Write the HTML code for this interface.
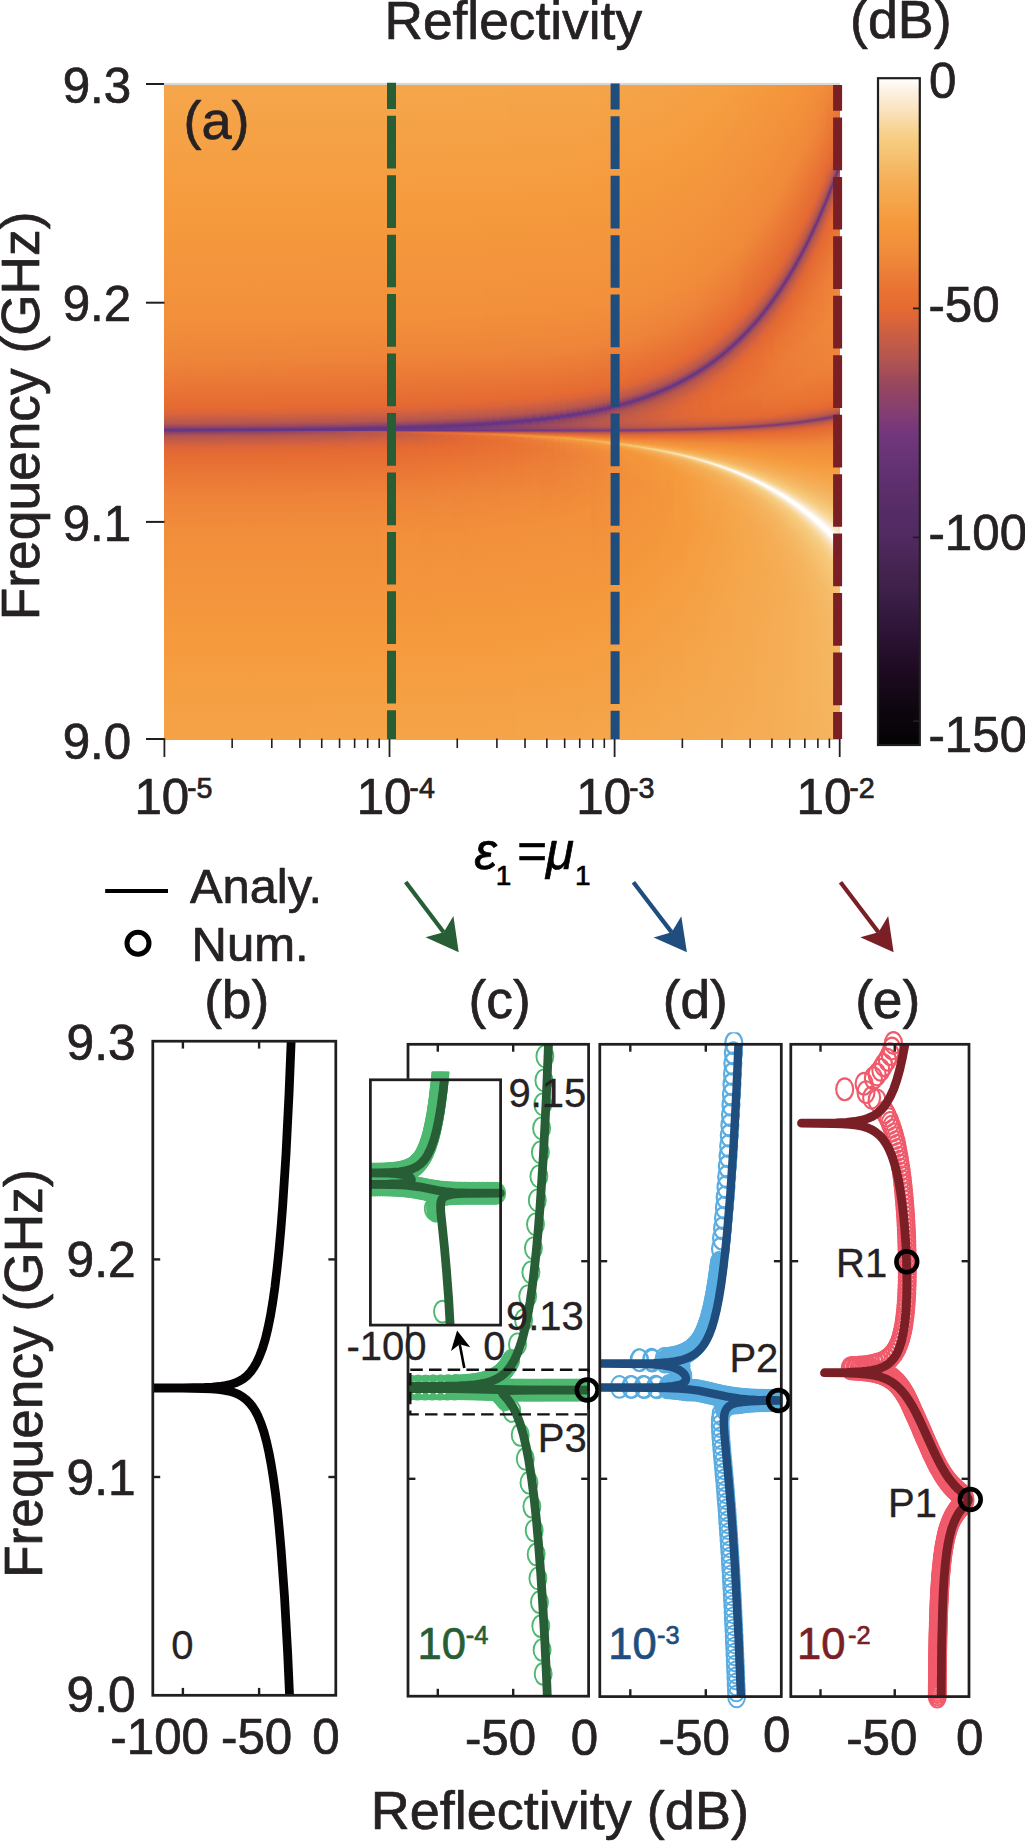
<!DOCTYPE html>
<html><head><meta charset="utf-8"><title>Reflectivity</title>
<style>
html,body{margin:0;padding:0;background:#fff}
#fig{position:relative;width:1025px;height:1841px;overflow:hidden;background:#fff;font-family:"Liberation Sans",sans-serif}
#hm{position:absolute;left:164px;top:84.9px;width:676px;height:654.8px;overflow:hidden}
#hm i{position:absolute;top:0;height:100%;display:block}
svg{position:absolute;left:0;top:0;font-family:"Liberation Sans",sans-serif}
text{stroke-width:.7px;stroke-linejoin:round}
</style></head><body>
<div id="fig">
<div id="hm">
<i style="left:0px;width:8px;background:linear-gradient(#f5a64b 0px,#f59a3d 135px,#f2903b 233.2px,#ee8539 274.8px,#e56a32 322.5px,#da643b 328.8px,#b45650 338.8px,#954561 342.2px,#683786 344.5px,#643683 345.2px,#6c3883 346px,#954561 348px,#b5564f 351.8px,#db643b 361.8px,#e56a32 367.8px,#ee8339 412px,#f18e3b 449.5px,#f59a3d 555.2px,#f5a348 654.8px)"></i>
<i style="left:8px;width:8px;background:linear-gradient(#f5a64b 0px,#f59a3d 135px,#f2903b 233.2px,#ee8539 274.8px,#e56a32 322.5px,#db643b 328.5px,#b5564f 338.5px,#944561 342.2px,#6c3883 344.2px,#643683 345.2px,#6d3883 346px,#954661 348px,#b45650 351.5px,#da643b 361.5px,#e56a32 367.8px,#ee8339 412px,#f18e3b 449.5px,#f59a3d 555.2px,#f5a348 654.8px)"></i>
<i style="left:16px;width:8px;background:linear-gradient(#f5a64b 0px,#f59a3d 135px,#f2903b 233.2px,#ee8439 274.8px,#e56a32 322.5px,#db643b 328.5px,#b5564f 338.5px,#944561 342.2px,#6c3883 344.2px,#643683 345.2px,#673786 345.8px,#924463 347.8px,#b45650 351.5px,#da643b 361.5px,#e56a32 367.8px,#ee8339 412px,#f18e3b 449.5px,#f59a3d 555.2px,#f5a348 654.8px)"></i>
<i style="left:24px;width:8px;background:linear-gradient(#f5a64b 0px,#f59a3d 135px,#f2903b 233.2px,#ee8439 274.8px,#e56a32 322.5px,#da643b 328.5px,#b5564f 338.5px,#944562 342.2px,#6b3784 344.2px,#643683 345.2px,#683786 345.8px,#813f76 346.8px,#934562 347.8px,#b55650 351.5px,#da643b 361.5px,#e56a32 367.8px,#ee8339 412px,#f18e3b 449.5px,#f59a3d 555.2px,#f5a348 654.8px)"></i>
<i style="left:32px;width:8px;background:linear-gradient(#f5a64b 0px,#f59a3d 134.8px,#f2903b 233px,#ee8539 274.5px,#e56a32 322.2px,#da643b 328.5px,#b55650 338.5px,#934562 342.2px,#6a3785 344.2px,#643683 345.2px,#683786 345.8px,#823f75 346.8px,#944562 347.8px,#b5564f 351.5px,#da643b 361.5px,#e56a32 367.5px,#ee8339 411.8px,#f18e3b 449.2px,#f59a3d 555px,#f5a348 654.8px)"></i>
<i style="left:40px;width:8px;background:linear-gradient(#f5a64b 0px,#f59a3d 134.8px,#f2903b 233px,#ee8539 274.5px,#e56a32 322.2px,#da643b 328.5px,#b45650 338.5px,#924463 342.2px,#693785 344.2px,#633682 345px,#683786 345.8px,#7d3d78 346.5px,#944561 347.8px,#b5564f 351.5px,#db643b 361.5px,#e56a32 367.5px,#ee8339 411.8px,#f18e3b 449.2px,#f59a3d 555px,#f5a348 654.8px)"></i>
<i style="left:48px;width:8px;background:linear-gradient(#f5a64b 0px,#f59a3d 134.8px,#f2903b 233px,#ee8539 274.5px,#e56a32 322.2px,#da643b 328.5px,#b45650 338.5px,#954661 342px,#683786 344.2px,#633682 345px,#693785 345.8px,#7f3e77 346.5px,#954561 347.8px,#b45650 351.2px,#da643b 361.2px,#e56a32 367.5px,#ee8339 411.8px,#f18e3b 449.2px,#f59a3d 555px,#f5a348 654.8px)"></i>
<i style="left:56px;width:8px;background:linear-gradient(#f5a64b 0px,#f59a3d 134.8px,#f2903b 233px,#ee8539 274.5px,#e56a32 322.2px,#db643b 328.2px,#b5564f 338.2px,#954561 342px,#683786 344.2px,#633682 345px,#6a3785 345.8px,#803e76 346.5px,#934462 347.5px,#b45650 351.2px,#da643b 361.2px,#e56a32 367.5px,#ee8339 411.8px,#f18e3b 449.2px,#f59a3d 555px,#f5a348 654.8px)"></i>
<i style="left:64px;width:8px;background:linear-gradient(#f5a64b 0px,#f59a3d 134.8px,#f2903b 233px,#ee8439 274.5px,#e56a32 322.2px,#da643b 328.2px,#b5564f 338.2px,#944561 342px,#6c3883 344px,#633582 345px,#6b3784 345.8px,#823f74 346.5px,#944562 347.5px,#b55650 351.2px,#db653a 361.5px,#e56a32 367.5px,#ee8339 411.8px,#f18e3b 449.2px,#f59a3d 555px,#f5a348 654.8px)"></i>
<i style="left:72px;width:8px;background:linear-gradient(#f5a64b 0px,#f59a3d 134.5px,#f2903b 232.8px,#ee8539 274.2px,#e56a32 322px,#da643b 328.2px,#b55650 338.2px,#934562 342px,#6b3784 344px,#633582 345px,#6b3884 345.8px,#7e3d78 346.2px,#954561 347.5px,#b5564f 351.2px,#da643b 361.2px,#e56a32 367.2px,#ee8339 411.5px,#f18e3b 449px,#f59a3d 554.8px,#f5a348 654.8px)"></i>
<i style="left:80px;width:8px;background:linear-gradient(#f5a64b 0px,#f59a3d 134.5px,#f2903b 232.8px,#ee8539 274.2px,#e56a32 322px,#da643b 328.2px,#b45650 338.2px,#954660 341.8px,#693785 344px,#633582 345px,#663785 345.5px,#6c3883 345.8px,#803e76 346.2px,#934562 347.2px,#b45650 351px,#da643b 361px,#e56a32 367.2px,#ee8339 411.8px,#f18e3b 449.2px,#f59a3d 554.8px,#f5a348 654.8px)"></i>
<i style="left:88px;width:8px;background:linear-gradient(#f5a64b 0px,#f59a3d 134.5px,#f2903b 232.8px,#ee8539 274.2px,#e56a32 322px,#db643b 328px,#b5564f 338px,#954561 341.8px,#683786 344px,#623581 345px,#663785 345.5px,#6d3882 345.8px,#823f74 346.2px,#944561 347.2px,#b55650 351px,#da643b 361px,#e56a32 367.2px,#ee8339 411.8px,#f18e3b 449.2px,#f59a3d 554.8px,#f5a348 654.8px)"></i>
<i style="left:96px;width:8px;background:linear-gradient(#f5a64b 0px,#f59a3d 134.5px,#f2903b 232.8px,#ee8439 274.2px,#e56a32 322px,#da643b 328px,#b5564f 338px,#944561 341.8px,#683786 344px,#623581 345px,#663785 345.5px,#6e3882 345.8px,#843f71 346.2px,#934462 347px,#b5564f 351px,#da643b 361px,#e56a32 367px,#ee8339 411.5px,#f18e3b 449px,#f59a3d 554.5px,#f5a348 654.8px)"></i>
<i style="left:104px;width:8px;background:linear-gradient(#f5a64b 0px,#f59a3d 134.2px,#f2903b 232.5px,#ee8539 274px,#e56a32 321.8px,#da643b 328px,#b45650 338px,#934562 341.8px,#6b3784 343.8px,#623581 344.8px,#673785 345.5px,#6f3881 345.8px,#86406f 346.2px,#944561 347px,#b45650 350.8px,#da643b 360.8px,#e56a32 367px,#ee8339 411.5px,#f18e3b 449px,#f59a3d 554.5px,#f5a348 654.8px)"></i>
<i style="left:112px;width:8px;background:linear-gradient(#f5a64b 0px,#f59a3d 134.2px,#f2903b 232.5px,#ee8539 274px,#e56a32 321.8px,#db643b 327.8px,#b5564f 337.8px,#954661 341.5px,#693785 343.8px,#623581 344.8px,#673785 345.5px,#703980 345.8px,#89416b 346.2px,#944562 346.8px,#b5564f 350.8px,#db653a 361px,#e56a32 367px,#ee8339 411.5px,#f18e3b 449px,#f59a3d 554.5px,#f5a348 654.8px)"></i>
<i style="left:120px;width:8px;background:linear-gradient(#f5a64b 0px,#f59a3d 134px,#f2903b 232.2px,#ee8539 273.8px,#e56a32 321.5px,#db653a 327.5px,#b5564f 337.8px,#944561 341.5px,#683786 343.8px,#623581 344.8px,#673786 345.5px,#813f75 346px,#8c4268 346.2px,#934463 346.5px,#b45650 350.5px,#da643b 360.5px,#e56a32 366.8px,#ee8339 411.2px,#f18e3b 448.8px,#f59a3d 554.2px,#f5a348 654.8px)"></i>
<i style="left:128px;width:8px;background:linear-gradient(#f5a64b 0px,#f59a3d 134px,#f2903b 232.5px,#ee8439 274px,#e56a32 321.5px,#da643b 327.8px,#b45650 337.8px,#934562 341.5px,#813f76 342.5px,#673786 343.8px,#623581 344.8px,#673786 345.5px,#72397f 345.8px,#8f4366 346.2px,#954661 346.5px,#b5564f 350.5px,#db653a 360.8px,#e56a32 366.8px,#ee8339 411.2px,#f18e3b 448.8px,#f59a3d 554.2px,#f5a348 654.8px)"></i>
<i style="left:136px;width:8px;background:linear-gradient(#f5a64b 0px,#f59a3d 134px,#f2903b 232.5px,#ee8439 274px,#e56a32 321.5px,#da643b 327.5px,#b5564f 337.5px,#954561 341.2px,#693785 343.5px,#623581 344.5px,#673786 345.5px,#73397f 345.8px,#924463 346.2px,#97475f 346.5px,#b45650 350.2px,#db643b 360.5px,#e56a32 366.5px,#ee8339 411px,#f18e3b 448.5px,#f59a3d 554px,#f5a348 654.8px)"></i>
<i style="left:144px;width:8px;background:linear-gradient(#f5a64b 0px,#f59a3d 133.8px,#f2903b 232.2px,#ee8439 273.8px,#e56a32 321.2px,#da643b 327.5px,#b45650 337.5px,#944562 341.2px,#683786 343.5px,#623581 344.5px,#683786 345.5px,#743a7e 345.8px,#954561 346.2px,#9a485d 346.5px,#b45650 350px,#da643b 360.2px,#e56a32 366.5px,#ee8339 411px,#f18e3b 448.5px,#f59a3d 554px,#f5a448 654.8px)"></i>
<i style="left:152px;width:8px;background:linear-gradient(#f5a64b 0px,#f59a3d 133.8px,#f2903b 232.2px,#ee8439 273.8px,#e56a32 321.2px,#da643b 327.2px,#b5564f 337.2px,#954661 341px,#6a3784 343.2px,#623581 344.5px,#683786 345.5px,#743a7e 345.8px,#97465f 346.2px,#9d495b 346.5px,#b45650 349.8px,#da643b 360px,#e56a32 366.2px,#ee8339 410.8px,#f18e3b 448.5px,#f59a3d 553.8px,#f5a448 654.8px)"></i>
<i style="left:160px;width:8px;background:linear-gradient(#f5a64b 0px,#f59a3d 133.5px,#f2903b 232px,#ee8439 273.5px,#e56a32 321px,#db653a 327px,#b45650 337.2px,#944562 341px,#683786 343.2px,#623581 344.2px,#683786 345.5px,#753a7d 345.8px,#99475e 346.2px,#a04b59 346.5px,#b45650 349.5px,#da643b 360px,#e56a32 366px,#ee8339 410.5px,#f18e3b 448.2px,#f59a3d 553.8px,#f5a448 654.8px)"></i>
<i style="left:168px;width:8px;background:linear-gradient(#f5a64b 0px,#f59a3d 133.5px,#f2903b 232px,#ee8439 273.5px,#e56a32 321px,#da643b 327px,#b5564f 337px,#954661 340.8px,#6b3784 343px,#613581 344.2px,#693786 345.5px,#753a7d 345.8px,#9b485d 346.2px,#a74f57 346.8px,#bf5949 351.8px,#d6623d 358.2px,#e56a32 366px,#ee8339 410.8px,#f18e3b 448.2px,#f59a3d 553.5px,#f5a448 654.8px)"></i>
<i style="left:176px;width:8px;background:linear-gradient(#f5a64b 0px,#f59a3d 133.2px,#f2903b 232px,#ee8439 273.2px,#e56a32 320.8px,#da643b 327px,#b45650 337px,#944562 340.8px,#683786 343px,#613581 344px,#693785 345.5px,#763a7d 345.8px,#9c495c 346.2px,#ab5155 346.8px,#d9643b 359px,#e56a32 365.8px,#ee8339 410.5px,#f18e3b 448px,#f59a3d 553.2px,#f5a448 654.8px)"></i>
<i style="left:184px;width:8px;background:linear-gradient(#f5a64b 0px,#f59a3d 133px,#f2903b 231.8px,#ee8439 273px,#e56a32 320.5px,#db653a 326.5px,#b55650 336.8px,#954561 340.5px,#6a3784 342.8px,#613581 344px,#693785 345.5px,#763a7d 345.8px,#9d4a5b 346.2px,#aa5155 346.5px,#af5452 346.8px,#dc653a 359.8px,#e56a32 365.5px,#ee8339 410.2px,#f18e3b 447.8px,#f59a3d 553px,#f5a448 654.8px)"></i>
<i style="left:192px;width:8px;background:linear-gradient(#f5a64b 0px,#f59a3d 133px,#f2903b 231.8px,#ee8439 273.2px,#e56a32 320.5px,#da643b 326.5px,#b5564f 336.5px,#954660 340.2px,#683786 342.8px,#613581 343.8px,#6a3785 345.5px,#763b7d 345.8px,#9e4a5a 346.2px,#ad5254 346.5px,#b45650 346.8px,#dc653a 359.5px,#e56a32 365.2px,#ee8339 410px,#f18e3b 447.8px,#f59a3d 553px,#f5a448 654.8px)"></i>
<i style="left:200px;width:8px;background:linear-gradient(#f5a64b 0px,#f59a3d 132.8px,#f2903b 231.5px,#ee8439 273px,#e56a32 320.2px,#da643b 326.5px,#b45650 336.5px,#944562 340.2px,#693785 342.5px,#613581 343.8px,#6a3784 345.5px,#763b7d 345.8px,#9e4a5a 346.2px,#af5452 346.5px,#b8574e 346.8px,#ba574c 347px,#bb574c 349px,#dc653a 359.2px,#e56a32 365px,#ee8339 409.8px,#f18e3b 447.5px,#f59a3d 552.8px,#f5a448 654.8px)"></i>
<i style="left:208px;width:8px;background:linear-gradient(#f5a64b 0px,#f59a3d 132.5px,#f2903b 231.5px,#ee8439 272.8px,#e56a32 320px,#db643b 326px,#b45650 336.2px,#944561 340px,#6b3784 342.2px,#613581 343.5px,#6b3784 345.5px,#763b7d 345.8px,#9e4a5a 346.2px,#b15452 346.5px,#bb584b 346.8px,#be5949 347px,#bd584a 349px,#dc653a 359px,#e56a32 364.8px,#ee8339 409.5px,#f18e3b 447.2px,#f59a3d 552.5px,#f5a448 654.8px)"></i>
<i style="left:216px;width:8px;background:linear-gradient(#f5a64b 0px,#f59a3d 132.2px,#f2903b 231.2px,#ee8439 272.5px,#e56a32 319.8px,#db653a 325.8px,#b55650 336px,#954561 339.8px,#683786 342.2px,#613581 343.2px,#6b3784 345.5px,#763b7d 345.8px,#9d4a5b 346.2px,#b15452 346.5px,#be584a 346.8px,#c25b47 347px,#c05a48 349.2px,#dc653a 358.8px,#e56a32 364.5px,#ee8339 409.5px,#f28f3b 447.2px,#f59a3d 552.2px,#f5a448 654.8px)"></i>
<i style="left:224px;width:8px;background:linear-gradient(#f5a64b 0px,#f59a3d 132.2px,#f2903b 231px,#ee8439 272.2px,#e56a32 319.5px,#db653a 325.5px,#b55650 335.8px,#954661 339.5px,#683786 342px,#613581 343px,#6b3784 345.5px,#763a7d 345.8px,#9c495b 346.2px,#b05452 346.5px,#bf5949 346.8px,#c65d45 347px,#c35c46 349.8px,#dc653a 358.2px,#e56a32 364px,#ee8339 409px,#f28f3b 446.8px,#f59a3d 551.8px,#f5a448 654.8px)"></i>
<i style="left:232px;width:8px;background:linear-gradient(#f5a64b 0px,#f59a3d 132px,#f2903b 231px,#ee8439 272.2px,#e56a32 319.2px,#db653a 325.2px,#b5564f 335.5px,#954660 339.2px,#693786 341.8px,#613581 343px,#673785 344.2px,#6c3883 345.5px,#763a7d 345.8px,#9b495c 346.2px,#c05949 346.8px,#ca5e43 347px,#cd5f41 347.2px,#c65d45 348.5px,#c65d45 350px,#dc653a 358px,#e56a32 363.8px,#ee8339 409px,#f28f3b 446.8px,#f59a3d 551.5px,#f5a448 654.8px)"></i>
<i style="left:240px;width:8px;background:linear-gradient(#f5a64b 0px,#f59a3d 131.8px,#f2903b 230.8px,#ee8439 272px,#e56a32 319px,#db653a 325px,#b55650 335.2px,#934463 339.2px,#693785 341.5px,#613581 342.8px,#683786 344.2px,#6c3883 345.5px,#753a7d 345.8px,#9a485d 346.2px,#bf5949 346.8px,#cc5f42 347px,#d2613e 347.2px,#ca5e43 348.8px,#ca5e43 350.2px,#dc653a 357.5px,#e56a32 363.2px,#ee8339 408.5px,#f28f3b 446.2px,#f59a3d 551.2px,#f5a448 654.8px)"></i>
<i style="left:248px;width:8px;background:linear-gradient(#f5a64b 0px,#f59a3d 131.5px,#f2903b 230.8px,#ee8439 272px,#e56a32 318.8px,#db653a 324.8px,#b55650 335px,#954661 338.8px,#693785 341.2px,#613581 342.5px,#683786 344px,#6c3883 345.5px,#753a7d 345.8px,#99475e 346.2px,#cc5f41 347px,#d7633c 347.2px,#da643b 347.5px,#ce6040 348.8px,#cc5f41 350.2px,#e56a32 362.8px,#ee8339 408.2px,#f28f3b 446px,#f59a3d 550.8px,#f5a448 654.8px)"></i>
<i style="left:256px;width:8px;background:linear-gradient(#f5a64b 0px,#f59a3d 131.2px,#f2903b 230.8px,#ee8439 271.8px,#e56a32 318.5px,#db643b 324.5px,#b45650 334.8px,#954561 338.5px,#683786 341px,#613581 342.2px,#673786 343.5px,#6d3883 345.5px,#753a7d 345.8px,#98475f 346.2px,#d9643b 347.2px,#df6737 347.5px,#d3613e 349px,#d0603f 350.5px,#e06736 358.8px,#e66c32 365px,#ee8439 409.2px,#f18e3b 444.8px,#f59a3d 550.2px,#f5a448 654.8px)"></i>
<i style="left:264px;width:8px;background:linear-gradient(#f5a64b 0px,#f59a3d 131px,#f2903b 230.5px,#ee8439 271.8px,#e56a32 318.2px,#db643b 324.2px,#b45650 334.5px,#944561 338.2px,#683786 340.8px,#613581 341.8px,#683786 343.2px,#6d3882 344.2px,#6d3883 345.5px,#753a7d 345.8px,#843f72 346px,#964660 346.2px,#d8633c 347.2px,#e26835 347.5px,#e46a33 347.8px,#d7633c 349.2px,#d4623d 350.8px,#e56a32 361.5px,#e86f32 369.2px,#ef8639 413.8px,#f28f3b 449.5px,#f59a3d 550px,#f5a448 654.8px)"></i>
<i style="left:272px;width:8px;background:linear-gradient(#f5a64b 0px,#f59a3d 130.8px,#f2903b 230.5px,#ee8439 271.5px,#e56a32 318px,#db653a 323.8px,#b5564f 334px,#944562 338px,#7f3e77 339.2px,#673786 340.5px,#613581 341.5px,#673786 342.8px,#6f3881 344px,#6d3882 345.5px,#753a7d 345.8px,#833f73 346px,#954661 346.2px,#e26934 347.5px,#e66c32 348px,#db643b 349.8px,#d8633c 351.2px,#e56a32 360.8px,#e97232 373.2px,#ef883a 417px,#f2903b 452px,#f59a3d 549.5px,#f5a448 654.8px)"></i>
<i style="left:280px;width:8px;background:linear-gradient(#f5a64b 0px,#f59a3d 130.5px,#f2903b 230.5px,#ee8439 271.5px,#e56a32 317.8px,#da643b 323.8px,#b45650 333.8px,#954661 337.5px,#693785 340px,#613581 341.2px,#683786 342.5px,#713980 343.8px,#6d3882 345.5px,#753a7d 345.8px,#833f73 346px,#944561 346.2px,#e06736 347.5px,#e86f32 348px,#df6737 349.8px,#dc653a 352px,#e56a32 360px,#e97232 372.8px,#ef883a 416.5px,#f2903b 451.5px,#f59a3d 548.8px,#f5a448 654.8px)"></i>
<i style="left:288px;width:8px;background:linear-gradient(#f5a64b 0px,#f59a3d 130px,#f2903b 230.2px,#ee8439 271.2px,#e56a32 317.2px,#db653a 323px,#b5564f 333.2px,#944562 337.2px,#683786 339.8px,#613581 340.8px,#673786 342px,#733a7e 343.5px,#6e3882 345.5px,#753a7d 345.8px,#823f74 346px,#934562 346.2px,#dd6639 347.5px,#e66c32 347.8px,#e97232 348.2px,#e26835 350.2px,#df6737 353.2px,#e56a32 359px,#e97232 371.8px,#ee8439 407.8px,#f2903b 451px,#f59a3d 548.2px,#f5a449 654.8px)"></i>
<i style="left:296px;width:8px;background:linear-gradient(#f5a64b 0px,#f59a3d 129.8px,#f2903b 230.2px,#ee8439 271.2px,#e56a32 317px,#da643b 323px,#b45650 333px,#954561 336.8px,#693785 339.2px,#623581 340.5px,#693786 341.8px,#763b7c 343.5px,#6e3882 345.5px,#743a7e 345.8px,#813f75 346px,#924463 346.2px,#e56a32 347.8px,#ea7634 348.5px,#e56b32 350.2px,#e26835 353.5px,#e97232 371px,#ee8439 405.5px,#f18e3b 442px,#f59a3d 547.8px,#f5a449 654.8px)"></i>
<i style="left:304px;width:8px;background:linear-gradient(#f5a64a 0px,#f59a3d 129.5px,#f2903b 230px,#ee8439 270.8px,#e56a32 316.5px,#db653a 322.2px,#b45650 332.5px,#934463 336.5px,#6a3784 338.8px,#623581 340px,#683786 341.2px,#793c7a 343.2px,#793c7b 344px,#6e3882 345.5px,#743a7e 345.8px,#813f75 346px,#904365 346.2px,#9d495b 346.5px,#e06736 347.8px,#e76e32 348px,#eb7936 348.5px,#eb7a36 348.8px,#e66c32 350.8px,#e46a33 354.2px,#ee8539 407.2px,#f28f3b 443.5px,#f59a3d 547px,#f5a449 654.8px)"></i>
<i style="left:312px;width:8px;background:linear-gradient(#f5a64a 0px,#f59a3d 129px,#f2903b 229.8px,#ee8439 270.5px,#e56a32 316px,#db653a 321.8px,#b45650 332px,#934562 336px,#6b3784 338.2px,#623581 339.5px,#683786 340.8px,#773b7c 342px,#7d3d78 343px,#7b3c79 344px,#6e3882 345.5px,#743a7e 345.8px,#813e76 346px,#8f4365 346.2px,#9c495c 346.5px,#e56b32 348px,#ec7d38 348.8px,#ec7d38 349px,#e76e32 351px,#e66b32 355px,#ef8639 409.2px,#f28f3b 445.2px,#f59a3d 546.2px,#f5a449 654.8px)"></i>
<i style="left:320px;width:8px;background:linear-gradient(#f5a64a 0px,#f59a3d 128.8px,#f28f3b 229.5px,#ee8439 270.2px,#e56a32 315.5px,#db653a 321.2px,#b45650 331.5px,#934562 335.5px,#6b3784 337.8px,#623581 339px,#693785 340.2px,#783b7b 341.5px,#803e76 342.8px,#7f3e77 343.8px,#6f3881 345.5px,#803e76 346px,#8e4366 346.2px,#9b485d 346.5px,#b45650 347px,#e26835 348px,#e76e32 348.2px,#ed8139 349px,#ee8239 349.2px,#e87132 351.2px,#e66d32 355.8px,#ef873a 411.2px,#f2903b 447px,#f59a3d 545.2px,#f5a449 654.8px)"></i>
<i style="left:328px;width:8px;background:linear-gradient(#f5a64a 0px,#f59a3d 128.2px,#f28f3b 229.8px,#ee8439 270.5px,#e56a32 315.2px,#da643b 321px,#b45650 331px,#954661 334.8px,#6a3785 337.2px,#623581 338.5px,#683786 339.5px,#7d3d78 341.2px,#843f72 342.5px,#823f74 343.8px,#6f3881 345.5px,#803e76 346px,#9a485d 346.5px,#e56b32 348.2px,#ef8539 349.2px,#ef873a 349.5px,#eb7a37 350.5px,#e97232 351.8px,#e76e32 356.8px,#ef883a 412.5px,#f2903b 447px,#f59a3d 544.5px,#f5a449 654.8px)"></i>
<i style="left:336px;width:8px;background:linear-gradient(#f5a64a 0px,#f59a3d 127.8px,#f28f3b 229.2px,#ee8439 269.8px,#e56a32 314.5px,#dc653a 320px,#b5564f 330.2px,#944561 334.2px,#683786 336.8px,#623581 337.8px,#693785 339px,#7f3e77 340.8px,#87406d 342.2px,#844071 343.8px,#6f3881 345.5px,#803e76 346px,#99475e 346.5px,#e26835 348.2px,#e97232 348.8px,#f0893a 349.5px,#f18c3a 349.8px,#ec7c38 351px,#ea7533 352.2px,#e87032 357.5px,#f0893a 413.5px,#f2903b 446px,#f59a3d 543.5px,#f5a449 654.8px)"></i>
<i style="left:344px;width:8px;background:linear-gradient(#f5a54a 0px,#f59a3d 127.2px,#f28f3b 229.2px,#ee8439 269.8px,#e56a32 314px,#db653a 319.5px,#b45650 329.8px,#954661 333.5px,#6a3785 336px,#623581 337.2px,#683786 338.2px,#823f74 340.2px,#8b4268 342px,#87406e 343.8px,#703881 345.5px,#803e76 346px,#98475e 346.5px,#e56a32 348.5px,#f28f3b 350px,#ec7c38 351.8px,#ea7634 353px,#e97132 358.8px,#f0893a 413.8px,#f2903b 444.8px,#f59a3d 542.5px,#f5a449 654.8px)"></i>
<i style="left:352px;width:8px;background:linear-gradient(#f5a54a 0px,#f59a3d 126.8px,#f28f3b 228.8px,#ee8439 269.2px,#e56a32 313.2px,#dc653a 318.8px,#b5564f 329px,#934562 333px,#6b3784 335.2px,#623581 336.5px,#683786 337.5px,#833f73 339.5px,#8b4169 340.5px,#904464 341.8px,#8b4268 343.5px,#833f73 344.2px,#753a7d 345px,#703980 345.5px,#803e76 346px,#98475f 346.5px,#b6564f 347.2px,#e16835 348.5px,#e87032 349px,#f18c3a 350px,#f3923b 350.5px,#ed7f38 352.2px,#eb7936 353.5px,#e97333 359.5px,#f08a3a 415px,#f2903b 443.5px,#f59a3d 541.2px,#f5a549 654.8px)"></i>
<i style="left:360px;width:8px;background:linear-gradient(#f5a54a 0px,#f59a3d 126px,#f28f3b 228.5px,#ee8439 268.8px,#e56a32 312.5px,#dc653a 318px,#b5564f 328.2px,#934562 332.2px,#6a3784 334.5px,#623581 335.8px,#693785 336.8px,#854071 338.8px,#8d4267 339.8px,#944561 341.2px,#914464 343.2px,#713980 345.5px,#803e76 346px,#97475f 346.5px,#b55650 347.2px,#e46a33 348.8px,#ea7735 349.5px,#f2913b 350.5px,#f4943b 351px,#ee8239 352.8px,#ec7b37 354px,#ea7534 360.8px,#f08a3a 413.5px,#f2903b 442.2px,#f59a3d 540px,#f5a549 654.8px)"></i>
<i style="left:368px;width:8px;background:linear-gradient(#f5a54a 0px,#f59a3d 125.2px,#f28f3b 228.2px,#ee8439 268.2px,#e56a32 311.8px,#dc653a 317.2px,#b55650 327.5px,#924463 331.5px,#693785 333.8px,#623581 334.8px,#683786 335.8px,#823f75 337.5px,#8e4366 338.8px,#98475f 341px,#944562 343.2px,#8a4169 344px,#773b7c 345px,#713980 345.5px,#803e76 346px,#8b4268 346.2px,#a04b59 346.8px,#b35650 347.2px,#e16836 348.8px,#e97232 349.5px,#f2903b 350.8px,#f4973c 351.2px,#ec7d38 355px,#ea7735 362px,#f08a3a 412px,#f2903b 440.8px,#f59a3d 538.8px,#f5a549 654.8px)"></i>
<i style="left:376px;width:7px;background:linear-gradient(#f5a54a 0px,#f59a3d 124.8px,#f28f3b 227.5px,#ee8439 267.5px,#e56b32 310.8px,#dc653a 316.5px,#b45650 326.8px,#954561 330.5px,#683786 333px,#633582 334px,#693785 335px,#813f76 336.5px,#934562 338.2px,#9b485d 340.5px,#9a485d 342.2px,#944562 343.5px,#783b7c 345px,#72397f 345.5px,#803e76 346px,#8b4268 346.2px,#9f4b5a 346.8px,#ba574c 347.5px,#e36933 349px,#e97333 349.8px,#f28f3b 351px,#f59a3d 351.8px,#ef8639 354.2px,#ec7e38 356px,#eb7936 363.2px,#f2903b 439.2px,#f59a3d 537.2px,#f5a54a 654.8px)"></i>
<i style="left:383px;width:7px;background:linear-gradient(#f5a54a 0px,#f59a3d 124px,#f28f3b 227.2px,#ee8439 267px,#e56b32 310px,#dc653a 315.8px,#b45650 326px,#944562 329.8px,#6a3784 332px,#633582 333px,#683786 334px,#803e76 335.5px,#944562 337.2px,#9d4a5b 340px,#9d495b 342px,#954661 343.5px,#8e4366 344px,#783b7b 345px,#72397f 345.5px,#813e76 346px,#8c4268 346.2px,#9f4a5a 346.8px,#b9574d 347.5px,#e16836 349px,#e87132 349.8px,#f59b3e 352px,#f59d41 352.2px,#f4963b 353px,#f18c3a 354.2px,#ed8038 357px,#eb7a37 364.8px,#f2903b 437.8px,#f59a3d 535.8px,#f5a54a 654.8px)"></i>
<i style="left:390px;width:6px;background:linear-gradient(#f5a54a 0px,#f59a3d 123.2px,#f28f3b 226.8px,#ee8439 266.5px,#e56b32 309.2px,#dc653a 315px,#b5564f 325px,#934462 329px,#693786 331.2px,#633582 332.2px,#693785 333.2px,#823f74 334.8px,#944562 336.2px,#a14c59 340px,#a04b59 341.8px,#974660 343.5px,#8b4169 344.2px,#793c7a 345px,#73397f 345.5px,#813f76 346px,#8c4268 346.2px,#9f4a5a 346.8px,#b8574d 347.5px,#e46933 349.2px,#eb7936 350.5px,#f59a3d 352.2px,#f5a145 352.8px,#f4953b 353.8px,#ed8139 358px,#ec7c37 366px,#f2903b 436.2px,#f59a3d 534.5px,#f5a54a 654.8px)"></i>
<i style="left:396px;width:6px;background:linear-gradient(#f5a54a 0px,#f59a3d 122.2px,#f28f3b 226.2px,#ee8439 266px,#e56b32 308.5px,#dc653a 314.2px,#b5564f 324.2px,#954561 328px,#683786 330.5px,#633682 331.2px,#683786 332.2px,#813f76 333.8px,#934562 335.2px,#a44e58 339.5px,#a34d58 341.5px,#9a485d 343.2px,#924463 344px,#813f75 344.8px,#753a7d 345.2px,#733a7e 345.5px,#813f75 346px,#8c4268 346.2px,#9e4a5a 346.8px,#b8574e 347.5px,#e26835 349.2px,#e97332 350.2px,#f5993d 352.5px,#f59e42 352.8px,#f5a448 353.2px,#f4963c 354.2px,#ee8439 358.5px,#ec7e38 367px,#f2903b 434.8px,#f59a3d 533px,#f5a54a 654.8px)"></i>
<i style="left:402px;width:6px;background:linear-gradient(#f5a54a 0px,#f59a3d 121.5px,#f28f3b 226px,#ee8439 265.5px,#e56b32 307.8px,#dc653a 313.5px,#b45650 323.5px,#944562 327.2px,#693785 329.5px,#633682 330.5px,#6a3785 331.5px,#803e76 332.8px,#944562 334.2px,#9e4a5a 336.2px,#a74f56 339px,#a64f57 341.2px,#9b495c 343.2px,#944562 344px,#7b3c79 345px,#743a7e 345.5px,#823f75 346px,#8c4268 346.2px,#9e4a5a 346.8px,#b7574e 347.5px,#e06736 349.2px,#e97132 350.2px,#f59c3f 353px,#f5a64b 353.5px,#f5a74c 353.8px,#f59b3f 354.5px,#f4963b 355px,#ef873a 358.8px,#ed7f38 368.5px,#f2903b 433px,#f59a3d 531.5px,#f5a54a 654.8px)"></i>
<i style="left:408px;width:5px;background:linear-gradient(#f5a54a 0px,#f59a3d 120.8px,#f28f3b 225.2px,#ee8439 264.8px,#e56b32 306.8px,#dc653a 312.8px,#b5564f 322.5px,#924463 326.5px,#813f75 327.5px,#683786 328.8px,#633682 329.5px,#683786 330.5px,#833f74 332px,#954661 333.5px,#a44d58 336.2px,#aa5155 338.8px,#a95155 340.8px,#a14c59 342.8px,#954561 344px,#7c3d79 345px,#743a7e 345.5px,#823f74 346px,#8d4267 346.2px,#9e4a5a 346.8px,#b7574e 347.5px,#df6638 349.2px,#e66b32 349.8px,#e97232 350.5px,#f59a3d 353.2px,#f5a94f 354px,#f5a94f 354.2px,#f59a3d 355.2px,#f0893a 359.5px,#ed8139 369.8px,#f2903b 431.2px,#f59a3d 530px,#f5a54a 654.8px)"></i>
<i style="left:413px;width:5px;background:linear-gradient(#f5a54a 0px,#f59a3d 119.8px,#f28f3b 224.8px,#ee8439 264.2px,#e56b32 306px,#dc653a 312px,#b5564f 321.8px,#954561 325.5px,#6b3784 327.8px,#633682 328.8px,#6a3785 329.8px,#813f76 331px,#944561 332.5px,#a54e57 335.5px,#ad5353 338.5px,#ac5254 340.8px,#a24c58 342.8px,#954661 344px,#7c3d78 345px,#753a7d 345.5px,#823f74 346px,#8d4267 346.2px,#9f4a5a 346.8px,#b7574e 347.5px,#e16835 349.5px,#e87132 350.5px,#f4953b 353.2px,#f59e41 353.8px,#f5ab52 354.5px,#f59c3f 355.8px,#f4953b 356.5px,#ef8639 362.2px,#ee8239 370.8px,#f2903b 429.8px,#f59a3d 528.5px,#f5a54a 654.8px)"></i>
<i style="left:418px;width:5px;background:linear-gradient(#f5a549 0px,#f59a3d 119px,#f28f3b 224.2px,#ee8439 263.5px,#e56b32 305.2px,#db653a 311.2px,#b55650 321px,#944562 324.8px,#683786 327px,#643683 328px,#683786 328.8px,#7f3e77 330px,#944561 331.5px,#a64f57 334.5px,#b05452 338px,#af5353 340.5px,#a34d58 342.8px,#924463 344.2px,#7d3d78 345px,#753a7d 345.5px,#833f74 346px,#8d4267 346.2px,#9f4a5a 346.8px,#b6574e 347.5px,#e06736 349.5px,#e97232 350.8px,#f59c3f 354px,#f5a74c 354.5px,#f5ad55 355px,#f59b3e 356.5px,#f4953b 357.2px,#ef873a 363.5px,#ee8439 372.2px,#f2903b 427.8px,#f59a3d 527px,#f5a64a 654.8px)"></i>
<i style="left:423px;width:4px;background:linear-gradient(#f5a549 0px,#f59a3d 118px,#f28f3b 224px,#ee8439 263px,#e56b32 304.5px,#db653a 310.5px,#b45650 320.2px,#934562 324px,#683786 326.2px,#633682 327px,#6a3785 328px,#813f75 329.2px,#954661 330.8px,#aa5155 334.5px,#b35551 337.8px,#b15452 340.5px,#a74f57 342.5px,#934462 344.2px,#7e3d78 345px,#763a7d 345.5px,#7a3c7a 345.8px,#8e4267 346.2px,#9f4a5a 346.8px,#b6564f 347.5px,#df6737 349.5px,#e87132 350.8px,#f59a3d 354.2px,#f5aa50 355px,#f5af58 355.5px,#f59c3f 357px,#f4953b 358px,#f0893a 364.5px,#ef8539 372.2px,#f2903b 426px,#f59a3d 525.5px,#f5a64a 654.8px)"></i>
<i style="left:427px;width:4px;background:linear-gradient(#f5a549 0px,#f59a3d 117.2px,#f28f3b 223.2px,#ee8439 262.2px,#e56b32 303.8px,#db653a 309.8px,#b45650 319.5px,#934562 323.2px,#6c3883 325.2px,#643683 326.2px,#6a3784 327.2px,#823f74 328.5px,#964660 330px,#ac5254 333.8px,#b55650 337px,#b45650 340px,#aa5155 342.2px,#944562 344.2px,#7e3e77 345px,#763b7d 345.5px,#7a3c7a 345.8px,#8e4366 346.2px,#9f4a5a 346.8px,#b6564f 347.5px,#df6738 349.5px,#e56a32 350px,#e97232 351px,#f59a3d 354.5px,#f5b15a 355.8px,#f5b15a 356px,#f59d41 357.5px,#f4963b 358.5px,#f08b3a 363.8px,#ef8639 373.2px,#f59a3d 524.2px,#f5a64b 654.8px)"></i>
<i style="left:431px;width:4px;background:linear-gradient(#f5a549 0px,#f59a3d 116.5px,#f28f3b 222.8px,#ee8439 261.8px,#e56b32 303px,#db653a 309px,#b45650 318.8px,#954660 322.2px,#6b3784 324.5px,#643683 325.5px,#683786 326.2px,#833f73 327.8px,#924463 328.8px,#98475e 329.5px,#ae5353 333.2px,#b7574e 336.8px,#b5564f 340px,#ad5353 342px,#944561 344.2px,#7f3e77 345px,#763b7c 345.5px,#833f72 346px,#98475f 346.5px,#b6564f 347.5px,#da643b 349.2px,#e56a32 350px,#ec7d38 352.2px,#f4963b 354.5px,#f59d40 355px,#f5b35d 356.2px,#f5a145 357.8px,#f5983c 358.8px,#f18c3a 364.2px,#ef883a 374px,#f59a3d 522.8px,#f5a64b 654.8px)"></i>
<i style="left:435px;width:4px;background:linear-gradient(#f5a449 0px,#f59a3d 115.5px,#f28f3b 222.2px,#ee8339 261.2px,#e56b32 302.2px,#db653a 308.2px,#b5564f 317.8px,#954561 321.5px,#693785 323.8px,#643683 324.8px,#693785 325.5px,#813f75 326.8px,#8c4268 327.5px,#98475f 328.5px,#af5452 332.5px,#b8574d 336.2px,#b7574e 339.8px,#ae5353 342px,#99475e 344px,#8e4366 344.5px,#803e77 345px,#773b7c 345.5px,#7b3c79 345.8px,#98475f 346.5px,#b6564f 347.5px,#e46a33 350px,#e97332 351.2px,#f59c3f 355.2px,#f5b661 356.8px,#f5a247 358.2px,#f5993d 359.2px,#f18d3b 365px,#f0893a 375px,#f59a3d 521.2px,#f5a64b 654.8px)"></i>
<i style="left:439px;width:4px;background:linear-gradient(#f5a449 0px,#f59a3d 114.5px,#f28f3b 221.8px,#ee8339 260.5px,#e56b32 301.5px,#dc653a 307.2px,#b5564f 317px,#944562 320.8px,#683786 323px,#643683 323.8px,#6b3784 324.8px,#934463 327px,#9b485c 328px,#b35551 332.2px,#ba574c 336px,#ba574c 339.2px,#b15551 341.8px,#99485e 344px,#8f4366 344.5px,#803e76 345px,#773b7c 345.5px,#7b3c79 345.8px,#98475e 346.5px,#b6564f 347.5px,#e36933 350px,#e97232 351.2px,#f59a3d 355.5px,#f5b864 357.2px,#f5a448 358.8px,#f5993d 360px,#f18e3b 366px,#f08a3a 375.5px,#f59a3d 519.8px,#f5a64b 654.8px)"></i>
<i style="left:443px;width:4px;background:linear-gradient(#f5a449 0px,#f59a3d 113.5px,#f28f3b 221.2px,#ee8339 260px,#e56b32 300.8px,#dc653a 306.5px,#b45650 316.2px,#954561 319.8px,#693785 322px,#643683 322.8px,#6a3785 323.8px,#924463 326px,#a24c59 328px,#b45650 331.5px,#bc584b 335.5px,#bc584b 339px,#b35551 341.8px,#9a485d 344px,#904365 344.5px,#813f76 345px,#773b7c 345.5px,#7c3d79 345.8px,#98475e 346.5px,#b6564f 347.5px,#e36934 350px,#e97132 351.2px,#f4973c 355.5px,#f59d40 356px,#f5b965 357.5px,#f5ba67 357.8px,#f5a84e 359px,#f59a3d 360.8px,#f18e3b 367px,#f08b3a 376.2px,#f59a3d 518.2px,#f5a64b 654.8px)"></i>
<i style="left:447px;width:3px;background:linear-gradient(#f5a449 0px,#f59a3d 112.8px,#f28f3b 220.8px,#ee8339 259.2px,#e56b32 300px,#db653a 305.8px,#b5564f 315.2px,#944561 319px,#683786 321.2px,#643683 322px,#683786 322.8px,#944562 325.2px,#a34d58 327.2px,#b45650 330.5px,#be584a 335.2px,#bd584a 339px,#b45650 341.8px,#9a485d 344px,#904464 344.5px,#813f75 345px,#783b7b 345.5px,#7c3d79 345.8px,#98475e 346.5px,#b6564f 347.5px,#e26834 350px,#e97232 351.5px,#f59c3f 356.2px,#f5ac53 357.2px,#f5bc69 358px,#f5bc6a 358.2px,#f5a94f 359.5px,#f5993d 361.5px,#f28f3b 368px,#f18c3a 377.2px,#f59a3d 516.8px,#f5a64b 654.8px)"></i>
<i style="left:450px;width:3px;background:linear-gradient(#f5a449 0px,#f59a3d 111.8px,#f28f3b 220.2px,#ee8339 258.8px,#e56b32 299.2px,#dc653a 305px,#b45650 314.8px,#944561 318.2px,#683786 320.5px,#643683 321.2px,#6c3883 322.2px,#944562 324.5px,#a54e57 326.8px,#b5564f 329.8px,#bf5949 334.8px,#be5949 338.8px,#b55650 341.8px,#9b485d 344px,#914464 344.5px,#813f75 345px,#783b7b 345.5px,#7c3d79 345.8px,#99475e 346.5px,#b6564f 347.5px,#dc653a 349.5px,#e56a32 350.2px,#f59c3f 356.5px,#f5ab52 357.5px,#f5bf6d 358.5px,#f5ab52 359.8px,#f5a246 360.8px,#f59a3d 362px,#f4953b 363.8px,#f18e3b 372px,#f18c3a 384.5px,#f59a3d 515px,#f5a64b 654.8px)"></i>
<i style="left:453px;width:3px;background:linear-gradient(#f5a449 0px,#f59a3d 111px,#f28f3b 219.5px,#ee8339 258px,#e56b32 298.5px,#dc653a 304.2px,#b5564f 313.8px,#944561 317.5px,#683786 319.8px,#643683 320.5px,#683786 321.2px,#944561 323.8px,#a54e57 326px,#b6574e 329.2px,#c15a48 334.5px,#bf5949 338.8px,#b5564f 341.8px,#9b485c 344px,#914464 344.5px,#813f75 345px,#793b7b 345.5px,#7d3d78 345.8px,#99485d 346.5px,#b6574e 347.5px,#dc653a 349.5px,#e56a32 350.2px,#f59c3f 356.8px,#f5ae57 358px,#f6c06e 358.8px,#f6c170 359px,#f5ae56 360px,#f5a247 361.2px,#f59a3d 362.8px,#f4953b 364.5px,#f18e3b 373px,#f18d3b 386px,#f59a3d 512.8px,#f5a74c 654.8px)"></i>
<i style="left:456px;width:3px;background:linear-gradient(#f5a449 0px,#f59a3d 110px,#f28f3b 219px,#ee8339 257.2px,#e56b32 297.8px,#db653a 303.5px,#b5564f 313px,#944562 316.8px,#6b3784 318.8px,#643683 319.8px,#693785 320.5px,#934463 322.8px,#ab5254 326px,#b9574c 329.2px,#c25b47 334px,#c15a48 338.5px,#b6564f 341.8px,#9b485c 344px,#904464 344.5px,#813f76 345px,#793c7b 345.5px,#7e3e77 345.8px,#934462 346.2px,#9a485d 346.5px,#b7574e 347.5px,#dc653a 349.5px,#e56a32 350.2px,#f59c3f 357px,#f5ad55 358.2px,#f6c373 359.2px,#f6c171 359.5px,#f5ae56 360.5px,#f5a348 361.8px,#f59a3d 363.2px,#f4953b 365.5px,#f28f3b 374.5px,#f18e3b 387.5px,#f59a3d 510.5px,#f5a74c 654.8px)"></i>
<i style="left:459px;width:3px;background:linear-gradient(#f5a448 0px,#f59a3d 109px,#f18e3b 218.5px,#ee8339 256.8px,#e56b32 297px,#db653a 302.8px,#b5564f 312.2px,#924463 316px,#6a3785 318px,#643683 318.8px,#6b3784 319.8px,#944561 322px,#ac5254 325.2px,#ba574c 328.5px,#c35b47 333.5px,#c25b47 338.2px,#b6574e 341.8px,#ad5353 342.8px,#9b485c 344px,#904365 344.5px,#813e76 345px,#793c7a 345.5px,#7f3e77 345.8px,#944562 346.2px,#b7574e 347.5px,#dc653a 349.5px,#e66b32 350.5px,#f5993d 357px,#f5ac54 358.5px,#f6c373 359.5px,#f6c575 359.8px,#f5ae57 361px,#f5a448 362.2px,#f59a3d 364px,#f4953b 366.5px,#f28f3b 389px,#f59a3d 508.2px,#f5a74c 654.8px)"></i>
<i style="left:462px;width:3px;background:linear-gradient(#f5a448 0px,#f59a3d 108px,#f18e3b 217.8px,#ee8339 256px,#e56b32 296.2px,#dc653a 301.8px,#b45650 311.5px,#944561 315px,#683786 317.2px,#643683 318px,#693786 318.8px,#934462 321px,#ac5254 324.2px,#bb584b 327.8px,#c55c46 333px,#c45c46 338px,#b8574d 341.5px,#ae5353 342.8px,#9b485c 344px,#904365 344.5px,#803e76 345px,#7a3c7a 345.5px,#813e76 345.8px,#954561 346.2px,#b8574d 347.5px,#dc653a 349.5px,#e66b32 350.5px,#f5993d 357.2px,#f5ab52 358.8px,#f5b45e 359.2px,#f6c171 359.8px,#f6c677 360.2px,#f5af57 361.5px,#f5a549 362.8px,#f59a3d 364.8px,#f4953b 367.5px,#f28f3b 390.5px,#f59a3d 506px,#f5a74c 654.8px)"></i>
<i style="left:465px;width:3px;background:linear-gradient(#f5a448 0px,#f59a3d 106.8px,#f18e3b 217.2px,#ee8339 255.2px,#e56a32 295.5px,#db653a 301px,#b5564f 310.5px,#934463 314.2px,#693785 316.2px,#643683 317px,#6c3883 318px,#954561 320.2px,#af5353 323.8px,#bd584a 327.5px,#c65d45 332.8px,#c55c46 337.8px,#b9574d 341.5px,#b15452 342.5px,#9f4b5a 343.8px,#8f4365 344.5px,#803e76 345px,#7b3c7a 345.5px,#823f75 345.8px,#964660 346.2px,#b35650 347.2px,#bd584a 347.8px,#dc653a 349.5px,#e46a33 350.2px,#e87132 351.5px,#f5993d 357.5px,#f5ad55 359.2px,#f6c575 360.2px,#f6c87a 360.5px,#f6c778 360.8px,#f5af58 362px,#f5a448 363.5px,#f59a3e 365.5px,#f4953b 368.5px,#f2903b 396.8px,#f59a3d 503.5px,#f5a74c 654.8px)"></i>
<i style="left:468px;width:3px;background:linear-gradient(#f5a448 0px,#f59a3d 105.8px,#f18e3b 216.8px,#ee8339 254.8px,#e56a32 294.8px,#db653a 300.2px,#b45650 309.8px,#944562 313.2px,#6b3784 315.2px,#643683 316.2px,#6a3784 317px,#944561 319.2px,#af5353 322.8px,#be5949 326.8px,#c85d44 332.2px,#c75d45 337.2px,#bb584b 341.2px,#b15551 342.5px,#9f4a5a 343.8px,#8f4366 344.5px,#7f3e77 345px,#7a3c7a 345.2px,#7c3d79 345.5px,#9e4a5a 346.5px,#b45650 347.2px,#c25b47 348px,#dc653a 349.5px,#e46a33 350.2px,#e97232 351.8px,#f59b3f 358px,#f5ac54 359.5px,#f5b560 360px,#f6c879 360.8px,#f6ca7c 361px,#f5b059 362.5px,#f5a54a 364px,#f59a3d 366.5px,#f4953b 369.5px,#f2913b 399px,#f59a3d 501px,#f5a74d 654.8px)"></i>
<i style="left:471px;width:3px;background:linear-gradient(#f5a448 0px,#f59a3d 104.5px,#f18e3b 216px,#ee8339 253.8px,#e56a32 293.8px,#dc653a 299px,#b45650 308.8px,#944561 312.2px,#6c3883 314.2px,#643683 315.2px,#6a3785 316px,#944561 318.2px,#b15452 322px,#c05a48 326.2px,#c95e43 331.8px,#c85e44 337.2px,#bb584b 341.2px,#b25551 342.5px,#9f4a5a 343.8px,#8e4366 344.5px,#7f3e77 345px,#7a3c7a 345.2px,#7c3d78 345.5px,#8e4366 346px,#9f4a5a 346.5px,#b55650 347.2px,#c35b47 348px,#dc653a 349.5px,#e46a33 350.2px,#e97232 351.8px,#f59b3e 358.2px,#f5ae57 360px,#f6c576 361px,#f6cb7f 361.5px,#f5b15a 363px,#f5a64b 364.5px,#f59a3d 367.2px,#f4953b 370.8px,#f2913b 394.5px,#f59a3d 498.5px,#f5a74d 654.8px)"></i>
<i style="left:474px;width:2px;background:linear-gradient(#f5a348 0px,#f59a3d 103.5px,#f18e3b 215.2px,#ee8339 253px,#e56a32 293px,#db653a 298.5px,#b45650 308px,#944562 311.5px,#6b3784 313.5px,#643683 314.2px,#6b3784 315.2px,#954561 317.5px,#b35551 321.5px,#c25b47 326px,#ca5e42 331.5px,#c95e43 337px,#bc584b 341.2px,#b25551 342.5px,#9f4a5a 343.8px,#954660 344.2px,#7e3e77 345px,#7a3c7a 345.2px,#7d3d78 345.5px,#904365 346px,#9f4b59 346.5px,#b5564f 347.2px,#c35b47 348px,#dc653a 349.5px,#e46a33 350.2px,#e97232 351.8px,#f59b3f 358.5px,#f5ad55 360.2px,#f6cc82 361.8px,#f6cc81 362px,#f5b864 363px,#f5b15a 363.5px,#f5a54a 365.2px,#f59a3d 368.2px,#f4953b 372px,#f3913b 396.2px,#f59a3d 496.5px,#f5a84d 654.8px)"></i>
<i style="left:476px;width:2px;background:linear-gradient(#f5a348 0px,#f59a3d 102.8px,#f18e3b 215px,#ee8239 252.8px,#e56a32 292.5px,#db653a 297.8px,#b55650 307.2px,#954561 310.8px,#683786 313px,#643683 313.8px,#6a3785 314.5px,#944561 316.8px,#b35551 320.8px,#c25b47 325.2px,#cb5f42 331.2px,#ca5e43 337px,#bc584b 341.2px,#b25551 342.5px,#9e4a5a 343.8px,#954661 344.2px,#7e3d78 345px,#7b3c7a 345.2px,#7e3d78 345.5px,#99485e 346.2px,#b6564f 347.2px,#c45c46 348px,#dc653a 349.5px,#e46a33 350.2px,#e97232 351.8px,#f59a3d 358.5px,#f5ad56 360.5px,#f5b661 361px,#f6cd83 362px,#f7cd84 362.2px,#f5b35c 363.8px,#f5a84d 365.2px,#f59a3d 368.8px,#f4953b 373px,#f3923b 397.8px,#f59a3d 494.8px,#f5a84d 654.8px)"></i>
<i style="left:478px;width:2px;background:linear-gradient(#f5a348 0px,#f59a3d 102px,#f18e3b 214.2px,#ee8239 251.8px,#e56a32 291.8px,#db653a 297px,#b5564f 306.5px,#954660 310px,#693786 312.2px,#643683 313px,#693786 313.8px,#944562 316px,#b35551 320px,#c35b47 324.8px,#cc5f41 331px,#cb5e42 336.8px,#be584a 341px,#b25551 342.5px,#9e4a5a 343.8px,#954561 344.2px,#7e3d78 345px,#7b3c7a 345.2px,#7f3e77 345.5px,#9a485d 346.2px,#b6564f 347.2px,#c45c46 348px,#dd6539 349.5px,#e46a33 350.2px,#e97132 351.8px,#f59a3e 358.8px,#f5ad56 360.8px,#f5b661 361.2px,#f7cd83 362.2px,#f7cf87 362.5px,#f5b55f 364px,#f5a84d 365.8px,#f59a3d 369.5px,#f4953b 374px,#f3923b 399px,#f59a3d 493px,#f5a84d 654.8px)"></i>
<i style="left:480px;width:2px;background:linear-gradient(#f5a348 0px,#f59a3d 101px,#f18e3b 213.5px,#ee8239 251px,#e56a32 291px,#dc653a 296.2px,#b5564f 305.8px,#934562 309.5px,#6a3785 311.5px,#643683 312.2px,#683786 313px,#934562 315.2px,#b45650 319.5px,#c45c46 324.2px,#cd5f41 330.5px,#cc5f42 336.5px,#be5949 341px,#b25551 342.5px,#9e4a5a 343.8px,#944561 344.2px,#7d3d78 345px,#7b3c79 345.2px,#803e77 345.5px,#944562 346px,#9b485d 346.2px,#b15452 347px,#c05a48 347.8px,#df6737 349.8px,#e56b32 350.5px,#e97132 351.8px,#f59b3e 359px,#f5b15a 361.2px,#f7d089 362.8px,#f7cf87 363px,#f5bb68 364px,#f5b45d 364.5px,#f5a94e 366px,#f59a3d 370.2px,#f4953b 375px,#f3923b 400.5px,#f59a3d 491.2px,#f5a84d 654.8px)"></i>
<i style="left:482px;width:2px;background:linear-gradient(#f5a348 0px,#f59a3d 100px,#f18e3b 213.2px,#ee8239 250.8px,#e56a32 290.5px,#da643b 296px,#b45650 305.2px,#944562 308.8px,#6a3784 310.8px,#643683 311.5px,#683786 312.2px,#934562 314.5px,#b45650 318.8px,#c55c46 323.8px,#ce5f40 330.2px,#cd5f41 336.2px,#c05949 340.8px,#b25551 342.5px,#9e4a5a 343.8px,#944561 344.2px,#7d3d78 345px,#7b3c79 345.2px,#813e76 345.5px,#944561 346px,#9b495c 346.2px,#b15551 347px,#c05a48 347.8px,#df6737 349.8px,#e46a33 350.2px,#e97132 351.8px,#f59c3f 359.2px,#f5b15a 361.5px,#f5ba67 362px,#f7d08a 363px,#f7d08b 363.2px,#f5b661 364.8px,#f5a94e 366.5px,#f59a3d 371px,#f4953b 376.2px,#f3933b 402.2px,#f59a3d 489.5px,#f5a84d 654.8px)"></i>
<i style="left:484px;width:2px;background:linear-gradient(#f5a348 0px,#f59a3d 99.2px,#f18e3b 212.8px,#ee8239 250px,#e56a32 289.8px,#da643b 295.2px,#b45650 304.5px,#944562 308px,#6b3784 310px,#643683 310.8px,#6c3883 311.8px,#934562 313.8px,#b45650 318px,#c55c46 323px,#cf6040 329.8px,#ce5f40 336.2px,#c05a48 340.8px,#b25551 342.5px,#9e4a5a 343.8px,#944562 344.2px,#7d3d78 345px,#7c3d79 345.2px,#813f75 345.5px,#954661 346px,#9c495b 346.2px,#b8574e 347.2px,#d9643b 349.2px,#e46a33 350.2px,#e97332 352px,#f08a3a 355.8px,#f59a3d 359.2px,#f5b15a 361.8px,#f5b966 362.2px,#f8d290 363.5px,#f5b864 365px,#f5b058 365.8px,#f5aa50 366.8px,#f59a3d 371.8px,#f4963b 376.8px,#f3933b 402.8px,#f59a3d 487.5px,#f5a84e 654.8px)"></i>
<i style="left:486px;width:2px;background:linear-gradient(#f5a347 0px,#f59a3d 98.2px,#f18e3b 212px,#ee8239 249.2px,#e56a32 289px,#da643b 294.5px,#b45650 303.8px,#944561 307.2px,#6b3784 309.2px,#643683 310px,#6c3883 311px,#934562 313px,#b45650 317.2px,#c75d44 323.2px,#d0603f 330px,#ce5f40 336.2px,#c05a48 340.8px,#b25551 342.5px,#9d4a5b 343.8px,#934562 344.2px,#7c3d79 345px,#7c3d79 345.2px,#823f74 345.5px,#964660 346px,#b8574d 347.2px,#da643b 349.2px,#e46a33 350.2px,#f4953b 358.5px,#f59b3e 359.5px,#f5ad55 361.8px,#f5be6c 362.8px,#f6ca7d 363.2px,#f8d393 363.8px,#f8d391 364px,#f6ca7b 364.5px,#f5b763 365.5px,#f5ab52 367px,#f59b3f 371.8px,#f4963b 377px,#f3933b 402.8px,#f59a3d 485.8px,#f5a84e 654.8px)"></i>
<i style="left:488px;width:2px;background:linear-gradient(#f5a347 0px,#f59a3d 97.2px,#f18e3b 211.2px,#ee8239 248.5px,#e56a32 288.2px,#da643b 293.8px,#b45650 303px,#944562 306.5px,#6b3784 308.5px,#643683 309.2px,#683786 310px,#944562 312.2px,#b35650 316.2px,#c75d44 322.2px,#d2613e 329.8px,#cf6040 336.2px,#c05a48 340.8px,#b25551 342.5px,#9d495b 343.8px,#934463 344.2px,#823f75 344.8px,#7c3d79 345px,#7d3d78 345.2px,#97465f 346px,#b45650 347px,#da643b 349.2px,#e46a33 350.2px,#f4963b 358.8px,#f59d40 360px,#f5b059 362.2px,#f5bd6b 363px,#f6c97b 363.5px,#f8d393 364px,#f8d597 364.2px,#f6c879 365px,#f5ba66 365.8px,#f5ac53 367.2px,#f59d40 371.8px,#f4973c 377px,#f3943b 402.2px,#f59a3d 483.8px,#f5a84e 654.8px)"></i>
<i style="left:490px;width:2px;background:linear-gradient(#f5a347 0px,#f59a3d 96.2px,#f18e3b 210.5px,#ee8239 247.5px,#e56a32 287.2px,#db653a 292.8px,#b45650 302.2px,#944562 305.8px,#6a3785 307.8px,#643683 308.5px,#683786 309.2px,#944561 311.5px,#b45650 315.5px,#c85e44 321.8px,#d3613e 329.2px,#d1603f 335.5px,#c05a48 340.8px,#b25551 342.5px,#9d495b 343.8px,#924463 344.2px,#813f75 344.8px,#7c3d79 345px,#7d3d78 345.2px,#9e4a5a 346.2px,#b45650 347px,#c25b47 347.8px,#e06737 349.8px,#e46a32 350.2px,#e97132 351.8px,#f08a3a 356px,#f4953b 358.8px,#f59d41 360.2px,#f5b35d 362.8px,#f6c779 363.8px,#f8d69b 364.5px,#f8d597 364.8px,#f6cb7e 365.2px,#f5bd6a 366px,#f5ad55 367.5px,#f59f42 371.8px,#f5983c 377.2px,#f4943b 402.2px,#f59a3d 481.8px,#f5a84e 654.8px)"></i>
<i style="left:492px;width:2px;background:linear-gradient(#f5a347 0px,#f59a3d 95.2px,#f18e3b 209.8px,#ee8239 246.8px,#e56a32 286.5px,#dc653a 291.8px,#b5564f 301.2px,#934562 305px,#693785 307px,#643683 307.8px,#693785 308.5px,#954561 310.8px,#b45650 314.8px,#c95e43 321px,#d4623d 329px,#d2613e 335.2px,#c25b47 340.5px,#b5564f 342.2px,#9c495b 343.8px,#914464 344.2px,#803e76 344.8px,#7c3d79 345px,#7e3d78 345.2px,#904365 345.8px,#9f4b59 346.2px,#ba574c 347.2px,#da643b 349.2px,#e56a32 350.2px,#e97232 352px,#f08a3a 356px,#f5993d 359.8px,#f59f43 360.8px,#f5ad54 362.5px,#f5b661 363.2px,#f6cb7f 364.2px,#f8d69b 364.8px,#f9d89e 365px,#f6ca7b 365.8px,#f6c06f 366.2px,#f5b660 367px,#f5ad55 368px,#f5a044 372px,#f5983c 377.2px,#f4943b 401.8px,#f59a3d 479.8px,#f5a84e 654.8px)"></i>
<i style="left:494px;width:2px;background:linear-gradient(#f5a347 0px,#f59a3d 94.2px,#f18e3b 209.2px,#ee8239 246.2px,#e56a32 285.8px,#db653a 291px,#b5564f 300.5px,#954661 304px,#683786 306.2px,#653684 307px,#6b3784 307.8px,#954661 310px,#b55650 314px,#c95e43 320.2px,#d5623d 328.5px,#d3613e 335px,#c25b47 340.5px,#b5564f 342.2px,#9c495c 343.8px,#904365 344.2px,#803e76 344.8px,#7c3d79 345px,#7f3e77 345.2px,#914464 345.8px,#a04b59 346.2px,#ba574c 347.2px,#db643b 349.2px,#e56a32 350.2px,#e97232 352px,#f08a3a 356.2px,#f5993d 360px,#f59f43 361px,#f5ac54 362.8px,#f5b660 363.5px,#f6ca7c 364.5px,#f9d9a2 365.2px,#f9d89e 365.5px,#f6cd83 366px,#f6c87a 366.2px,#f6bf6e 366.8px,#f5b560 367.5px,#f5ad55 368.5px,#f5a044 372.5px,#f5993d 377.5px,#f4953b 416.5px,#f5a84e 654.8px)"></i>
<i style="left:496px;width:2px;background:linear-gradient(#f5a347 0px,#f59a3d 93.2px,#f18e3b 208.5px,#ed8239 245.5px,#e56a32 285px,#da643b 290.5px,#b55650 299.8px,#944561 303.2px,#6b3784 305.2px,#653684 306px,#683786 306.8px,#944562 309px,#b45650 313px,#ca5e43 319.5px,#d6633c 328.2px,#d4623d 335px,#c25b47 340.5px,#b5564f 342.2px,#a04b59 343.5px,#964660 344px,#7f3e77 344.8px,#7c3d79 345px,#803e76 345.2px,#934562 345.8px,#a14c59 346.2px,#bb584b 347.2px,#db643b 349.2px,#e56a32 350.2px,#e97232 352px,#f08a3a 356.2px,#f59a3d 360.2px,#f5a246 361.5px,#f5ac54 363px,#f5b964 364px,#f6c879 364.8px,#f7cd83 365px,#f9d9a2 365.5px,#f9daa6 365.8px,#f9d79c 366px,#f7d08b 366.2px,#f6c778 366.8px,#f5b863 367.8px,#f5af58 368.8px,#f5a246 372.5px,#f59a3d 377.8px,#f4953b 413.2px,#f59a3d 475.5px,#f5a94e 654.8px)"></i>
<i style="left:498px;width:2px;background:linear-gradient(#f5a347 0px,#f59a3d 92px,#f18e3b 207.5px,#ee8239 244.5px,#e56a32 284px,#db643b 289.5px,#b45650 299px,#934562 302.5px,#693785 304.5px,#653684 305.2px,#693785 306px,#954561 308.2px,#b55650 312.2px,#ca5e43 318.8px,#d8633c 327.8px,#d5623d 334.8px,#c45c46 340.2px,#b25551 342.5px,#964660 344px,#7e3e77 344.8px,#7c3d79 345px,#813f76 345.2px,#944561 345.8px,#9b495c 346px,#b7574e 347px,#c45c46 347.8px,#db653a 349.2px,#e56a32 350.2px,#e97232 352px,#f08a3a 356.2px,#f59a3d 360.5px,#f5a246 361.8px,#f5ae56 363.5px,#f5bc69 364.5px,#f6cb7f 365.2px,#f9dba9 366px,#f9daa6 366.2px,#f7cf88 366.8px,#f6c677 367.2px,#f5b863 368.2px,#f5af58 369.2px,#f5a347 373px,#f59a3d 378.5px,#f4963b 414.8px,#f5a94e 654.8px)"></i>
<i style="left:500px;width:2px;background:linear-gradient(#f5a247 0px,#f59a3d 91px,#f18d3b 207px,#ed8239 243.8px,#e56a32 283.2px,#da643b 288.8px,#b5564f 298px,#954561 301.5px,#6c3883 303.5px,#653684 304.2px,#6c3883 305.2px,#944562 307.2px,#b45650 311.2px,#cb5e42 318px,#d9643b 327.5px,#d6633c 334.5px,#c45c46 340.2px,#b25551 342.5px,#9a485d 343.8px,#7e3d78 344.8px,#7c3d78 345px,#823f75 345.2px,#954661 345.8px,#9c495b 346px,#b25551 346.8px,#c45c46 347.8px,#db653a 349.2px,#e56a32 350.2px,#e97232 352px,#f08a3a 356.5px,#f59a3d 360.8px,#f5a448 362.2px,#f5ae56 363.8px,#f5ba67 364.8px,#f6c97b 365.5px,#f7ce86 365.8px,#f9dba7 366.2px,#f9dcad 366.5px,#f9daa5 366.8px,#f7ce86 367.2px,#f6ca7c 367.5px,#f5ba67 368.5px,#f5b058 369.8px,#f5a347 373.8px,#f59a3d 379.8px,#f4963b 417px,#f5a94f 654.8px)"></i>
<i style="left:502px;width:2px;background:linear-gradient(#f5a247 0px,#f59a3d 89.8px,#f18d3b 206px,#ed8239 242.8px,#e56a32 282.2px,#db643b 287.8px,#b45650 297.2px,#934562 300.8px,#693785 302.8px,#653684 303.5px,#6a3785 304.2px,#954661 306.5px,#b5564f 310.5px,#cb5f42 317.2px,#da643b 327px,#d7633c 334.2px,#c65d45 340px,#b15551 342.5px,#9a485d 343.8px,#7d3d78 344.8px,#7d3d78 345px,#9d495b 346px,#b35551 346.8px,#c55c46 347.8px,#dc653a 349.2px,#e56a32 350.2px,#e97232 352px,#f08a3a 356.5px,#f5993d 360.8px,#f5a54a 362.8px,#f5b059 364.2px,#f5bd6b 365.2px,#f6cc81 366px,#faddae 366.8px,#faddaf 367px,#f7ce85 367.8px,#f6ca7b 368px,#f5bb67 369px,#f5b059 370.2px,#f5a347 374.5px,#f59a3d 381px,#f4963b 404.2px,#f59a3d 468.8px,#f5a94f 654.8px)"></i>
<i style="left:504px;width:2px;background:linear-gradient(#f5a247 0px,#f59a3d 88.8px,#f18d3b 205.2px,#ed8239 241.8px,#e56a32 281.2px,#db653a 286.8px,#b55650 296.2px,#944561 299.8px,#6b3784 301.8px,#653684 302.5px,#683786 303.2px,#944561 305.5px,#b55650 309.5px,#cc5f42 316.5px,#db653a 326.5px,#d8643b 334px,#c75d44 339.8px,#b55650 342.2px,#99485e 343.8px,#944562 344px,#833f74 344.5px,#7d3d78 344.8px,#7d3d78 345px,#9e4a5a 346px,#b45650 346.8px,#c55d45 347.8px,#dc653a 349.2px,#e56a32 350.2px,#e97232 352px,#f08a3a 356.5px,#f5993d 361px,#f5aa50 363.8px,#f5b55f 365px,#f6ca7c 366.2px,#f7cf87 366.5px,#f9dbaa 367px,#fadfb3 367.2px,#faddb0 367.5px,#f8d290 368px,#f6c97b 368.5px,#f5bb68 369.5px,#f5b059 370.8px,#f5a347 375.2px,#f59a3d 382.2px,#f4963c 405.5px,#f59a3d 466.2px,#f5a94f 654.8px)"></i>
<i style="left:506px;width:2px;background:linear-gradient(#f5a246 0px,#f59a3d 87.5px,#f18d3b 204.2px,#ed8239 240.8px,#e56a32 280.2px,#db653a 285.8px,#b5564f 295.2px,#954661 298.8px,#683786 301px,#653684 301.8px,#6b3884 302.5px,#944562 304.5px,#b45650 308.5px,#cc5f41 315.5px,#dc653a 325.8px,#da643b 333.5px,#c85e44 339.5px,#b45650 342.2px,#99475e 343.8px,#7d3d78 344.8px,#7e3e77 345px,#904365 345.5px,#9f4b5a 346px,#b9574d 347px,#d9643b 349px,#e56a32 350.2px,#e97232 352px,#f08a3a 356.8px,#f59a3d 361.2px,#f5ab52 364.2px,#f5b45e 365.2px,#f6c779 366.5px,#f7d28e 367px,#fadeb1 367.5px,#fae0b7 367.8px,#faddaf 368px,#f7d28e 368.5px,#f6c97b 369px,#f5bb68 370px,#f5b15a 371.2px,#f5a247 376.2px,#f59a3d 383.8px,#f4973c 406.8px,#f59a3d 463.8px,#f5a94f 654.8px)"></i>
<i style="left:508px;width:2px;background:linear-gradient(#f5a246 0px,#f59a3d 86.2px,#f18d3b 203.2px,#ed8239 239.8px,#e56a32 279.2px,#db653a 284.8px,#b5564f 294.2px,#934463 298px,#683786 300px,#653684 300.8px,#6a3784 301.5px,#934462 303.5px,#b45650 307.5px,#cb5f42 314.2px,#dc653a 324.2px,#dc653a 332.8px,#ca5e43 339.2px,#b45650 342.2px,#98475f 343.8px,#813f76 344.5px,#7c3d78 344.8px,#7f3e77 345px,#914464 345.5px,#a04b59 346px,#ba574c 347px,#d9643b 349px,#e56a32 350.2px,#e97232 352px,#f08a3a 356.8px,#f59a3d 361.5px,#f5ab52 364.5px,#f5b660 365.8px,#f6ca7c 367px,#f7ce86 367.2px,#fae0b7 368px,#fae1b9 368.2px,#faddaf 368.5px,#f7d18d 369px,#f6c97b 369.5px,#f5b965 370.8px,#f5b059 372px,#f5a246 377.2px,#f59a3d 385.2px,#f4973c 407.8px,#f59a3d 461px,#f5a94f 654.8px)"></i>
<i style="left:510px;width:2px;background:linear-gradient(#f5a246 0px,#f59a3d 85px,#f18d3b 202.5px,#ed8239 238.8px,#e56a32 278.2px,#da643b 284px,#b45650 293.5px,#934562 297px,#693785 299px,#653684 299.8px,#6a3785 300.5px,#954660 302.8px,#b6564f 306.8px,#cd5f41 313.8px,#dd6639 323.8px,#dc653a 333px,#cb5f42 339px,#b45650 342.2px,#97475f 343.8px,#803e76 344.5px,#7c3d78 344.8px,#803e76 345px,#934562 345.5px,#9a485d 345.8px,#b6564f 346.8px,#c75d45 347.8px,#e36934 350px,#e97232 352px,#f08b3a 357px,#f59a3d 361.8px,#f5ac53 365px,#f5b55f 366px,#f6c779 367.2px,#f7d18c 367.8px,#fadeb1 368.2px,#fae2bc 368.5px,#fae1bb 368.8px,#faddaf 369px,#f7d18d 369.5px,#f6c97b 370px,#f5b966 371.2px,#f5b15a 372.5px,#f5a247 378px,#f59a3d 387px,#f59a3d 458px,#f5a94f 654.8px)"></i>
<i style="left:512px;width:1px;background:linear-gradient(#f5a246 0px,#f59a3d 84px,#f18d3b 201.8px,#ed8239 238px,#e56a32 277.5px,#da643b 283.2px,#b45650 292.8px,#934562 296.2px,#693785 298.2px,#653684 299px,#6a3785 299.8px,#954661 302px,#b6564f 306px,#cd5f41 313px,#dd6639 323.2px,#dc653a 333.2px,#cb5f42 339px,#b35650 342.2px,#964660 343.8px,#7f3e77 344.5px,#7d3d78 344.8px,#813f75 345px,#944561 345.5px,#9b495c 345.8px,#b6574e 346.8px,#c75d44 347.8px,#e36933 350px,#e97232 352px,#f08a3a 357px,#f59a3d 361.8px,#f5ac54 365.2px,#f5b763 366.5px,#f6cb7f 367.8px,#f7d089 368px,#fae2bc 368.8px,#fae3bf 369px,#fadfb6 369.2px,#f7cf87 370px,#f6cb7e 370.2px,#f5bb68 371.5px,#f5b059 373px,#f5a246 379px,#f59a3d 388.5px,#f59a3d 455.8px,#f5a94f 654.8px)"></i>
<i style="left:513px;width:1px;background:linear-gradient(#f5a246 0px,#f59a3d 83.2px,#f18d3b 201.5px,#ed8239 237.5px,#e56a32 277px,#da643b 282.8px,#b45650 292.2px,#934562 295.8px,#693785 297.8px,#653684 298.5px,#6a3785 299.2px,#954661 301.5px,#b6564f 305.5px,#cd5f41 312.5px,#de6638 323px,#dc653a 333.5px,#cc5f41 338.8px,#c15a48 340.8px,#b35650 342.2px,#9b495c 343.5px,#8e4366 344px,#7f3e77 344.5px,#7d3d78 344.8px,#823f75 345px,#954561 345.5px,#9c495c 345.8px,#b7574e 346.8px,#c75d44 347.8px,#e36933 350px,#e97232 352px,#f08a3a 357px,#f59a3d 362px,#f5ad54 365.5px,#f5b560 366.5px,#f6c879 367.8px,#f7d18c 368.2px,#fadeb1 368.8px,#fae3be 369px,#fae3c0 369.2px,#fae0b7 369.5px,#f7cf87 370.2px,#f6cb7f 370.5px,#f5bb68 371.8px,#f5b15a 373.2px,#f5a950 375.5px,#f5a246 379.5px,#f59a3d 389.5px,#f59a3d 454.2px,#f5a94f 654.8px)"></i>
<i style="left:514px;width:1px;background:linear-gradient(#f5a246 0px,#f59a3d 82.8px,#f18d3b 201px,#ed8239 237px,#e56a32 276.5px,#da643b 282.2px,#b45650 291.8px,#934562 295.2px,#693785 297.2px,#653684 298px,#6a3785 298.8px,#954660 301px,#b6564f 305px,#c45c46 308.8px,#d3613e 314.5px,#de6638 322.8px,#dc653a 333.5px,#cc5f41 338.8px,#c15a48 340.8px,#b35551 342.2px,#9b495c 343.5px,#7e3e77 344.5px,#7d3d78 344.8px,#9c495b 345.8px,#b7574e 346.8px,#c85d44 347.8px,#e36933 350px,#e97232 352px,#f08a3a 357px,#f59a3d 362px,#f5ad55 365.8px,#f5b965 367px,#f6c97a 368px,#f7d28f 368.5px,#fadfb4 369px,#fae3c0 369.2px,#fae4c1 369.5px,#fae0b7 369.8px,#f7cf88 370.5px,#f6cb7f 370.8px,#f5bc69 372px,#f5b059 373.8px,#f5a246 380.2px,#f59a3d 390.5px,#f59a3d 452.5px,#f5a94f 654.8px)"></i>
<i style="left:515px;width:1px;background:linear-gradient(#f5a246 0px,#f59a3d 82px,#f18d3b 200.5px,#ed8139 236.5px,#e56a32 276px,#db653a 281.5px,#b5564f 291px,#934562 294.8px,#693785 296.8px,#653684 297.5px,#6a3785 298.2px,#954660 300.5px,#b6564f 304.5px,#c45c46 308.2px,#d4623d 314.2px,#df6638 322.5px,#dd6539 333.2px,#cd5f41 338.8px,#c15a48 340.8px,#b35551 342.2px,#9b485d 343.5px,#7e3d78 344.5px,#7d3d78 344.8px,#9d495b 345.8px,#b25551 346.5px,#c85e44 347.8px,#e46933 350px,#e97232 352px,#f08a3a 357px,#f5993d 362px,#f5ac54 365.8px,#f5b762 367px,#f6ca7b 368.2px,#f8d393 368.8px,#fae0b7 369.2px,#fbe4c3 369.5px,#fbe4c3 369.8px,#fae0b7 370px,#f7cf88 370.8px,#f6c87a 371.2px,#f5ba66 372.5px,#f5b059 374px,#f5a246 380.5px,#f59a3d 391.2px,#f59a3d 450.8px,#f5a94f 654.8px)"></i>
<i style="left:516px;width:1px;background:linear-gradient(#f5a246 0px,#f59a3d 81.2px,#f18d3b 200px,#ed8139 236px,#e56a32 275.5px,#db653a 281px,#b5564f 290.5px,#934562 294.2px,#693785 296.2px,#653684 297px,#6a3784 297.8px,#934462 299.8px,#9f4a5a 301px,#b7574e 304.2px,#d4623d 314px,#df6737 322.2px,#dd6639 333px,#ce5f40 338.5px,#b6564f 342px,#9a485d 343.5px,#7e3d78 344.5px,#7d3d78 344.8px,#9d4a5a 345.8px,#b35551 346.5px,#c85e44 347.8px,#e46933 350px,#e97232 352px,#f08a3a 357px,#f59a3d 362.2px,#f5ad55 366px,#f5b864 367.2px,#f6ca7d 368.5px,#f7ce86 368.8px,#fae1b9 369.5px,#fbe5c4 369.8px,#fbe5c4 370px,#fae0b8 370.2px,#f7cf88 371px,#f6c87a 371.5px,#f5ba67 372.8px,#f5b15a 374.2px,#f5a247 380.8px,#f59b3e 391.2px,#f59a3d 449px,#f5a950 654.8px)"></i>
<i style="left:517px;width:1px;background:linear-gradient(#f5a246 0px,#f59a3d 80.8px,#f18d3a 199.8px,#ed8139 235.8px,#e56a32 275px,#db653a 280.5px,#b5564f 290px,#964660 293.5px,#683786 295.8px,#653684 296.5px,#6b3784 297.2px,#934562 299.2px,#b7574e 303.8px,#d5623d 313.5px,#df6737 321.8px,#de6639 333px,#ce5f40 338.5px,#b6564f 342px,#9a485d 343.5px,#944561 343.8px,#833f73 344.2px,#7d3d78 344.5px,#7e3d78 344.8px,#9e4a5a 345.8px,#b35650 346.5px,#c85e44 347.8px,#e46933 350px,#e97232 352px,#f08b3a 357.2px,#f59a3d 362.2px,#f5ad55 366.2px,#f5b965 367.5px,#f6cb7f 368.8px,#f7cf88 369px,#fae2bc 369.8px,#fbe6c6 370px,#fbe5c5 370.2px,#fae0b9 370.5px,#f7d089 371.2px,#f6c97a 371.8px,#f5bb67 373px,#f5b15a 374.5px,#f5aa51 376.8px,#f5a347 381px,#f59b3e 391.5px,#f59a3d 447px,#f5a950 654.8px)"></i>
<i style="left:518px;width:1px;background:linear-gradient(#f5a146 0px,#f59a3d 80px,#f18d3a 199.2px,#ed8139 235px,#e56a32 274.5px,#db643b 280px,#b5564f 289.5px,#954661 293px,#683786 295.2px,#653684 296px,#6b3784 296.8px,#944562 298.8px,#b7574e 303.2px,#d5623d 313.2px,#e06737 321.8px,#de6638 333px,#ce5f40 338.5px,#b5564f 342px,#99485d 343.5px,#7d3d78 344.5px,#7e3e77 344.8px,#8f4365 345.2px,#9f4a5a 345.8px,#b9574d 346.8px,#db643b 349px,#e56a32 350.2px,#e97232 352px,#f08a3a 357.2px,#f59a3d 362.5px,#f5ac54 366.2px,#f5b966 367.8px,#f6cc80 369px,#f7d08a 369.2px,#fae2be 370px,#fbe6c8 370.2px,#fbe6c6 370.5px,#f7d08a 371.5px,#f6c97b 372px,#f5bb68 373.2px,#f5b35c 374.5px,#f5ab52 376.8px,#f5a348 381px,#f59b3e 391.8px,#f59a3d 445px,#f5a950 654.8px)"></i>
<i style="left:519px;width:1px;background:linear-gradient(#f5a146 0px,#f59a3d 79.2px,#f18d3a 198.5px,#ed8139 234.2px,#e56a32 273.8px,#db643b 279.5px,#b5564f 289px,#954561 292.5px,#683786 294.8px,#653684 295.5px,#6c3883 296.2px,#944562 298.2px,#b8574e 302.8px,#d6633c 313px,#e06736 321.5px,#df6737 332px,#d2613e 337.5px,#c45c46 340.2px,#b5564f 342px,#99475e 343.5px,#7d3d78 344.5px,#7f3e77 344.8px,#99475e 345.5px,#b45650 346.5px,#db653a 349px,#e56a32 350.2px,#e97232 352px,#f08a3a 357.2px,#f59a3d 362.5px,#f5ad55 366.5px,#f5b763 367.8px,#f6c87a 369px,#f7d18c 369.5px,#fae3c0 370.2px,#fbe7ca 370.5px,#fbe6c7 370.8px,#f7d08b 371.8px,#f6ca7b 372.2px,#f5bc69 373.5px,#f5b35d 374.8px,#f5ab52 377px,#f5a449 381px,#f59c3f 392px,#f59a3d 442.8px,#f5a950 654.8px)"></i>
<i style="left:520px;width:1px;background:linear-gradient(#f5a146 0px,#f59a3d 78.5px,#f18d3a 198px,#ed8139 233.8px,#e56a32 273.2px,#da643b 279px,#b55650 288.5px,#954561 292px,#6c3883 294px,#653684 294.8px,#683786 295.5px,#944561 297.8px,#b8574d 302.2px,#d6633c 312.5px,#e06736 321.2px,#e06737 331.5px,#d3613e 337.2px,#c45c46 340.2px,#b5564f 342px,#98475e 343.5px,#813f75 344.2px,#7d3d78 344.5px,#7f3e77 344.8px,#914464 345.2px,#a04b59 345.8px,#b55650 346.5px,#c95e43 347.8px,#db653a 349px,#e46933 350px,#e97232 352px,#f08a3a 357.2px,#f59a3d 362.8px,#f5ad55 366.8px,#f5b864 368px,#f6c97b 369.2px,#f7d28e 369.8px,#fbe4c2 370.5px,#fbe8cb 370.8px,#fbe6c8 371px,#f7d18c 372px,#f6ca7c 372.5px,#f5bc69 373.8px,#f5b45d 375px,#f5ab53 377.2px,#f5a549 381.2px,#f59c3f 392.2px,#f59a3d 440.5px,#f5aa50 654.8px)"></i>
<i style="left:521px;width:1px;background:linear-gradient(#f5a145 0px,#f59a3d 78px,#f18d3a 197.8px,#ed8139 233.5px,#e56a32 272.8px,#da643b 278.5px,#b45650 288px,#944561 291.5px,#6b3784 293.5px,#653684 294.2px,#683786 295px,#954561 297.2px,#b8574d 301.8px,#d7633c 312.2px,#e16836 321px,#e06737 331.5px,#d4613e 337.2px,#c45c46 340.2px,#b5564f 342px,#98475f 343.5px,#813e76 344.2px,#7d3d78 344.5px,#803e76 344.8px,#924463 345.2px,#a14c59 345.8px,#b5564f 346.5px,#c95e43 347.8px,#db653a 349px,#e46933 350px,#e97232 352px,#f08a3a 357.2px,#f59a3d 362.8px,#f5ac54 366.8px,#f5b661 368px,#f6ca7c 369.5px,#f8d290 370px,#fbe5c4 370.8px,#fbe8cd 371px,#fbe7c9 371.2px,#f7d18d 372.2px,#f6ca7d 372.8px,#f5bd6a 374px,#f5b45e 375.2px,#f5ac53 377.5px,#f5a54a 381.5px,#f59c40 392.5px,#f59a3d 437.8px,#f5aa50 654.8px)"></i>
<i style="left:522px;width:1px;background:linear-gradient(#f5a145 0px,#f59a3d 77.2px,#f18d3a 197.2px,#ed8139 233px,#e56a32 272.2px,#da643b 278px,#b45650 287.5px,#944562 291px,#6a3785 293px,#653684 293.8px,#693785 294.5px,#954660 296.8px,#b8574d 301.2px,#d7633c 311.8px,#e16835 320.8px,#e06736 331.2px,#dc653a 334.8px,#d4623d 337.2px,#c45c46 340.2px,#b55650 342px,#97475f 343.5px,#803e76 344.2px,#7d3d78 344.5px,#813e76 344.8px,#944562 345.2px,#9a485d 345.5px,#b6564f 346.5px,#ca5e43 347.8px,#db653a 349px,#e46933 350px,#e97232 352px,#f08a3a 357.2px,#f59a3d 362.8px,#f5ad55 367px,#f5b965 368.5px,#f6ca7d 369.8px,#f8d392 370.2px,#fbe5c5 371px,#fbe9ce 371.2px,#fbe8cb 371.5px,#f7d28f 372.5px,#f6cb7e 373px,#f5bb68 374.5px,#f5b35d 375.8px,#f5ab53 378px,#f5a54a 382px,#f59d40 392.8px,#f59a3d 434.8px,#f5aa50 654.8px)"></i>
<i style="left:523px;width:1px;background:linear-gradient(#f5a145 0px,#f59a3d 76.5px,#f18d3a 196.5px,#ed8139 232px,#e56a32 271.5px,#db643b 277.2px,#b5564f 286.8px,#964660 290.2px,#683786 292.5px,#653684 293.2px,#6b3784 294px,#934562 296px,#ae5353 299px,#b9574d 300.8px,#d8633c 311.5px,#e26835 320.5px,#e16836 331px,#d5623d 337px,#c45c46 340.2px,#b45650 342px,#97465f 343.5px,#7f3e77 344.2px,#7d3d78 344.5px,#813f75 344.8px,#944561 345.2px,#9b495c 345.5px,#b6564f 346.5px,#ca5e43 347.8px,#dc653a 349px,#e46a33 350px,#e97232 352px,#f08a3a 357.5px,#f59a3d 363px,#f5ad55 367.2px,#f5ba66 368.8px,#f6cb7e 370px,#f8d494 370.5px,#fbe6c7 371.2px,#fbe9cf 371.5px,#fbe8cc 371.8px,#f8d291 372.8px,#f6cb7f 373.2px,#f5bb69 374.8px,#f5b45e 376px,#f5ac53 378.2px,#f5a54a 382.2px,#f59d40 393px,#f59a3d 432.8px,#f5aa50 654.8px)"></i>
<i style="left:524px;width:1px;background:linear-gradient(#f5a145 0px,#f59a3d 75.8px,#f18d3a 196px,#ed8139 231.5px,#e56a32 271px,#da643b 276.8px,#b55650 286.2px,#954561 289.8px,#683786 292px,#653684 292.8px,#6c3883 293.5px,#944561 295.5px,#af5353 298.5px,#b9574d 300.2px,#d8643b 311px,#e26835 320.2px,#e16835 330.8px,#d5623d 337px,#c75d44 339.8px,#b7574e 341.8px,#9c495c 343.2px,#8e4366 343.8px,#7f3e77 344.2px,#7d3d78 344.5px,#823f74 344.8px,#954561 345.2px,#b6574e 346.5px,#dc653a 349px,#e46a33 350px,#f08a3a 357.5px,#f4953b 361.5px,#f59b3e 363.2px,#f5a54a 365.5px,#f5ae56 367.5px,#f5ba67 369px,#f6c879 370px,#f7cf88 370.5px,#fbe7c8 371.5px,#fbead0 371.8px,#fbe9cd 372px,#f8d392 373px,#f6cc80 373.5px,#f5bc69 375px,#f5b45e 376.2px,#f5ad54 378.2px,#f5a64b 382.5px,#f59d41 393.2px,#f59a3d 433.5px,#f5aa50 654.8px)"></i>
<i style="left:525px;width:1px;background:linear-gradient(#f5a145 0px,#f59a3d 75px,#f18d3a 195.8px,#ed8139 231.2px,#e56a32 270.5px,#da643b 276.2px,#b45650 285.8px,#944561 289.2px,#6b3784 291.2px,#653684 292px,#683786 292.8px,#954561 295px,#af5452 298px,#b9574d 299.8px,#d9643b 310.8px,#e26835 319.8px,#e26835 330.2px,#d6633c 336.8px,#c75d44 339.8px,#b7574e 341.8px,#9b495c 343.2px,#7e3e77 344.2px,#7d3d78 344.5px,#833f74 344.8px,#964660 345.2px,#b7574e 346.5px,#dc653a 349px,#e46a33 350px,#f08a3a 357.5px,#f4953b 361.5px,#f59a3d 363.2px,#f5a449 365.5px,#f5ae57 367.8px,#f5bb68 369.2px,#f6c87a 370.2px,#f7cf89 370.8px,#fbe7ca 371.8px,#fbead1 372px,#fbe9cf 372.2px,#f8d494 373.2px,#f6cc81 373.8px,#f5bf6d 375px,#f5b55f 376.5px,#f5ad55 378.5px,#f5a64b 382.8px,#f59d41 393.5px,#f59b3e 434px,#f5aa50 654.8px)"></i>
<i style="left:526px;width:1px;background:linear-gradient(#f5a145 0px,#f59a3d 74.2px,#f18d3a 195px,#ed8139 230.5px,#e56a32 269.8px,#db643b 275.5px,#b5564f 285px,#934562 288.8px,#693785 290.8px,#653684 291.5px,#6a3785 292.2px,#954660 294.5px,#b05452 297.5px,#ba574c 299.2px,#da643b 310.2px,#e36934 319.5px,#e26835 330.2px,#d6633c 336.8px,#c75d44 339.8px,#b7574e 341.8px,#9b485c 343.2px,#7e3d78 344.2px,#7d3d78 344.5px,#964660 345.2px,#b7574e 346.5px,#dc653a 349px,#e46a33 350px,#f08a3a 357.5px,#f4953b 361.8px,#f59a3d 363.2px,#f5a348 365.5px,#f5ad55 367.8px,#f5b965 369.2px,#f6c97a 370.5px,#f7d089 371px,#fbe7cb 372px,#fbebd2 372.2px,#fbead0 372.5px,#f7d089 373.8px,#f6ca7c 374.2px,#f5bb68 375.8px,#f5b45e 377px,#f5ac54 379.2px,#f5a64b 383.2px,#f59e41 394px,#f59b3e 435px,#f5aa50 654.8px)"></i>
<i style="left:527px;width:1px;background:linear-gradient(#f5a145 0px,#f59a3d 73.5px,#f18d3a 194.5px,#ed8139 230px,#e56a32 269.2px,#da643b 275px,#b5564f 284.5px,#954661 288px,#683786 290.2px,#653684 291px,#6b3784 291.8px,#944562 293.8px,#ae5353 296.8px,#ba574c 298.8px,#da643b 310px,#e36934 319.2px,#e26835 330.2px,#d6633c 336.8px,#c75d44 339.8px,#b6574e 341.8px,#9a485d 343.2px,#7e3d78 344.2px,#7e3d78 344.5px,#97465f 345.2px,#b8574e 346.5px,#dc653a 349px,#e46a32 350px,#f08a3a 357.5px,#f4953b 361.8px,#f59a3d 363.5px,#f5a347 365.5px,#f5ae56 368px,#f5b966 369.5px,#f6c97b 370.8px,#f7d08a 371.2px,#fbe8cc 372.2px,#fbebd4 372.5px,#fbead2 372.8px,#fbe6c7 373px,#f7d08b 374px,#f6ca7d 374.5px,#f5bc69 376px,#f5b45f 377.2px,#f5ad55 379.2px,#f5a84d 382.8px,#f59e42 394.2px,#f59b3e 435.5px,#f5aa50 654.8px)"></i>
<i style="left:528px;width:1px;background:linear-gradient(#f5a145 0px,#f59a3d 72.8px,#f18d3a 193.8px,#ed8139 229px,#e56a32 268.5px,#db643b 274.2px,#b45650 284px,#944561 287.5px,#6b3784 289.5px,#653684 290.2px,#683786 291px,#954561 293.2px,#af5452 296.2px,#ba574c 298.2px,#db643b 309.5px,#e36934 319px,#e36934 330px,#d6633c 336.8px,#c75d44 339.8px,#b6564f 341.8px,#9a485d 343.2px,#7d3d78 344.2px,#7e3e77 344.5px,#8f4366 345px,#9e4a5a 345.5px,#b8574d 346.5px,#d9643b 348.8px,#e56a32 350px,#f08a3a 357.5px,#f4963b 362px,#f59a3d 363.5px,#f5a94f 367px,#f5ba66 369.8px,#f6c97b 371px,#f7d08b 371.5px,#fbe8cc 372.5px,#fbebd5 372.8px,#fbebd3 373px,#fbe7c9 373.2px,#f7d18e 374.2px,#f6cb7e 374.8px,#f5bd6a 376.2px,#f5b55f 377.5px,#f5ad55 379.8px,#f5a84d 383px,#f59e42 394.5px,#f59b3e 436.2px,#f5aa50 654.8px)"></i>
<i style="left:529px;width:1px;background:linear-gradient(#f5a145 0px,#f59a3d 72px,#f18d3a 193.5px,#ed8139 228.8px,#e56a32 268px,#da643b 273.8px,#b5564f 283.2px,#934562 287px,#693785 289px,#653684 289.8px,#6a3785 290.5px,#964660 292.8px,#b05452 295.8px,#bb584b 297.8px,#dc653a 309.2px,#e46933 318.8px,#e36934 329.8px,#d7633c 336.5px,#c75d44 339.8px,#b6564f 341.8px,#99485e 343.2px,#7d3d78 344.2px,#7f3e77 344.5px,#98475e 345.2px,#b9574d 346.5px,#da643b 348.8px,#e56a32 350px,#f08a3a 357.8px,#f4953b 362px,#f59a3d 363.8px,#f5a94f 367.2px,#f5ba67 370px,#f6ca7c 371.2px,#f7d18c 371.8px,#fbe8cd 372.8px,#fbecd5 373px,#fbebd5 373.2px,#fbe8cb 373.5px,#f7d290 374.5px,#f6cc80 375px,#f5bd6b 376.5px,#f5b45e 378px,#f5a84d 383.5px,#f59f42 394.8px,#f59b3f 437px,#f5aa50 654.8px)"></i>
<i style="left:530px;width:1px;background:linear-gradient(#f5a145 0px,#f59a3d 71px,#f18d3a 192.8px,#ed8139 228px,#e56a32 267.2px,#db653a 273px,#b55650 282.8px,#954561 286.2px,#683786 288.5px,#653684 289.2px,#6c3883 290px,#944561 292px,#b15452 295.2px,#bb584b 297.2px,#dc653a 308.8px,#e46933 318.5px,#e36933 329.5px,#d7633c 336.5px,#c75d44 339.8px,#b6564f 341.8px,#99475e 343.2px,#813f75 344px,#7d3d78 344.2px,#7f3e77 344.5px,#99485e 345.2px,#b9574d 346.5px,#da643b 348.8px,#e56a32 350px,#f08a3a 357.8px,#f4953b 362px,#f59a3d 363.8px,#f5a94e 367.2px,#f5b15a 369px,#f5bb68 370.2px,#f7cd84 371.8px,#f7d18d 372px,#fbe8cd 373px,#fcecd6 373.2px,#fcecd6 373.5px,#fbe9cd 373.8px,#f8d392 374.8px,#f6cc81 375.2px,#f5be6c 376.8px,#f5b55f 378.2px,#f5ad55 380.5px,#f5a84e 383.8px,#f59f43 395px,#f59c3f 437.5px,#f5aa50 654.8px)"></i>
<i style="left:531px;width:1px;background:linear-gradient(#f5a145 0px,#f59a3d 70.2px,#f18d3a 192.2px,#ed8139 227.5px,#e56a32 266.8px,#da643b 272.5px,#b5564f 282px,#944562 285.8px,#6a3785 287.8px,#653684 288.5px,#693785 289.2px,#954661 291.5px,#b15551 294.8px,#bc584b 296.8px,#dc653a 308px,#e46a33 318.2px,#e46933 329.5px,#d8633c 336.5px,#c75d45 339.8px,#b5564f 341.8px,#98475f 343.2px,#803e76 344px,#7d3d78 344.2px,#803e76 344.5px,#9a485d 345.2px,#b9574c 346.5px,#da643b 348.8px,#e56a32 350px,#f08a3a 357.8px,#f4963b 362.2px,#f59b3e 364px,#f5aa50 367.8px,#f5bb68 370.5px,#f7cd84 372px,#f7d18e 372.2px,#fbe9cd 373.2px,#fcecd7 373.5px,#fcedd8 373.8px,#fbe9cf 374px,#f8d495 375px,#f6cd83 375.5px,#f5bf6d 377px,#f5b560 378.5px,#f5ad55 381px,#f5a94e 384px,#f59f43 395.2px,#f59c3f 438.2px,#f5aa50 654.8px)"></i>
<i style="left:532px;width:1px;background:linear-gradient(#f5a145 0px,#f59a3d 69.5px,#f18c3a 191.8px,#ed8139 226.8px,#e56a32 266px,#db653a 271.8px,#b55650 281.5px,#954661 285px,#683786 287.2px,#653684 288px,#6b3784 288.8px,#944562 290.8px,#b05452 294px,#bb584b 296px,#dc653a 307.5px,#e56a32 317.8px,#e46a33 329px,#d9643b 336.2px,#c85e44 339.5px,#b8574d 341.5px,#9d495b 343px,#904365 343.5px,#803e76 344px,#7d3d78 344.2px,#813f76 344.5px,#944562 345px,#9b485d 345.2px,#ba574c 346.5px,#da643b 348.8px,#e56a32 350px,#f08a3a 357.8px,#f4953b 362.2px,#f59a3d 364px,#f5aa51 368px,#f5bc69 370.8px,#f7ce84 372.2px,#f7d28e 372.5px,#fbe9ce 373.5px,#fcedd8 373.8px,#fcedd9 374px,#fbead2 374.2px,#f7d18c 375.5px,#f7ce84 375.8px,#f6c677 376.5px,#f5b661 378.8px,#f5ad55 381.2px,#f5a94f 384.2px,#f5a044 395.8px,#f59c3f 439px,#f5aa50 654.8px)"></i>
<i style="left:533px;width:1px;background:linear-gradient(#f5a045 0px,#f59a3d 68.8px,#f18c3a 191.2px,#ed8139 226.2px,#e56a32 265.5px,#da643b 271.5px,#b45650 281px,#944562 284.5px,#6a3784 286.5px,#653684 287.2px,#683786 288px,#954561 290.2px,#b15551 293.5px,#bc584b 295.5px,#dc653a 306.8px,#e56a32 317.2px,#e56a32 328.5px,#da643b 336px,#ca5e43 339.2px,#b8574e 341.5px,#9c495b 343px,#8f4366 343.5px,#7f3e77 344px,#7d3d78 344.2px,#823f75 344.5px,#954561 345px,#b6564f 346.2px,#da643b 348.8px,#e56a32 350px,#f08a3a 357.8px,#f4953b 362.2px,#f59b3e 364.2px,#f5aa50 368px,#f5b25b 369.8px,#f5bc69 371px,#f7ce85 372.5px,#f7d28f 372.8px,#fbe9cd 373.8px,#fcedd8 374px,#fceedb 374.2px,#fbebd4 374.5px,#f8d69b 375.5px,#f7ce86 376px,#f6c778 376.8px,#f5b762 379px,#f5ae56 381.5px,#f5a950 384.2px,#f5a044 396px,#f59c40 439.5px,#f5aa51 654.8px)"></i>
<i style="left:534px;width:1px;background:linear-gradient(#f5a044 0px,#f59a3d 68px,#f18c3a 190.5px,#ed8139 225.5px,#e56a32 264.8px,#db643b 270.5px,#b55650 280.2px,#954661 283.8px,#683786 286px,#653684 286.8px,#6b3784 287.5px,#944562 289.5px,#a44e58 291.2px,#b5564f 293.5px,#c85e44 298.2px,#db653a 305.8px,#e06736 310px,#e56a32 328.2px,#dc653a 335.2px,#c85e44 339.5px,#b45650 341.8px,#9c495c 343px,#7e3e77 344px,#7d3d78 344.2px,#823f74 344.5px,#954661 345px,#b6574e 346.2px,#db643b 348.8px,#e56a32 350px,#f08a3a 357.8px,#f59a3d 364.2px,#f5ae56 369.2px,#f5b863 370.8px,#f6c879 372.2px,#f7d28f 373px,#fbe8cd 374px,#fcedd8 374.2px,#fceedc 374.5px,#fbe7ca 375px,#f9d89e 375.8px,#f7cf88 376.2px,#f6c879 377px,#f5b763 379.2px,#f5ae57 381.8px,#f5a950 384.8px,#f5a044 396.8px,#f59d40 440.8px,#f5aa51 654.8px)"></i>
<i style="left:535px;width:1px;background:linear-gradient(#f5a044 0px,#f59a3d 67px,#f18c3a 189.8px,#ed8139 224.8px,#e56a32 264px,#db653a 269.8px,#b5564f 279.5px,#944562 283.2px,#6a3784 285.2px,#653684 286px,#693786 286.8px,#954561 289px,#ab5254 291.5px,#ba574c 293.8px,#c95e43 298px,#dc653a 305.2px,#e16835 310px,#e56a32 328.5px,#dc653a 335.2px,#c85e44 339.5px,#b45650 341.8px,#9b485c 343px,#7e3d78 344px,#7d3d78 344.2px,#964660 345px,#b7574e 346.2px,#db653a 348.8px,#e56a32 350px,#f08a3a 358px,#f59a3d 364.2px,#f5ae56 369.5px,#f5b864 371px,#f6c879 372.5px,#f7d28f 373.2px,#fbe8cd 374.2px,#fcedd8 374.5px,#fcefdd 374.8px,#fcedd8 375px,#fbe8cd 375.2px,#f8d495 376.2px,#f7cd83 376.8px,#f6c677 377.5px,#f5b762 379.8px,#f5ae56 382.2px,#f5aa50 385.2px,#f5a044 397px,#f59d40 441.2px,#f5aa51 654.8px)"></i>
<i style="left:536px;width:1px;background:linear-gradient(#f5a044 0px,#f59a3d 66.2px,#f18c3a 189.5px,#ed8139 224.2px,#e56a32 263.5px,#db643b 269.2px,#b55650 279px,#954561 282.5px,#683786 284.8px,#653684 285.5px,#6b3884 286.2px,#944562 288.2px,#ad5254 291px,#bb584b 293.5px,#ca5e42 297.8px,#dc653a 304.8px,#e26834 310.5px,#e56a32 329px,#dc653a 335.5px,#c65d45 339.8px,#b35650 341.8px,#954561 343.2px,#7d3d78 344px,#7e3d78 344.2px,#843f72 344.5px,#8e4267 344.8px,#9d4a5a 345.2px,#bc584b 346.5px,#db653a 348.8px,#e56a32 350px,#f08a3a 358px,#f59a3d 364.5px,#f5ae57 369.8px,#f5b864 371.2px,#f6c879 372.8px,#f7d28f 373.5px,#fbe8cc 374.5px,#fcedd8 374.8px,#fcefde 375px,#fceeda 375.2px,#fbead0 375.5px,#f8d598 376.5px,#f7ce85 377px,#f6c778 377.8px,#f5b763 380px,#f5af57 382.5px,#f5aa51 385.2px,#f5a145 397.2px,#f59d41 441.8px,#f5aa51 654.8px)"></i>
<i style="left:537px;width:1px;background:linear-gradient(#f5a044 0px,#f59a3d 65.2px,#f18c3a 188.8px,#ed8139 223.5px,#e56a32 262.8px,#db643b 268.5px,#b5564f 278.2px,#934562 282px,#6a3785 284px,#653684 284.8px,#693785 285.5px,#924463 287.5px,#ac5254 290.2px,#bb584b 292.8px,#cb5e42 297.2px,#dc653a 304px,#e36934 310.2px,#e56a32 329.2px,#dc653a 335.5px,#c45c46 340px,#b35551 341.8px,#9f4b5a 342.8px,#944562 343.2px,#823f74 343.8px,#7d3d78 344px,#7e3e77 344.2px,#8f4366 344.8px,#9e4a5a 345.2px,#b8574d 346.2px,#db653a 348.8px,#e56a32 350px,#f08a3a 358px,#f59a3d 364.5px,#f5af57 370px,#f5b965 371.5px,#f6c87a 373px,#f7d28f 373.8px,#fbe8cb 374.8px,#fcf0df 375.2px,#fcefdd 375.5px,#fbebd3 375.8px,#f8d69b 376.8px,#f7cf87 377.2px,#f6c879 378px,#f5b864 380.2px,#f5b059 382.5px,#f5aa51 385.5px,#f5a145 397.5px,#f59d41 442.5px,#f5aa51 654.8px)"></i>
<i style="left:538px;width:1px;background:linear-gradient(#f5a044 0px,#f59a3d 64.5px,#f18c3a 188px,#ed8139 222.8px,#e56a32 262px,#da643b 268px,#b45650 277.8px,#944561 281.2px,#6c3883 283.2px,#653684 284px,#683786 284.8px,#944561 287px,#ad5254 289.8px,#bb584b 292.2px,#cb5f42 296.8px,#dc653a 303.2px,#e36933 310.2px,#e56a32 329.2px,#dc653a 335.5px,#c65d45 339.8px,#b6564f 341.5px,#9e4a5a 342.8px,#934562 343.2px,#813f75 343.8px,#7d3d78 344px,#7f3e77 344.2px,#98475e 345px,#b8574d 346.2px,#dc653a 348.8px,#e56a32 350px,#f08a3a 358px,#f59a3d 364.8px,#f5af58 370.2px,#f5b965 371.8px,#f6c87a 373.2px,#f7d28f 374px,#fbe7ca 375px,#fcf0df 375.5px,#fcefdf 375.8px,#fbecd6 376px,#f9d89f 377px,#f7d089 377.5px,#f6c97a 378.2px,#f5b965 380.5px,#f5b059 382.8px,#f5ab52 385.8px,#f5a146 398px,#f59d41 443.2px,#f5aa51 654.8px)"></i>
<i style="left:539px;width:1px;background:linear-gradient(#f5a044 0px,#f59a3d 63.8px,#f18c3a 187.5px,#ed8139 222px,#e56a32 261.2px,#da643b 267.2px,#b55650 277px,#954661 280.5px,#683786 282.8px,#653684 283.5px,#6a3784 284.2px,#934562 286.2px,#ac5254 289px,#bb584b 291.5px,#cc5f42 296.2px,#dc653a 302.8px,#e46933 310.2px,#e56a32 329.5px,#dc653a 335.5px,#c45c46 340px,#b6564f 341.5px,#9e4a5a 342.8px,#924463 343.2px,#813f76 343.8px,#7d3d78 344px,#803e77 344.2px,#99485e 345px,#b9574d 346.2px,#dc653a 348.8px,#e46933 349.8px,#f08a3a 358px,#f59a3d 364.8px,#f5ae56 370.2px,#f5b966 372px,#f6c87a 373.5px,#f7d28e 374.2px,#fcecd7 375.5px,#fcf0e0 375.8px,#fcf0e1 376px,#fbe8cd 376.5px,#f8d596 377.5px,#f7ce85 378px,#f6c778 378.8px,#f5b966 380.8px,#f5b15a 383px,#f5ab52 386px,#f5a246 398.2px,#f59e41 443.8px,#f5aa51 654.8px)"></i>
<i style="left:540px;width:1px;background:linear-gradient(#f5a044 0px,#f59a3d 62.8px,#f18c3a 187px,#ed8039 221.5px,#e56a32 260.8px,#db643b 266.5px,#b5564f 276.2px,#944562 280px,#6a3785 282px,#653684 282.8px,#693786 283.5px,#954661 285.8px,#b35650 289.2px,#c35b47 292.8px,#d4623d 298.8px,#dc653a 302px,#e56a32 310.8px,#e56a32 329.8px,#dc653a 335.5px,#c45c46 340px,#b5564f 341.5px,#9d495b 342.8px,#904364 343.2px,#803e76 343.8px,#7d3d78 344px,#803e76 344.2px,#934562 344.8px,#9a485d 345px,#b9574c 346.2px,#dc653a 348.8px,#e46933 349.8px,#f08a3a 358px,#f59a3e 365px,#f5ae57 370.5px,#f5b966 372.2px,#f6c87a 373.8px,#f7d18e 374.5px,#fbecd6 375.8px,#fcf0e0 376px,#fcf1e3 376.2px,#fceedc 376.5px,#f8d69a 377.8px,#f7cf87 378.2px,#f6c87a 379px,#f5ba67 381px,#f5b25c 383px,#f5ab53 386.2px,#f5a246 398.5px,#f59e42 444.5px,#f5aa51 654.8px)"></i>
<i style="left:541px;width:1px;background:linear-gradient(#f5a044 0px,#f59a3d 62px,#f18c3a 186.5px,#ed8039 220.8px,#e56a32 260px,#da643b 266px,#b45650 275.8px,#944561 279.2px,#6c3883 281.2px,#653684 282px,#683786 282.8px,#944561 285px,#b35551 288.5px,#c25b47 292px,#d5623d 298.2px,#dc653a 301.5px,#e56a32 309.8px,#e56a32 329.8px,#dc653a 335.5px,#c45c46 340px,#b5564f 341.5px,#9c495b 342.8px,#8f4366 343.2px,#7f3e77 343.8px,#7d3d78 344px,#813f75 344.2px,#944561 344.8px,#b5564f 346px,#d9643b 348.5px,#e46933 349.8px,#f08a3a 358.2px,#f59a3d 365px,#f5af57 370.8px,#f5ba66 372.5px,#f6c87a 374px,#f7d18d 374.8px,#fbebd4 376px,#fdf2e4 376.5px,#fbebd3 377px,#f9dcaa 377.8px,#f7d089 378.5px,#f6c97b 379.2px,#f5bb68 381.2px,#f5b35c 383.2px,#f5ac53 386.5px,#f5a247 398.8px,#f59e42 445px,#f5aa51 654.8px)"></i>
<i style="left:542px;width:1px;background:linear-gradient(#f5a044 0px,#f59a3d 61px,#f18c3a 185.8px,#ed8039 220px,#e56a32 259.2px,#da643b 265.2px,#b45650 275px,#954661 278.5px,#683786 280.8px,#653684 281.5px,#6b3784 282.2px,#934562 284.2px,#b45650 288px,#c35b47 291.5px,#d5623d 297.8px,#e56a32 309px,#e56a32 330px,#dc653a 335.5px,#c35c46 340px,#b45650 341.5px,#9c495c 342.8px,#7e3e77 343.8px,#7d3d78 344px,#823f74 344.2px,#954661 344.8px,#b6564f 346px,#da643b 348.5px,#e46a33 349.8px,#f08a3a 358.2px,#f59b3e 365.2px,#f5af58 371px,#f5ba66 372.8px,#f6c87a 374.2px,#f7d18d 375px,#fbebd3 376.2px,#fdf3e6 376.8px,#fcecd7 377.2px,#f9d9a2 378.2px,#f7ce86 379px,#f6ca7c 379.5px,#f5ba67 381.8px,#f5b35d 383.5px,#f5ac54 386.8px,#f5a347 399px,#f59e42 445.5px,#f5aa51 654.8px)"></i>
<i style="left:543px;width:1px;background:linear-gradient(#f5a044 0px,#f59a3d 60px,#f18c3a 185px,#ed8039 219.2px,#e56a32 258.5px,#da643b 264.5px,#b55650 274.2px,#934463 278px,#693785 280px,#653684 280.8px,#693785 281.5px,#954660 283.8px,#b35650 287.2px,#c45c46 291px,#d7633c 297.5px,#e56a32 308.2px,#e56a32 330.2px,#dc653a 335.5px,#c35b47 340px,#b45650 341.5px,#a04b59 342.5px,#954661 343px,#7e3d78 343.8px,#7d3d78 344px,#964660 344.8px,#b6574e 346px,#da643b 348.5px,#e46a33 349.8px,#f08a3a 358.2px,#f59a3d 365.2px,#f5af58 371.2px,#f5ba67 373px,#f6c87a 374.5px,#f7d18c 375.2px,#fbead1 376.5px,#fdf3e6 377px,#fdf2e5 377.2px,#fceeda 377.5px,#f9daa6 378.5px,#f7cf88 379.2px,#f6c97a 380px,#f5bb68 382px,#f5b45e 383.8px,#f5ac54 387px,#f5a348 399.5px,#f59f42 446.2px,#f5aa51 654.8px)"></i>
<i style="left:544px;width:1px;background:linear-gradient(#f5a044 0px,#f59a3d 59.2px,#f18c3a 184.5px,#ed8039 218.5px,#e56a32 257.8px,#da643b 263.8px,#b5564f 273.5px,#944562 277.2px,#6a3784 279.2px,#653684 280px,#683786 280.8px,#954561 283px,#b35551 286.5px,#c35c46 290.2px,#d7633c 297px,#e56a32 307.2px,#e56a32 330.2px,#dc653a 335.5px,#c35b47 340px,#b45650 341.5px,#9f4b59 342.5px,#944561 343px,#7d3d78 343.8px,#7e3d78 344px,#9d4a5b 345px,#b7574e 346px,#da643b 348.5px,#e46a33 349.8px,#f08a3a 358.2px,#f59b3e 365.5px,#f5b058 371.5px,#f5ba67 373.2px,#f6c87a 374.8px,#f7d08b 375.5px,#fceedc 377px,#fdf3e6 377.2px,#fdf4e7 377.5px,#f7d08a 379.5px,#f6ca7c 380.2px,#f5bb67 382.5px,#f5ad54 387.5px,#f5a348 399.8px,#f59f43 446.8px,#f5aa51 654.8px)"></i>
<i style="left:545px;width:1px;background:linear-gradient(#f5a043 0px,#f59a3d 58.2px,#f18c3a 183.8px,#ed8039 217.8px,#e56a32 257px,#da643b 263px,#b5564f 272.8px,#944561 276.5px,#6b3784 278.5px,#653684 279.2px,#683786 280px,#944561 282.2px,#b45650 286px,#c45c46 289.8px,#d8633c 296.5px,#e56a32 306.5px,#e56a32 330.2px,#dc653a 335.5px,#c35b47 340px,#b35551 341.5px,#9f4a5a 342.5px,#944562 343px,#823f74 343.5px,#7d3d78 343.8px,#7e3e77 344px,#8f4365 344.5px,#9e4a5a 345px,#b7574e 346px,#da643b 348.5px,#e46a32 349.8px,#f08a3a 358.2px,#f59a3d 365.5px,#f5af57 371.5px,#f5b965 373.2px,#f6c87a 375px,#f7d08a 375.8px,#fceeda 377.2px,#fdf3e6 377.5px,#fdf5e9 377.8px,#fcecd6 378.2px,#f8d598 379.5px,#f7cf87 380px,#f6c97a 380.8px,#f5bb69 382.8px,#f5b45e 384.8px,#f5ad55 387.8px,#f5a448 400px,#f59f43 447.2px,#f5ab51 654.8px)"></i>
<i style="left:546px;width:1px;background:linear-gradient(#f59f43 0px,#f59a3d 57.2px,#f18c3a 183px,#ed8039 217px,#e56a32 256.2px,#da643b 262.2px,#b5564f 272px,#944561 275.8px,#6c3883 277.8px,#653684 278.8px,#6c3883 279.5px,#944562 281.5px,#b45650 285.2px,#c45c46 289px,#d8633c 296px,#e56a32 305.8px,#e76d32 319.2px,#e56a32 330.5px,#dc653a 335.5px,#c25b47 340px,#b25551 341.5px,#9e4a5a 342.5px,#924463 343px,#813f76 343.5px,#7c3d78 343.8px,#7f3e77 344px,#99475e 344.8px,#b8574d 346px,#db643b 348.5px,#e56a32 349.8px,#f08a3a 358.5px,#f59b3e 365.8px,#f5af57 371.8px,#f5b965 373.5px,#f6c87a 375.2px,#f7d08a 376px,#f9d9a1 376.5px,#fcedd9 377.5px,#fdf5eb 378px,#fdf3e6 378.2px,#f9dba7 379.5px,#f7d089 380.2px,#f6ca7b 381px,#f5bb68 383.2px,#f5ad55 388.2px,#f5a449 400.2px,#f59f43 448px,#f5ab51 654.8px)"></i>
<i style="left:547px;width:1px;background:linear-gradient(#f59f43 0px,#f59a3d 56.5px,#f18c3a 182.5px,#ed8039 216.2px,#e56a32 255.5px,#da643b 261.5px,#b45650 271.5px,#954561 275px,#683786 277.2px,#653684 278px,#6b3784 278.8px,#934562 280.8px,#b45650 284.5px,#c45c46 288.2px,#d9643b 295.5px,#e56a32 304.8px,#e76d32 318.8px,#e56a32 330.5px,#dc653a 335.5px,#c25b47 340px,#b6564f 341.2px,#9d4a5b 342.5px,#914464 343px,#803e76 343.5px,#7c3d79 343.8px,#803e76 344px,#99485d 344.8px,#b9574d 346px,#db653a 348.5px,#e56a32 349.8px,#f08a3a 358.5px,#f59a3d 365.8px,#f5af58 372px,#f5b965 373.8px,#f6c87a 375.5px,#f7d089 376.2px,#f8d393 376.5px,#fcecd6 377.8px,#fdf6ec 378.2px,#fdf5e9 378.5px,#f9dcac 379.8px,#f7d18c 380.5px,#f6c97a 381.5px,#f5bc69 383.5px,#f5b45e 385.5px,#f5ad55 388.8px,#f5a449 400.8px,#f59f43 448.8px,#f5ab51 654.8px)"></i>
<i style="left:548px;width:1px;background:linear-gradient(#f59f43 0px,#f59a3d 55.5px,#f18c3a 181.8px,#ed8038 215.5px,#e56a32 254.8px,#da643b 260.8px,#b45650 270.8px,#954561 274.2px,#683786 276.5px,#653684 277.2px,#6a3784 278px,#934562 280px,#b45650 283.8px,#c55c46 287.8px,#da643b 295.2px,#e56a32 304px,#e76e32 318.5px,#e56a32 330.5px,#dc653a 335.5px,#c45c46 339.8px,#b5564f 341.2px,#9c495b 342.5px,#8f4365 343px,#7f3e77 343.5px,#7c3d79 343.8px,#813f76 344px,#944562 344.5px,#9a485d 344.8px,#b9574d 346px,#db653a 348.5px,#e56a32 349.8px,#f08a3a 358.5px,#f59b3e 366px,#f5af58 372.2px,#f5b965 374px,#f6c879 375.8px,#f7cf88 376.5px,#f8d392 376.8px,#fcf0e0 378.2px,#fdf6ec 378.5px,#fef6ec 378.8px,#f9daa5 380.2px,#f7cf89 381px,#f6ca7c 381.8px,#f5bd6a 383.8px,#f5b45e 386px,#f5ad55 389.2px,#f5a54a 401px,#f5a044 419.2px,#f5a043 449.2px,#f5ab51 654.8px)"></i>
<i style="left:549px;width:1px;background:linear-gradient(#f59f43 0px,#f59a3d 54.5px,#f18c3a 181.2px,#ed8038 215px,#e56a32 254px,#da643b 260px,#b45650 270px,#954661 273.5px,#683786 275.8px,#643683 276.5px,#6a3785 277.2px,#934463 279.2px,#b35650 283px,#c55c46 287px,#da643b 294.5px,#e56a32 303.2px,#e76e32 318px,#e56a32 330.2px,#dc653a 335.5px,#c45c46 339.8px,#b55650 341.2px,#9c495c 342.5px,#7e3e77 343.5px,#7d3d78 343.8px,#823f75 344px,#954561 344.5px,#9b495c 344.8px,#ba574c 346px,#dc653a 348.5px,#e56a32 349.8px,#f08a3a 358.5px,#f59a3d 366px,#f5b15a 372.8px,#f5bb68 374.5px,#f6ca7d 376.2px,#f8d291 377px,#fdf5ea 378.8px,#fef7ef 379px,#fdf4e8 379.2px,#f9dba9 380.5px,#f7d18c 381.2px,#f6c97a 382.2px,#f5be6c 384px,#f5b45e 386.5px,#f5ad55 389.8px,#f5a54a 401.2px,#f5a145 419.5px,#f5a044 449.8px,#f5ab52 654.8px)"></i>
<i style="left:550px;width:1px;background:linear-gradient(#f59f43 0px,#f59a3d 53.5px,#f18c3a 180.5px,#ed8038 214.2px,#e56a32 253.2px,#da643b 259.2px,#b45650 269.2px,#954661 272.8px,#683786 275px,#643683 275.8px,#6a3785 276.5px,#924463 278.5px,#b35650 282.2px,#c55c46 286.2px,#db643b 294px,#e56a32 302.2px,#e76e32 317.5px,#e56a32 330.2px,#dc653a 335.5px,#c35c46 339.8px,#b45650 341.2px,#a04b59 342.2px,#954661 342.8px,#7d3d78 343.5px,#7d3d78 343.8px,#833f73 344px,#964660 344.5px,#b6564f 345.8px,#dc653a 348.5px,#e56a32 349.8px,#f08a3a 358.5px,#f59b3e 366.2px,#f5b15a 373px,#f5bb68 374.8px,#f6ca7c 376.5px,#f7d28f 377.2px,#fdf4e9 379px,#fef8f0 379.2px,#fdf6ec 379.5px,#faddae 380.8px,#f7cf88 381.8px,#f6ca7c 382.5px,#f5bf6d 384.2px,#f5b45e 387px,#f5ad55 390.2px,#f5a64a 401.5px,#f5a145 419.8px,#f5a044 450.2px,#f5ab52 654.8px)"></i>
<i style="left:551px;width:1px;background:linear-gradient(#f59f43 0px,#f59a3d 52.5px,#f18c3a 180px,#ed8038 213.5px,#e56a32 252.5px,#d9643b 258.8px,#b45650 268.5px,#954661 272px,#683786 274.2px,#643683 275px,#6a3785 275.8px,#954660 278px,#b35650 281.5px,#c55c46 285.5px,#db653a 293.5px,#e56a32 301.5px,#e76e32 317px,#e56b32 330px,#dc653a 335.5px,#c35b47 339.8px,#b45650 341.2px,#9f4b59 342.2px,#944561 342.8px,#7d3d78 343.5px,#7d3d78 343.8px,#9d4a5b 344.8px,#bb574c 346px,#dc653a 348.5px,#e56a32 349.8px,#f08a3a 358.5px,#f59a3d 366.2px,#f5b059 373px,#f5bb68 375px,#f6ca7c 376.8px,#f7d18e 377.5px,#fef8f0 379.5px,#fef8ef 379.8px,#f9dba8 381.2px,#f7d18c 382px,#f6c97b 383px,#f5be6d 384.8px,#f5b45e 387.5px,#f5ad55 391px,#f5a64b 402px,#f5a145 420.2px,#f5a044 450.5px,#f5ab52 654.8px)"></i>
<i style="left:552px;width:1px;background:linear-gradient(#f59f43 0px,#f59a3d 51.5px,#f18c3a 179px,#ed8038 212.5px,#e56a32 251.5px,#db653a 257.5px,#b5564f 267.5px,#954561 271.2px,#683786 273.5px,#643683 274.2px,#6a3785 275px,#924463 277px,#b35650 280.8px,#c75d44 285.5px,#dc653a 293px,#e56a32 301px,#e76e32 316.8px,#e56b32 330px,#dc653a 335.5px,#c55c46 339.5px,#b35551 341.2px,#9e4a5a 342.2px,#934562 342.8px,#813f75 343.2px,#7c3d78 343.5px,#7e3e77 343.8px,#8f4366 344.2px,#9e4a5a 344.8px,#b7574e 345.8px,#dc653a 348.5px,#e56a32 349.8px,#f08a3a 358.8px,#f59b3e 366.5px,#f5b059 373.2px,#f5bb68 375.2px,#f6ca7b 377px,#f7d18c 377.8px,#faddae 378.5px,#fef7ef 379.8px,#fef9f2 380px,#fdf5ea 380.2px,#faddad 381.5px,#f7cf89 382.5px,#f6ca7c 383.2px,#f6bf6e 385px,#f5b45e 388px,#f5ae56 391.2px,#f5a64b 402.2px,#f5a146 420.8px,#f5a044 451px,#f5ab52 654.8px)"></i>
<i style="left:553px;width:1px;background:linear-gradient(#f59f43 0px,#f59a3d 50.5px,#f18c3a 178.5px,#eb7a37 223.5px,#e56a32 250.8px,#db643b 256.8px,#b5564f 266.8px,#954561 270.5px,#683786 272.8px,#643683 273.5px,#6a3784 274.2px,#964660 276.5px,#b7574e 280.8px,#db653a 291.8px,#e56a32 299.8px,#e76e32 320px,#e56a32 331px,#df6638 334.5px,#cd5f41 338.2px,#b9574d 340.8px,#9d4a5a 342.2px,#914464 342.8px,#803e76 343.2px,#7c3d79 343.5px,#7f3e77 343.8px,#914464 344.2px,#9f4b5a 344.8px,#b35551 345.5px,#ca5e43 347px,#dc653a 348.5px,#e46933 349.5px,#e97232 352px,#f08a3a 358.8px,#f59a3d 366.5px,#f5b45e 374.2px,#f6c97b 377.2px,#f7d08b 378px,#f9dcab 378.8px,#fef6ed 380px,#fefaf4 380.2px,#fef8ef 380.5px,#fadeb2 381.8px,#f7d18c 382.8px,#f6c97b 383.8px,#f6c06f 385.2px,#f5b55f 388.2px,#f5ae56 391.5px,#f5a74c 402.5px,#f5a246 421px,#f5a145 451.5px,#f5ab52 654.8px)"></i>
<i style="left:554px;width:1px;background:linear-gradient(#f59f43 0px,#f59a3d 49.5px,#f08b3a 177.8px,#eb7a37 222.8px,#e56a32 250px,#db643b 256px,#b5564f 266px,#944561 269.8px,#683786 272px,#643683 272.8px,#6b3784 273.5px,#934562 275.5px,#b8574e 280px,#db653a 291px,#e56a32 299px,#e76f32 319.5px,#e56a32 331px,#df6737 334.2px,#d4623d 337px,#bb584b 340.5px,#b15551 341.2px,#9d495b 342.2px,#904365 342.8px,#7f3e77 343.2px,#7c3d79 343.5px,#803e76 343.8px,#924463 344.2px,#a04b59 344.8px,#b45650 345.5px,#ca5e43 347px,#dd6539 348.5px,#e46933 349.5px,#e97232 352px,#f08a3a 358.8px,#f59a3d 366.5px,#f5b45e 374.5px,#f6c97b 377.5px,#f7d089 378.2px,#f9dba9 379px,#fefaf4 380.5px,#fefaf3 380.8px,#f9dcad 382.2px,#f8d290 383px,#f6cc81 383.8px,#f6c778 384.5px,#f5ba67 387px,#f5b15b 390.2px,#f5a74d 401.8px,#f5a246 420.2px,#f5a145 451px,#f5ab52 654.8px)"></i>
<i style="left:555px;width:1px;background:linear-gradient(#f59f42 0px,#f59a3d 48.5px,#f18c3a 176.8px,#eb7a37 221.8px,#e56a32 249px,#db653a 255px,#b5564f 265.2px,#944561 269px,#6c3883 271px,#653684 272px,#6b3784 272.8px,#934562 274.8px,#b8574e 279.2px,#db653a 290.2px,#e56a32 298.2px,#e76f32 319px,#e56a32 331px,#e06737 334px,#d6623d 336.8px,#bb574c 340.5px,#b15452 341.2px,#9c495c 342.2px,#8e4366 342.8px,#7e3e77 343.2px,#7c3d79 343.5px,#813f76 343.8px,#944562 344.2px,#9b485d 344.5px,#b55650 345.5px,#cb5e42 347px,#da643b 348.2px,#e46933 349.5px,#e97232 352px,#f08a3a 358.8px,#f59a3d 366.8px,#f5b45e 374.8px,#f6c97a 377.8px,#f7cf88 378.5px,#f9daa6 379.2px,#fef9f2 380.8px,#fefbf6 381px,#fef7ef 381.2px,#fadeb2 382.5px,#f8d495 383.2px,#f7cf87 383.8px,#f6c87a 384.8px,#f5bb68 387.2px,#f5b25b 390.5px,#f5a84d 402px,#f5a247 420.8px,#f5a145 451.5px,#f5ab52 654.8px)"></i>
<i style="left:556px;width:1px;background:linear-gradient(#f59f42 0px,#f59a3d 47.5px,#f08b3a 176.2px,#eb7a37 221px,#e56a32 248.2px,#da643b 254.5px,#b55650 264.5px,#944562 268.2px,#6b3784 270.2px,#653684 271px,#6c3883 272px,#944562 274px,#b8574d 278.5px,#db653a 289.5px,#e56a32 297.2px,#e86f32 318.2px,#e56a32 331px,#e06736 333.8px,#d7633c 336.5px,#bd584a 340.2px,#b45650 341px,#9b485c 342.2px,#7d3d78 343.2px,#7c3d78 343.5px,#9b495c 344.5px,#b5564f 345.5px,#c85e44 346.8px,#db643b 348.2px,#e46a33 349.5px,#e97232 352px,#f08a3a 358.8px,#f59a3d 366.8px,#f5b45e 375px,#f6c97a 378px,#f7cf87 378.8px,#f9daa4 379.5px,#fef8f0 381px,#fffcf8 381.2px,#fefaf4 381.5px,#fae0b8 382.8px,#f8d391 383.8px,#f7ce85 384.2px,#f6c879 385.2px,#f5bb68 387.8px,#f5b25b 391px,#f5a84d 402.2px,#f5a347 421px,#f5a145 452px,#f5ab52 654.8px)"></i>
<i style="left:557px;width:1px;background:linear-gradient(#f59f42 0px,#f59a3d 46.5px,#f08b3a 175.8px,#eb7a36 220.5px,#e56a32 247.5px,#da643b 253.8px,#b45650 263.8px,#934463 267.5px,#6a3785 269.5px,#643683 270.2px,#683786 271px,#944561 273.2px,#b8574d 277.8px,#db653a 288.8px,#e56a32 296.5px,#e86f32 318px,#e56a32 331px,#e06736 333.8px,#d7633c 336.5px,#bc584a 340.2px,#b45650 341px,#9f4b59 342px,#944561 342.5px,#7d3d78 343.2px,#7d3d78 343.5px,#9c495b 344.5px,#b6564f 345.5px,#c85e44 346.8px,#db653a 348.2px,#e46a33 349.5px,#e97232 352px,#f08a3a 359px,#f59a3d 367px,#f5b45e 375.2px,#f6c87a 378.2px,#f7cf87 379px,#f9dcac 380px,#fefbf7 381.5px,#fffcf8 381.8px,#fadeb2 383.2px,#f8d596 384px,#f7cf88 384.5px,#f6c97a 385.5px,#f5bb68 388.2px,#f5b35c 391.2px,#f5a84e 402.8px,#f5a347 421.8px,#f5a246 453px,#f5ab52 654.8px)"></i>
<i style="left:558px;width:1px;background:linear-gradient(#f59e42 0px,#f59a3d 45.5px,#f08b3a 174.8px,#eb7a36 219.5px,#e56a32 246.5px,#db653a 252.5px,#b5564f 262.8px,#954661 266.5px,#693786 268.8px,#643683 269.5px,#693785 270.2px,#954561 272.5px,#b7574e 276.8px,#db653a 287.8px,#e56a32 295.5px,#e86f32 317.5px,#e56a32 330.8px,#e16836 333.5px,#d6633c 336.5px,#bc584b 340.2px,#b35551 341px,#9e4a5a 342px,#934562 342.5px,#813f75 343px,#7c3d79 343.2px,#7e3d78 343.5px,#9d4a5a 344.5px,#b6574e 345.5px,#d8633c 348px,#e46a32 349.5px,#e97232 352px,#f08a3a 359px,#f59a3d 367px,#f5b45e 375.5px,#f6ca7c 378.8px,#f7d08b 379.5px,#fadfb5 380.5px,#fefaf5 381.8px,#fffdfa 382px,#fefaf4 382.2px,#fae0b8 383.5px,#f8d69b 384.2px,#f7d08b 384.8px,#f6ca7c 385.8px,#f5bc69 388.5px,#f5b35d 391.5px,#f5a84e 403px,#f5a348 422.2px,#f5a246 453.5px,#f5ab52 654.8px)"></i>
<i style="left:559px;width:1px;background:linear-gradient(#f59e42 0px,#f59a3d 44.5px,#f08b3a 174.2px,#eb7a36 218.8px,#e56a32 245.8px,#da643b 252px,#b5564f 262px,#944561 265.8px,#683786 268px,#643683 268.8px,#6a3784 269.5px,#954660 271.8px,#b7574e 276px,#db653a 287px,#e56a32 294.8px,#e87032 317px,#e16835 333.2px,#d8633c 336.2px,#bc584b 340.2px,#b25551 341px,#9d4a5a 342px,#914464 342.5px,#803e76 343px,#7c3d79 343.2px,#7e3e77 343.5px,#904365 344px,#9e4a5a 344.5px,#b7574e 345.5px,#c95e43 346.8px,#dc653a 348.2px,#e56a32 349.5px,#e97232 352px,#f08a3a 359px,#f59a3d 367.2px,#f5b45e 375.8px,#f6ca7c 379px,#f7d08a 379.8px,#fadeb1 380.8px,#fffdfb 382.2px,#fffcf9 382.5px,#fae2be 383.8px,#f8d598 384.8px,#f7d089 385.2px,#f6c97b 386.2px,#f5bc69 389px,#f5b35d 392px,#f5a94e 403.5px,#f5a348 423px,#f5a246 454.2px,#f5ab52 654.8px)"></i>
<i style="left:560px;width:1px;background:linear-gradient(#f59e42 0px,#f08b3a 173.2px,#eb7a36 217.8px,#e56a32 244.8px,#da643b 251px,#b45650 261.2px,#934562 265px,#6b3784 267px,#643683 267.8px,#6c3883 268.8px,#944562 270.8px,#b8574e 275.2px,#db653a 286.2px,#e56a32 293.8px,#e87032 316.2px,#e26835 333px,#d9643b 336px,#be584a 340px,#b15551 341px,#9c495b 342px,#8f4365 342.5px,#7f3e77 343px,#7c3d79 343.2px,#803e77 343.5px,#924463 344px,#a04b59 344.5px,#b35650 345.2px,#c95e43 346.8px,#dc653a 348.2px,#e56a32 349.5px,#e97232 352px,#f08a3a 359px,#f59a3d 367.2px,#f5b45e 376px,#f6c97b 379.2px,#f7cf88 380px,#faddae 381px,#fffcf9 382.5px,#fffefc 382.8px,#fefaf5 383px,#fae0b9 384.2px,#f9d79d 385px,#f7cf88 385.8px,#f6c97b 386.8px,#f5bc69 389.5px,#f5b35d 392.5px,#f5a94f 403.8px,#f5a448 423.2px,#f5a247 454.8px,#f5ab52 654.8px)"></i>
<i style="left:561px;width:1px;background:linear-gradient(#f59e42 0px,#f08b3a 172.8px,#eb7a36 217px,#e56a32 244px,#da643b 250.2px,#b5564f 260.2px,#954661 264px,#693785 266.2px,#643683 267px,#683786 267.8px,#944561 270px,#b7574e 274.2px,#db653a 285.2px,#e56a32 293px,#e87032 316px,#e26835 333px,#d9643b 336px,#bd584a 340px,#b15452 341px,#9c495c 342px,#8e4267 342.5px,#7e3d78 343px,#7c3d79 343.2px,#813f76 343.5px,#944562 344px,#a14c59 344.5px,#b45650 345.2px,#ca5e43 346.8px,#dc653a 348.2px,#e56a32 349.5px,#e97232 352px,#f08a3a 359px,#f59a3d 367.5px,#f5b45e 376.2px,#f6c97b 379.5px,#f7cf87 380.2px,#f9dcab 381.2px,#fefbf5 382.8px,#fffefe 383px,#fffdfb 383.2px,#fae3bf 384.5px,#f8d69a 385.5px,#f7d08b 386px,#f6ca7c 387px,#f5bc69 390px,#f5b45e 392.8px,#f5a94f 404px,#f5a448 423.8px,#f5a247 455.2px,#f5ab52 654.8px)"></i>
<i style="left:562px;width:1px;background:linear-gradient(#f59e42 0px,#f08b3a 171.8px,#eb7a36 216px,#e56a32 243px,#da643b 249.2px,#b55650 259.5px,#944561 263.2px,#683786 265.5px,#643683 266.2px,#6a3784 267px,#954661 269.2px,#b7574e 273.5px,#db653a 284.5px,#e56a32 292px,#e87032 315.2px,#e26934 332.8px,#d8633c 336px,#bd584a 340px,#b45650 340.8px,#9b485d 342px,#7d3d78 343px,#7c3d79 343.2px,#9b495c 344.2px,#b5564f 345.2px,#ca5e42 346.8px,#dc653a 348.2px,#e56a32 349.5px,#e97232 352px,#f08a3a 359px,#f59a3d 367.5px,#f5b45e 376.5px,#f6c97a 379.8px,#f7d18c 380.8px,#fadeb2 381.8px,#fffefc 383.2px,#fffffe 383.5px,#fae1bb 385px,#f9d89f 385.8px,#f7d089 386.5px,#f6ca7c 387.5px,#f5bc69 390.5px,#f5b45e 393.5px,#f5a950 404.5px,#f5a449 424.5px,#f5a347 456.2px,#f5ab52 654.8px)"></i>
<i style="left:563px;width:1px;background:linear-gradient(#f59e42 0px,#f08b3a 171.2px,#eb7a36 215.5px,#e56a32 242.2px,#da643b 248.5px,#b5564f 258.5px,#934463 262.5px,#6a3784 264.5px,#643683 265.2px,#683786 266px,#944562 268.2px,#b8574e 272.8px,#db653a 283.8px,#e56a32 291.2px,#e87032 314.8px,#e36934 332.5px,#db643b 335.5px,#bf5949 339.8px,#b35650 340.8px,#9f4b5a 341.8px,#944562 342.2px,#823f74 342.8px,#7c3d79 343px,#7d3d78 343.2px,#9c495b 344.2px,#b6564f 345.2px,#da643b 348px,#e56a32 349.5px,#e97232 352px,#f08a3a 359.2px,#f59a3d 367.8px,#f5b45e 376.8px,#f6c87a 380px,#f7d08a 381px,#faddaf 382px,#fcefdd 383px,#fffcf9 383.5px,#ffffff 383.8px,#fffefc 384px,#fae4c1 385.2px,#f9d79c 386.2px,#f7cf88 387px,#f6c97b 388px,#f5bc69 391px,#f5b45e 394px,#f5aa50 404.8px,#f5a449 424.8px,#f5a347 456.8px,#f5ab52 654.8px)"></i>
<i style="left:564px;width:1px;background:linear-gradient(#f59e41 0px,#f08b3a 170.2px,#eb7a36 214.5px,#e56a32 241.2px,#da643b 247.5px,#b55650 257.8px,#944561 261.5px,#683786 263.8px,#643683 264.5px,#693785 265.2px,#954561 267.5px,#b7574e 271.8px,#db653a 282.8px,#e56a32 290.2px,#e87132 314.2px,#e36934 332.2px,#db643b 335.5px,#be5949 339.8px,#b25551 340.8px,#9e4a5a 341.8px,#924463 342.2px,#813e76 342.8px,#7c3d79 343px,#7e3d78 343.2px,#97475f 344px,#b6564f 345.2px,#d7633c 347.8px,#e56a32 349.5px,#e97232 352px,#f08a3a 359.2px,#f59a3d 367.8px,#f5b45e 377px,#f6ca7c 380.5px,#f7cf89 381.2px,#fadfb6 382.5px,#ffffff 384px,#ffffff 384.2px,#fffcf8 384.5px,#fcefdd 385px,#fae2bd 385.8px,#f8d69a 386.8px,#f7cf87 387.5px,#f6c97b 388.5px,#f5bc69 391.5px,#f5b45e 394.5px,#f5aa50 405.2px,#f5a549 425.5px,#f5a348 457.5px,#f5ab52 654.8px)"></i>
<i style="left:565px;width:1px;background:linear-gradient(#f59e41 0px,#f08b3a 169.5px,#eb7a36 213.5px,#e56a32 240.2px,#db643b 246.5px,#b5564f 256.8px,#934462 260.8px,#6a3784 262.8px,#643683 263.5px,#6c3883 264.5px,#934562 266.5px,#b7574e 271px,#dc653a 282.2px,#e56a32 290px,#e87132 314.2px,#e36934 332.2px,#da643b 335.5px,#be584a 339.8px,#b25551 340.8px,#9d495b 341.8px,#904365 342.2px,#7f3e77 342.8px,#7b3d79 343px,#7f3e77 343.2px,#98475e 344px,#b25551 345px,#d8633c 347.8px,#e56a32 349.5px,#e97232 352px,#f08a3a 359.2px,#f59a3d 368px,#f5b45e 377.2px,#f6c97b 380.8px,#f7cf87 381.5px,#f9dba8 382.5px,#fcf0df 383.8px,#fffdfb 384.2px,#ffffff 384.5px,#fffffe 384.8px,#fbe5c3 386px,#f8d597 387.2px,#f7d08a 387.8px,#f6c97b 389px,#f5bb68 392.2px,#f5b45e 395.2px,#f5aa51 405.8px,#f5a54a 426.2px,#f5a348 458.2px,#f5ab52 654.8px)"></i>
<i style="left:566px;width:1px;background:linear-gradient(#f59e41 0px,#f08b3a 168.5px,#eb7a36 212.5px,#e56a32 239.2px,#db653a 245.5px,#b55650 256px,#944561 259.8px,#683786 262px,#643683 262.8px,#693785 263.5px,#954561 265.8px,#b8574d 270.2px,#dc653a 281.2px,#e56b32 289.5px,#e87132 313.8px,#e46933 332px,#db653a 335.2px,#c05a48 339.5px,#b5564f 340.5px,#9c495c 341.8px,#8e4366 342.2px,#7e3d78 342.8px,#7b3d79 343px,#803e76 343.2px,#924463 343.8px,#a04b59 344.2px,#b35650 345px,#c95e43 346.5px,#db653a 348px,#e46933 349.2px,#e97132 351.8px,#f08a3a 359.2px,#f59a3d 368px,#f5b45e 377.5px,#f6c97b 381px,#f7d08b 382px,#faddae 383px,#ffffff 384.8px,#fffdfa 385.2px,#fcefdf 385.8px,#fae3c0 386.5px,#f8d495 387.8px,#f7d089 388.2px,#f6ca7c 389.2px,#f5bc69 392.5px,#f5b45e 395.8px,#f5aa51 406.2px,#f5a54a 426.8px,#f5a448 459px,#f5ab53 654.8px)"></i>
<i style="left:567px;width:1px;background:linear-gradient(#f59e41 0px,#f08b3a 168px,#eb7a36 211.8px,#e56a32 238.5px,#da643b 244.8px,#b5564f 255px,#954660 258.8px,#6a3785 261px,#643683 261.8px,#6c3883 262.8px,#944562 264.8px,#b9574d 269.5px,#dc653a 280.5px,#e56b32 288.8px,#e97132 313.5px,#e46933 332px,#db653a 335.2px,#bf5949 339.5px,#b45650 340.5px,#9b485c 341.8px,#7d3d78 342.8px,#7c3d79 343px,#813f75 343.2px,#944561 343.8px,#9b485d 344px,#b45650 345px,#ca5e43 346.5px,#dc653a 348px,#e46a33 349.2px,#e97232 351.8px,#f08a3a 359.2px,#f59a3d 368.2px,#f5b45e 377.8px,#f6c97a 381.2px,#f7d089 382.2px,#fadfb5 383.5px,#fcf0e1 384.5px,#fffefd 385px,#ffffff 385.2px,#ffffff 385.5px,#fceedb 386.2px,#fae2bc 387px,#f8d69b 388px,#f7cf88 388.8px,#f6ca7c 389.8px,#f5bb68 393.2px,#f5b45e 396.2px,#f5ab51 406.5px,#f5a54a 427.2px,#f5a448 459.5px,#f5ab53 654.8px)"></i>
<i style="left:568px;width:1px;background:linear-gradient(#f59d41 0px,#f08b3a 167.2px,#eb7a36 211px,#e56a32 237.5px,#da643b 244px,#b45650 254.2px,#944562 258px,#6c3883 260px,#643683 261px,#6a3785 261.8px,#954561 264px,#b8574d 268.5px,#dc653a 279.5px,#e56b32 287.5px,#e97132 312.5px,#e56a32 331.5px,#db653a 335.2px,#c15a48 339.2px,#b35650 340.5px,#9f4b5a 341.5px,#944562 342px,#823f74 342.5px,#7c3d79 342.8px,#7c3d79 343px,#9c495c 344px,#b5564f 345px,#c75d44 346.2px,#dc653a 348px,#e46a33 349.2px,#e97232 351.8px,#f08a3a 359.2px,#f59a3d 368.2px,#f5b45e 378px,#f6ca7c 381.8px,#f7cf88 382.5px,#fadeb1 383.8px,#fceedc 384.8px,#fffcf8 385.2px,#ffffff 385.5px,#fffefd 386px,#fcecd7 386.8px,#fadeb0 387.8px,#f8d699 388.5px,#f7cf88 389.2px,#f6ca7c 390.2px,#f5bb68 393.8px,#f5b45e 397px,#f5ab52 407px,#f5a64b 428px,#f5a449 460.2px,#f5ab53 654.8px)"></i>
<i style="left:569px;width:1px;background:linear-gradient(#f59d41 0px,#f08b3a 166.2px,#eb7a36 210px,#e56a32 236.5px,#da643b 243px,#b55650 253.2px,#954561 257px,#693785 259.2px,#643683 260px,#683786 260.8px,#944562 263px,#b9574d 267.8px,#dc653a 278.8px,#e66b32 287.5px,#e97232 312.5px,#e56a32 331.5px,#db653a 335.2px,#be5949 339.5px,#b25551 340.5px,#9e4a5a 341.5px,#924463 342px,#803e76 342.5px,#7b3d79 342.8px,#7d3d78 343px,#9d495b 344px,#b6564f 345px,#ca5e42 346.5px,#dc653a 348px,#e56a32 349.2px,#e97232 351.8px,#f08a3a 359.5px,#f59a3d 368.5px,#f5b45e 378.2px,#f6c97b 382px,#f7d08b 383px,#fae4c1 384.5px,#fcf1e2 385.2px,#ffffff 385.8px,#ffffff 386px,#ffffff 386.2px,#fffcf9 386.5px,#fcefde 387px,#fae3c0 387.8px,#f8d597 389px,#f7d08b 389.5px,#f6ca7c 390.8px,#f5bb69 394.2px,#f5b45e 397.5px,#f5ab52 407.5px,#f5a64b 428.5px,#f5a449 461px,#f5ab53 654.8px)"></i>
<i style="left:570px;width:1px;background:linear-gradient(#f59d41 0px,#f08b3a 165.5px,#eb7a36 209px,#e56a32 235.5px,#db643b 241.8px,#b5564f 252.2px,#924463 256.2px,#6a3784 258.2px,#643683 259px,#6b3784 260px,#964660 262.2px,#af5452 265.2px,#b9574c 267px,#dc653a 277.8px,#e66b32 287.2px,#e97232 312.5px,#e56a32 331.5px,#dc653a 335px,#c05a48 339.2px,#b15551 340.5px,#9d495b 341.5px,#904365 342px,#7f3e77 342.5px,#7b3c79 342.8px,#7e3d77 343px,#904365 343.5px,#9e4a5a 344px,#b6574e 345px,#c85e44 346.2px,#dc653a 348px,#e56a32 349.2px,#e97232 351.8px,#f08a3a 359.5px,#f59a3d 368.5px,#f5b45e 378.5px,#f6c97b 382.2px,#f7d089 383.2px,#fadeb3 384.5px,#fcefdc 385.5px,#fffcf8 386px,#ffffff 386.2px,#ffffff 386.8px,#fceeda 387.5px,#fae2bd 388.2px,#f8d596 389.5px,#f7d08a 390px,#f6ca7b 391.2px,#f5bc69 394.8px,#f5b45e 398.2px,#f5ab52 408px,#f5a64b 429.2px,#f5a449 462px,#f5ac53 654.8px)"></i>
<i style="left:571px;width:1px;background:linear-gradient(#f59d41 0px,#f08b3a 164.8px,#eb7a36 208px,#e56a32 234.5px,#db653a 240.8px,#b5564f 251.2px,#944562 255.2px,#6c3883 257.2px,#643683 258.2px,#6a3785 259px,#954561 261.2px,#b15452 264.5px,#ba574c 266.2px,#dc653a 277px,#e66c32 286.8px,#e97232 312.5px,#e56a32 331.5px,#dc653a 335px,#c05949 339.2px,#b55650 340.2px,#9c495c 341.5px,#8e4267 342px,#7e3d78 342.5px,#7b3c79 342.8px,#7f3e77 343px,#924463 343.5px,#9f4b59 344px,#b7574e 345px,#c85e44 346.2px,#dd6539 348px,#e56a32 349.2px,#e97232 351.8px,#f08a3a 359.5px,#f59a3d 368.8px,#f5b45e 378.8px,#f6c97a 382.5px,#f7cf88 383.5px,#fae0b8 385px,#fcf1e2 386px,#ffffff 386.5px,#ffffff 386.8px,#fffefd 387.2px,#fcf1e1 387.8px,#fbe5c4 388.5px,#f8d495 390px,#f7d08a 390.5px,#f6ca7b 391.8px,#f5bb68 395.5px,#f5b45e 398.8px,#f5ab53 408.5px,#f5a64b 430px,#f5a549 462.8px,#f5ac53 654.8px)"></i>
<i style="left:572px;width:1px;background:linear-gradient(#f59d40 0px,#f08a3a 163.8px,#eb7a36 207px,#e56a32 233.5px,#da643b 240px,#b45650 250.5px,#944561 254.2px,#683786 256.5px,#643683 257.2px,#683786 258px,#944561 260.2px,#b05452 263.5px,#ba574c 265.2px,#dc653a 276px,#e66c32 285.8px,#e97232 311.5px,#e56a32 331.2px,#db653a 335px,#bf5949 339.2px,#b45650 340.2px,#9a485d 341.5px,#954561 341.8px,#833f73 342.2px,#7b3c79 342.8px,#813f76 343px,#944562 343.5px,#9a485d 343.8px,#b45650 344.8px,#c95e43 346.2px,#db643b 347.8px,#e56a32 349.2px,#e97232 351.8px,#f08a3a 359.5px,#f59a3d 368.8px,#f5b45e 379px,#f6ca7c 383px,#f7d08b 384px,#fadfb4 385.2px,#fcefdc 386.2px,#fffcf8 386.8px,#ffffff 387px,#ffffff 387.5px,#fffcf9 387.8px,#fcefde 388.2px,#fae4c2 389px,#f8d494 390.5px,#f7d089 391px,#f6ca7b 392.2px,#f5bb68 396px,#f5b55f 399.2px,#f5ac53 409px,#f5a74c 430.8px,#f5a54a 463.5px,#f5ac53 654.8px)"></i>
<i style="left:573px;width:1px;background:linear-gradient(#f59d40 0px,#f08a3a 163px,#eb7936 206.2px,#e56a32 232.5px,#da643b 239px,#b45650 249.5px,#954561 253.2px,#693785 255.5px,#643683 256.2px,#683786 257px,#944562 259.2px,#b05452 262.5px,#ba574c 264.2px,#dc653a 275px,#e66c32 284.8px,#e97232 311px,#e56a32 331.2px,#db653a 335px,#c15a48 339px,#b35551 340.2px,#9e4a5a 341.2px,#934562 341.8px,#813f75 342.2px,#7c3d79 342.5px,#7c3d79 342.8px,#9b495c 343.8px,#b45650 344.8px,#c95e43 346.2px,#db653a 347.8px,#e46933 349px,#e97232 351.8px,#f08a3a 359.5px,#f59a3d 369px,#f5b45e 379.2px,#f6c97b 383.2px,#f7d089 384.2px,#fae0b9 385.8px,#fcf1e2 386.8px,#fffffe 387.2px,#ffffff 387.5px,#ffffff 388px,#fbead2 389px,#f8d699 390.8px,#f7cf89 391.5px,#f6ca7b 392.8px,#f5bc69 396.5px,#f5b55f 399.8px,#f5ac53 409.5px,#f5a74c 429.5px,#f5a54a 464.2px,#f5ac53 654.8px)"></i>
<i style="left:574px;width:1px;background:linear-gradient(#f59d40 0px,#f08a3a 162.2px,#eb7936 205.2px,#e56a32 231.5px,#da643b 238px,#b55650 248.5px,#954561 252.2px,#6a3785 254.5px,#643683 255.2px,#6b3784 256.2px,#964660 258.5px,#b15551 261.8px,#ba574c 263.5px,#dc653a 274.2px,#e66c32 284.8px,#e97332 311px,#e56a32 331.2px,#db653a 335px,#be5949 339.2px,#b25551 340.2px,#9d4a5b 341.2px,#914464 341.8px,#803e76 342.2px,#7b3c79 342.5px,#7d3d78 342.8px,#9d495b 343.8px,#b5564f 344.8px,#ca5e43 346.2px,#db653a 347.8px,#e46933 349px,#e97232 351.8px,#f08a3a 359.5px,#f59a3d 369px,#f5b560 379.8px,#f6c97a 383.5px,#f7cf88 384.5px,#fadfb5 386px,#fceedc 387px,#fefbf7 387.5px,#ffffff 387.8px,#fffffe 388.5px,#fcf1e3 389px,#fae2bd 390px,#f8d393 391.5px,#f7cf89 392px,#f6ca7b 393.2px,#f5bc69 397px,#f5b560 400.2px,#f5ac53 410px,#f5a74c 430.2px,#f5a54a 465px,#f5ac53 654.8px)"></i>
<i style="left:575px;width:1px;background:linear-gradient(#f59d40 0px,#f08a3a 161.2px,#eb7936 204.2px,#e56a32 230.5px,#da643b 237px,#b55650 247.5px,#954661 251.2px,#6b3784 253.5px,#643683 254.2px,#6b3784 255.2px,#954661 257.5px,#b15452 260.8px,#bb584b 262.8px,#dc653a 273.2px,#e56a32 279.8px,#e66d32 284.5px,#e97332 311px,#e56a32 331.2px,#dc653a 334.8px,#c05a48 339px,#b5564f 340px,#9c495b 341.2px,#8f4366 341.8px,#7e3e77 342.2px,#7b3c7a 342.5px,#7e3d78 342.8px,#904365 343.2px,#9e4a5a 343.8px,#b6564f 344.8px,#c75d44 346px,#dc653a 347.8px,#e46a33 349px,#e97232 351.8px,#f08a3a 359.8px,#f59a3d 369.2px,#f5b55f 380px,#f6ca7c 384px,#f7d08a 385px,#fbe4c3 386.8px,#fcf0e1 387.5px,#fffefd 388px,#ffffff 388.2px,#fffdfb 389px,#fcecd6 389.8px,#fadfb4 390.8px,#f8d598 391.8px,#f7cf88 392.5px,#f6ca7b 393.8px,#f5bd6a 397.2px,#f5b661 400.5px,#f5ac54 410.2px,#f5a84d 430.5px,#f5a64a 465.5px,#f5ac53 654.8px)"></i>
<i style="left:576px;width:1px;background:linear-gradient(#f59c40 0px,#f08a3a 160.5px,#eb7936 203.2px,#e56a32 229.5px,#da643b 236px,#b55650 246.5px,#954660 250.2px,#6b3784 252.5px,#643683 253.5px,#6a3784 254.2px,#954561 256.5px,#b25551 260px,#bc584a 262px,#dc653a 272.2px,#e56a32 279px,#e66d32 283.8px,#e97333 310.8px,#e56a32 331.2px,#dc653a 334.8px,#bf5949 339px,#b45650 340px,#9b485c 341.2px,#7d3d78 342.2px,#7b3c7a 342.5px,#7f3e77 342.8px,#924463 343.2px,#9f4b59 343.8px,#b7574e 344.8px,#c85e44 346px,#dc653a 347.8px,#e46a33 349px,#e97232 351.8px,#f08a3a 359.8px,#f59a3d 369.2px,#f5b55f 380.2px,#f6c97b 384.2px,#f7cf88 385.2px,#fadfb5 386.8px,#fceedb 387.8px,#ffffff 388.5px,#ffffff 389.2px,#fefbf7 389.5px,#fcefdd 390px,#fbe4c3 390.8px,#f8d392 392.5px,#f7cf88 393px,#f6ca7c 394.2px,#f5b661 401px,#f5ad54 410.8px,#f5a84d 431.2px,#f5a64b 466.2px,#f5ac53 654.8px)"></i>
<i style="left:577px;width:1px;background:linear-gradient(#f59c40 0px,#f08a3a 159.8px,#e56a32 228.5px,#da643b 235px,#b55650 245.5px,#954660 249.2px,#6b3784 251.5px,#643683 252.5px,#6a3785 253.2px,#954561 255.5px,#b25551 259px,#bc584b 261px,#dc653a 271.2px,#e56a32 278px,#e66d32 282.8px,#e97333 310.2px,#e56a32 331.2px,#db653a 334.8px,#bf5949 339px,#b35650 340px,#9f4b5a 341px,#944562 341.5px,#823f74 342px,#7b3c79 342.5px,#813f75 342.8px,#944561 343.2px,#9a485d 343.5px,#b35650 344.5px,#c95e43 346px,#dc653a 347.8px,#e56a32 349px,#e97232 351.8px,#f08a3a 359.8px,#f59a3d 369.5px,#f5b55f 380.5px,#f6c97a 384.5px,#f7d08b 385.8px,#fae0b9 387.2px,#fcf0df 388.2px,#fffdfa 388.8px,#ffffff 389px,#ffffff 389.8px,#fbebd3 390.8px,#fadeb1 391.8px,#f8d597 392.8px,#f7cf88 393.5px,#f6ca7c 394.8px,#f5b661 401.5px,#f5ad55 411.2px,#f5a84d 432px,#f5a64b 467px,#f5ac53 654.8px)"></i>
<i style="left:578px;width:1px;background:linear-gradient(#f59c40 0px,#f08a3a 158.8px,#e56a32 227.2px,#db643b 233.8px,#b55650 244.5px,#954660 248.2px,#6b3784 250.5px,#643683 251.5px,#6a3785 252.2px,#954561 254.5px,#b25551 258px,#bc584b 260px,#dc653a 270.2px,#e56a32 277px,#e76d32 282.2px,#e97333 310px,#e56a32 331.2px,#db653a 334.8px,#be5949 339px,#b25551 340px,#9e4a5a 341px,#924463 341.5px,#803e76 342px,#7b3c79 342.2px,#833f73 342.8px,#8c4268 343px,#9c495c 343.5px,#b45650 344.5px,#c95e43 346px,#dd6539 347.8px,#e56a32 349px,#e97232 351.8px,#f08a3a 359.8px,#f59a3d 369.8px,#f5ad55 378.2px,#f5b660 381px,#f6ca7c 385px,#f7d089 386px,#fae2bd 387.8px,#fcf2e4 388.8px,#ffffff 389.2px,#fffffe 390.2px,#fcedda 391px,#f9dba9 392.5px,#f7d18c 393.8px,#f6ca7c 395.2px,#f5b762 402px,#f5ad55 411.8px,#f5a84e 432.5px,#f5a64b 467.8px,#f5ac53 654.8px)"></i>
<i style="left:579px;width:1px;background:linear-gradient(#f59c3f 0px,#f08a3a 157.8px,#e56a32 226.2px,#da643b 232.8px,#b45650 243.5px,#954661 247.2px,#6b3784 249.5px,#643683 250.5px,#6a3785 251.2px,#954561 253.5px,#b25551 257px,#bd584a 259.2px,#dc653a 269.2px,#e56a32 276px,#e76d32 282px,#e97433 310px,#e56a32 331.2px,#db653a 334.8px,#be584a 339px,#b15551 340px,#9c495b 341px,#904365 341.5px,#7f3e77 342px,#7a3c7a 342.2px,#7d3d78 342.5px,#8e4366 343px,#9d495b 343.5px,#b5564f 344.5px,#ca5e43 346px,#db643b 347.5px,#e56a32 349px,#e97232 351.8px,#f08a3a 359.8px,#f59a3d 369.8px,#f5ad55 378.5px,#f5b660 381.2px,#f6c97b 385.2px,#f7d18c 386.5px,#fae4c1 388.2px,#fcefdd 389px,#fefbf7 389.5px,#ffffff 389.8px,#fffdfb 390.8px,#fcedd8 391.5px,#f9dba9 393px,#f7d18c 394.2px,#f6ca7c 395.8px,#f5b762 402.8px,#f5ad55 412.8px,#f5a84e 433.8px,#f5a64b 469px,#f5ac53 654.8px)"></i>
<i style="left:580px;width:1px;background:linear-gradient(#f59c3f 0px,#f08a3a 156.5px,#e56a32 225.2px,#da643b 232px,#b45650 242.5px,#954561 246.2px,#6a3784 248.5px,#643683 249.5px,#6a3784 250.2px,#954561 252.5px,#b25551 256px,#bd584a 258.2px,#dc653a 268.5px,#e56a32 275px,#e76e32 281.5px,#e97433 309.8px,#e56a32 331px,#dc653a 334.5px,#bf5949 338.8px,#b45650 339.8px,#9b495c 341px,#8d4267 341.5px,#7d3d78 342px,#7a3c7a 342.2px,#7e3e77 342.5px,#914464 343px,#9e4a5a 343.5px,#b6564f 344.5px,#ca5e43 346px,#db653a 347.5px,#e56a32 349px,#e97232 351.8px,#f08a3a 359.8px,#f59a3d 370px,#f5b560 381.5px,#f6c97a 385.5px,#f7d08a 386.8px,#fadfb4 388.2px,#fcf0e1 389.5px,#fffefc 390px,#ffffff 390.2px,#ffffff 391px,#fffcf9 391.2px,#fcf0df 391.8px,#fbe6c6 392.5px,#f8d597 394.2px,#f7cf89 395px,#f6ca7c 396.2px,#f5b762 403.5px,#f5ad55 413.8px,#f5a84e 435px,#f5a74c 470.2px,#f5ac53 654.8px)"></i>
<i style="left:581px;width:1px;background:linear-gradient(#f59c3f 0px,#f08a3a 155.2px,#e56a32 224px,#db643b 230.5px,#b5564f 241.2px,#954561 245.2px,#6a3785 247.5px,#643683 248.2px,#6b3784 249.2px,#954561 251.5px,#b25551 255px,#bd584a 257.2px,#dc653a 267.2px,#e56a32 274px,#e76e32 280.5px,#ea7433 309.2px,#e56a32 331px,#dc653a 334.5px,#bf5949 338.8px,#b35650 339.8px,#9f4b5a 340.8px,#944561 341.2px,#7c3d79 342px,#7b3c7a 342.2px,#803e76 342.5px,#934562 343px,#a04b59 343.5px,#b7574e 344.5px,#c85e44 345.8px,#dc653a 347.5px,#e46933 348.8px,#e97232 351.8px,#f08a3a 360px,#f59a3d 370px,#f5ad55 379px,#f5b661 382px,#f6ca7b 386px,#f7d18c 387.2px,#fae3c0 389px,#fceedb 389.8px,#ffffff 390.5px,#ffffff 391.5px,#fcefde 392.2px,#f9dba8 394px,#f7d18d 395.2px,#f6ca7d 396.8px,#f5b762 404px,#f5ad55 414.8px,#f5a84e 436.2px,#f5a74c 471.5px,#f5ac53 654.8px)"></i>
<i style="left:582px;width:1px;background:linear-gradient(#f59c3f 0px,#f08a3a 154px,#e56a32 223px,#da643b 229.5px,#b5564f 240.2px,#944561 244.2px,#693785 246.5px,#643683 247.2px,#6c3883 248.2px,#954661 250.5px,#b25551 254px,#bd584a 256.2px,#dc653a 266.2px,#e56a32 272.8px,#e76e32 279.5px,#ea7433 308.8px,#e56a32 331px,#db653a 334.5px,#be5949 338.8px,#b25551 339.8px,#9e4a5a 340.8px,#924463 341.2px,#803e76 341.8px,#7b3c7a 342px,#7b3c79 342.2px,#823f74 342.5px,#954561 343px,#9b495c 343.2px,#b45650 344.2px,#d7633c 347px,#e56a32 349px,#e97232 351.8px,#f08a3a 360px,#f59a3d 370.2px,#f5ad55 379.2px,#f5b661 382.2px,#f6c97b 386.2px,#f7d08a 387.5px,#fae1bb 389.2px,#fcefde 390.2px,#fefbf7 390.8px,#ffffff 391px,#ffffff 392px,#fcefdd 392.8px,#f9d9a2 394.8px,#f7d089 396px,#f6ca7b 397.5px,#f5b662 405px,#f5ad55 415.8px,#f5a84e 437.2px,#f5a74c 472.5px,#f5ac54 654.8px)"></i>
<i style="left:583px;width:1px;background:linear-gradient(#f59c3f 0px,#f08a3a 152.8px,#e56a32 221.8px,#da643b 228.5px,#b55650 239.2px,#934562 243.2px,#683786 245.5px,#643683 246.2px,#683786 247px,#823f74 248.2px,#964660 249.5px,#b35551 253px,#be5949 255.5px,#dc653a 265.2px,#e56a32 271.8px,#e76e32 279.2px,#ea7433 308.8px,#e56a32 331px,#db653a 334.5px,#be584a 338.8px,#b15551 339.8px,#9c495b 340.8px,#904365 341.2px,#7e3e77 341.8px,#7a3c7a 342px,#7c3d79 342.2px,#9c495b 343.2px,#b55650 344.2px,#c95e43 345.8px,#dc653a 347.5px,#e46a33 348.8px,#e97232 351.5px,#f08a3a 360px,#f59a3d 370.2px,#f5ad55 379.5px,#f5b661 382.5px,#f6ca7c 386.8px,#f7cf88 387.8px,#fadfb6 389.5px,#fcf0e1 390.8px,#fffdfb 391.2px,#ffffff 391.5px,#ffffff 392.5px,#fceedc 393.2px,#f9dba8 395px,#f7d089 396.5px,#f6ca7c 398px,#f5b661 405.8px,#f5ad55 416.8px,#f5a94e 438.5px,#f5a74c 473.8px,#f5ac54 654.8px)"></i>
<i style="left:584px;width:1px;background:linear-gradient(#f59b3f 0px,#f08a3a 151.5px,#e56a32 220.8px,#da643b 227.5px,#b45650 238.2px,#954661 242px,#6b3784 244.2px,#643683 245.2px,#693785 246px,#944562 248.2px,#b35551 252px,#bf5949 254.5px,#dc653a 264.2px,#e56a32 270.8px,#e76e32 278.8px,#ea7533 308.5px,#e56a32 331px,#dc653a 334.2px,#bf5949 338.5px,#b45650 339.5px,#9b495c 340.8px,#8d4267 341.2px,#7d3d78 341.8px,#7a3c7a 342px,#7e3d78 342.2px,#904365 342.8px,#9e4a5a 343.2px,#b6564f 344.2px,#ca5e43 345.8px,#dd6539 347.5px,#e46a32 348.8px,#e97232 351.5px,#f08a3a 360px,#f59a3d 370.5px,#f5ad55 379.8px,#f5b762 383px,#f6c97b 387px,#f7d08a 388.2px,#fae4c1 390.2px,#fdf2e5 391.2px,#ffffff 391.8px,#fffffe 393px,#fceedb 393.8px,#f9dba9 395.5px,#f7d08a 397px,#f6ca7c 398.5px,#f5b762 406.2px,#f5ad55 417.8px,#f5a94f 439.5px,#f5a74c 475px,#f5ac54 654.8px)"></i>
<i style="left:585px;width:1px;background:linear-gradient(#f59b3f 0px,#f08a3a 150.2px,#e56a32 219.5px,#da643b 226.2px,#b5564f 237px,#944561 241px,#6a3785 243.2px,#643683 244px,#6a3784 245px,#954561 247.2px,#b35650 251px,#bf5949 253.5px,#dc653a 263.2px,#e56a32 269.8px,#e76f32 278px,#ea7534 308px,#e56a32 330.8px,#dc653a 334.2px,#bf5949 338.5px,#b35650 339.5px,#9f4b5a 340.5px,#944561 341px,#823f74 341.5px,#7a3c7a 342px,#803e77 342.2px,#924463 342.8px,#9f4b5a 343.2px,#b6574e 344.2px,#c75d44 345.5px,#db653a 347.2px,#e56a32 348.8px,#e97232 351.5px,#f08a3a 360px,#f59a3d 370.5px,#f5ad55 380px,#f5b762 383.2px,#f6ca7c 387.5px,#f7d18c 388.8px,#fae2bc 390.5px,#fcefdd 391.5px,#ffffff 392.2px,#fffefd 393.5px,#fceedb 394.2px,#f9dba9 396px,#f7d08a 397.5px,#f6ca7d 399px,#f5b762 406.8px,#f5ad55 418.5px,#f5a94f 440.2px,#f5a74d 476px,#f5ac54 654.8px)"></i>
<i style="left:586px;width:1px;background:linear-gradient(#f59b3e 0px,#f08a3a 149px,#e56a32 218.5px,#da643b 225.2px,#b45650 236px,#934562 240px,#683786 242.2px,#643683 243px,#6c3883 244px,#954661 246.2px,#b45650 250px,#bf5949 252.5px,#dc653a 262.2px,#e56a32 268.8px,#e76f32 277px,#ea7534 307.8px,#e56a32 330.8px,#db653a 334.2px,#be5949 338.5px,#b25551 339.5px,#9d4a5a 340.5px,#924463 341px,#803e76 341.5px,#7a3c7a 341.8px,#7b3c79 342px,#813f75 342.2px,#944561 342.8px,#a14c59 343.2px,#b7574e 344.2px,#cb5e42 345.8px,#db653a 347.2px,#e56a32 348.8px,#e97232 351.5px,#f08a3a 360px,#f59a3d 370.8px,#f5ad55 380.2px,#f5b662 383.5px,#f6c97b 387.8px,#f7d08a 389px,#fae3bf 391px,#fcf0e0 392px,#fffcf9 392.5px,#ffffff 392.8px,#fffdfb 394px,#fceeda 394.8px,#f9daa4 396.8px,#f7d08b 398px,#f6ca7c 399.8px,#f5b762 407.8px,#f5ad56 419.2px,#f5a94f 441px,#f5a84d 476.8px,#f5ac54 654.8px)"></i>
<i style="left:587px;width:1px;background:linear-gradient(#f59b3e 0px,#f08a3a 147.8px,#e56a32 217.2px,#da643b 224px,#b5564f 234.8px,#954561 238.8px,#6b3784 241px,#643683 242px,#693785 242.8px,#833f73 244px,#964660 245.2px,#b35551 248.8px,#c05a48 251.8px,#dd6639 261.8px,#e56a32 267.5px,#e86f32 277px,#ea7534 307.8px,#e56a32 330.8px,#db653a 334.2px,#bd584a 338.5px,#b15452 339.5px,#9c495b 340.5px,#8f4366 341px,#7e3d77 341.5px,#7a3c7a 341.8px,#7c3d79 342px,#9c495b 343px,#b45650 344px,#c85e44 345.5px,#dc653a 347.2px,#e46933 348.5px,#e97232 351.5px,#f08a3a 360.2px,#f59a3d 371px,#f5ad55 380.5px,#f5b661 383.8px,#f6ca7c 388.2px,#f7d18c 389.5px,#fae1b9 391.2px,#fcf1e3 392.5px,#fffdfc 393px,#ffffff 393.2px,#ffffff 394.2px,#fffdfa 394.5px,#fceeda 395.2px,#f9daa4 397.2px,#f7d18c 398.5px,#f6ca7c 400.2px,#f5b763 408.2px,#f5ae56 419.8px,#f5a94f 441.2px,#f5a84d 477.2px,#f5ac54 654.8px)"></i>
<i style="left:588px;width:1px;background:linear-gradient(#f59b3e 0px,#f08a3a 146.2px,#e56a32 216px,#da643b 222.8px,#b45650 233.8px,#944562 237.8px,#693786 240px,#643683 240.8px,#6b3784 241.8px,#854071 243px,#97475f 244.2px,#b35650 247.8px,#c15a48 250.8px,#de6639 261px,#e56a32 266.5px,#e86f32 276.2px,#ea7534 307.5px,#e56a32 330.8px,#dc653a 334px,#bf5949 338.2px,#b45650 339.2px,#9b485c 340.5px,#7c3d79 341.5px,#7a3c7a 341.8px,#7e3d78 342px,#904365 342.5px,#9d4a5a 343px,#b5564f 344px,#c95e43 345.5px,#dc653a 347.2px,#e46933 348.5px,#e97232 351.5px,#f08a3a 360.2px,#f59a3d 371px,#f5ad55 380.8px,#f5b762 384.2px,#f6ca7b 388.5px,#f7d089 389.8px,#fadfb4 391.5px,#fceedb 392.8px,#fffffe 393.5px,#ffffff 393.8px,#ffffff 394.8px,#fffdfa 395px,#fceeda 395.8px,#f9daa5 397.8px,#f7d089 399.2px,#f6ca7d 400.8px,#f5b864 408.5px,#f5ae56 420.2px,#f5a950 441.8px,#f5a84d 477.8px,#f5ac54 654.8px)"></i>
<i style="left:589px;width:1px;background:linear-gradient(#f59b3e 0px,#f08a3a 145px,#e56a32 215px,#da643b 221.8px,#b5564f 232.5px,#954561 236.5px,#6b3784 238.8px,#643683 239.8px,#683786 240.5px,#823f74 241.8px,#964660 243px,#b45650 246.8px,#c05a48 249.5px,#dd6639 259.8px,#e56a32 265.5px,#e86f32 275.2px,#ea7634 306.8px,#e56a32 330.5px,#dc653a 334px,#be5949 338.2px,#b35551 339.2px,#9e4a5a 340.2px,#934562 340.8px,#813f75 341.2px,#7a3c7a 341.8px,#7f3e77 342px,#924463 342.5px,#9f4b5a 343px,#b6564f 344px,#ca5e43 345.5px,#dc653a 347.2px,#e46a33 348.5px,#e97232 351.5px,#f08a3a 360.2px,#f59a3d 371.2px,#f5ad55 381px,#f5b762 384.5px,#f6c97b 388.8px,#f7d18b 390.2px,#fae2be 392.2px,#fcefdd 393.2px,#ffffff 394px,#ffffff 395.2px,#fffcf9 395.5px,#fceeda 396.2px,#f9daa6 398.2px,#f7d08a 399.8px,#f6ca7c 401.5px,#f5b864 409.2px,#f5ae57 420.8px,#f5aa50 442px,#f5a84e 478px,#f5ac54 654.8px)"></i>
<i style="left:590px;width:1px;background:linear-gradient(#f59b3e 0px,#f08a3a 143.8px,#e56a32 213.8px,#da643b 220.5px,#b45650 231.5px,#934562 235.5px,#683786 237.8px,#643683 238.5px,#6b3784 239.5px,#854071 240.8px,#97475f 242px,#b35650 245.5px,#c15a48 248.5px,#de6638 259px,#e56a32 264.2px,#e86f32 274.5px,#ea7634 306.5px,#e56a32 330.5px,#db653a 334px,#be584a 338.2px,#b15551 339.2px,#9d495b 340.2px,#914464 340.8px,#7f3e77 341.2px,#7a3c7a 341.5px,#823f75 342px,#944561 342.5px,#a14c59 343px,#b7574e 344px,#ca5e42 345.5px,#db643b 347px,#e46a33 348.5px,#e97232 351.5px,#f08a3a 360.2px,#f59a3d 371.2px,#f5ad55 381.2px,#f5b763 385px,#f6ca7b 389.2px,#f7d089 390.5px,#f9d89e 391.5px,#fae3c0 392.8px,#fcf0df 393.8px,#ffffff 394.5px,#ffffff 395.8px,#fffcf9 396px,#fceeda 396.8px,#f9daa7 398.8px,#f7d08b 400.2px,#f6ca7c 402px,#f5b864 409.8px,#f5af57 421.2px,#f5aa50 442.2px,#f5a84e 478.5px,#f5ac54 654.8px)"></i>
<i style="left:591px;width:1px;background:linear-gradient(#f59a3e 0px,#f08a3a 142.2px,#e56a32 212.5px,#da643b 219.2px,#b55650 230.2px,#944561 234.2px,#6a3784 236.5px,#643683 237.5px,#693785 238.2px,#833f73 239.5px,#964660 240.8px,#b45650 244.5px,#c15a48 247.5px,#df6737 258.8px,#e56a32 263.2px,#e87032 274.2px,#ea7634 306.5px,#e56a32 330.5px,#db643b 334px,#bd584a 338.2px,#b45650 339px,#9b495c 340.2px,#8e4367 340.8px,#7d3d78 341.2px,#793c7a 341.5px,#7c3d79 341.8px,#9c495b 342.8px,#b45650 343.8px,#c85e44 345.2px,#db653a 347px,#e56a32 348.5px,#e97232 351.5px,#f08a3a 360.2px,#f59a3d 371.5px,#f5ad55 381.5px,#f5b763 385.2px,#f6c97b 389.5px,#f7d08b 391px,#fae1bb 393px,#fcf1e1 394.2px,#fffcf8 394.8px,#ffffff 395px,#ffffff 396.2px,#fffcf9 396.5px,#fceeda 397.2px,#f9dba8 399.2px,#f7d18c 400.8px,#f6ca7d 402.5px,#f5b965 410.2px,#f5af58 422px,#f5aa51 443px,#f5a84e 479.2px,#f5ac54 654.8px)"></i>
<i style="left:592px;width:1px;background:linear-gradient(#f59a3d 0px,#f08a3a 141px,#e56a32 211.2px,#da643b 218px,#b5564f 229px,#954661 233px,#683786 235.5px,#643683 236.2px,#683786 237px,#813f76 238.2px,#8e4267 239px,#97475f 239.8px,#b35650 243.2px,#c15a48 246.5px,#e06737 258px,#e56a32 262.2px,#e87032 273.5px,#ea7634 306.2px,#e56a32 330.5px,#dc653a 333.8px,#bf5949 338px,#b35650 339px,#9a485d 340.2px,#944561 340.5px,#823f74 341px,#793c7a 341.5px,#7e3d78 341.8px,#904365 342.2px,#9e4a5a 342.8px,#b5564f 343.8px,#c95e43 345.2px,#dc653a 347px,#e56a32 348.5px,#e97232 351.5px,#f08a3a 360.2px,#f59a3d 371.5px,#f5ad55 381.8px,#f5b864 385.8px,#f6ca7b 390px,#f7d18d 391.5px,#fae2bd 393.5px,#fcf1e3 394.8px,#fffdfa 395.2px,#ffffff 395.5px,#ffffff 396.8px,#fffcf9 397px,#fceedb 397.8px,#f9daa4 400px,#f7d08a 401.5px,#f6ca7c 403.2px,#f5b965 411px,#f5af58 422.5px,#f5aa51 443.2px,#f5a84e 479.8px,#f5ac54 654.8px)"></i>
<i style="left:593px;width:1px;background:linear-gradient(#f59a3d 0px,#f08a3a 139.8px,#e56a32 210px,#da643b 216.8px,#b5564f 227.8px,#934562 232px,#693786 234.2px,#643683 235px,#6a3784 236px,#914464 238px,#99475e 238.8px,#b45650 242.2px,#c25b47 245.5px,#e06737 256.8px,#e56a32 261px,#e87032 272.2px,#ea7634 305.5px,#e56a32 330.2px,#db653a 333.8px,#be584a 338px,#b25551 339px,#9d4a5a 340px,#924463 340.5px,#803e76 341px,#7a3c7a 341.2px,#7a3c7a 341.5px,#803e76 341.8px,#934462 342.2px,#9f4b59 342.8px,#b6564f 343.8px,#c95e43 345.2px,#dc653a 347px,#e56a32 348.5px,#e97232 351.5px,#f08a3a 360.2px,#f59a3d 371.8px,#f5ad55 382px,#f5b863 386px,#f6ca7c 390.5px,#f7d08a 391.8px,#fae3be 394px,#fceedc 395px,#fffefc 395.8px,#ffffff 396px,#ffffff 397.2px,#fffdfa 397.5px,#fceedc 398.2px,#f9daa5 400.5px,#f7d08b 402px,#f6ca7d 403.8px,#f5b965 411.5px,#f5b058 423px,#f5aa51 443.8px,#f5a94e 480.2px,#f5ad54 654.8px)"></i>
<i style="left:594px;width:1px;background:linear-gradient(#f59a3d 0px,#f08a3a 138.2px,#e56a32 208.8px,#da643b 215.8px,#b45650 226.8px,#944562 230.8px,#6a3785 233px,#643683 234px,#693785 234.8px,#833f73 236px,#8f4365 236.8px,#98475e 237.5px,#b45650 241px,#c35b47 244.5px,#db643b 252.8px,#e16836 256.5px,#e87032 272.2px,#ea7735 305.5px,#e56a32 330.2px,#db653a 333.8px,#bd584a 338px,#b55650 338.8px,#9c495b 340px,#8f4366 340.5px,#7e3d78 341px,#793c7b 341.2px,#823f74 341.8px,#8b4169 342px,#9b485c 342.5px,#b35551 343.5px,#c75d44 345px,#dc653a 347px,#e46933 348.2px,#e97232 351.2px,#f08a3a 360.5px,#f59a3d 372px,#f5ad55 382.2px,#f5b763 386.2px,#f6ca7b 390.8px,#f7d08b 392.2px,#fae0b9 394.2px,#fcefdd 395.5px,#fffefd 396.2px,#ffffff 396.5px,#ffffff 397.8px,#fffdfa 398px,#fcefdc 398.8px,#f9daa6 401px,#f7d089 402.8px,#f6ca7c 404.5px,#f5b966 412.2px,#f5b059 423.5px,#f5ab52 444px,#f5a94f 480.5px,#f5ad54 654.8px)"></i>
<i style="left:595px;width:1px;background:linear-gradient(#f59a3d 0px,#f08a3a 136.8px,#e56a32 207.5px,#da643b 214.5px,#b45650 225.5px,#944561 229.5px,#6b3784 231.8px,#643683 232.8px,#683786 233.5px,#823f75 234.8px,#8e4366 235.5px,#98475f 236.2px,#b35650 239.8px,#c35b47 243.5px,#dc653a 252px,#e26835 256px,#e87132 271.8px,#ea7735 305.2px,#e56a32 330.2px,#dc653a 333.5px,#bf5949 337.8px,#b35650 338.8px,#9a485d 340px,#7c3d79 341px,#793c7b 341.2px,#7c3d78 341.5px,#8e4366 342px,#9d495b 342.5px,#b45650 343.5px,#c85e44 345px,#db643b 346.8px,#e46a33 348.2px,#e97232 351.2px,#f08a3a 360.5px,#f59a3d 372px,#f5ad55 382.5px,#f5b864 386.8px,#f6ca7c 391.2px,#f7d089 392.5px,#fadfb4 394.5px,#fcefde 396px,#fffffe 396.8px,#ffffff 397px,#ffffff 398.2px,#fffdfb 398.5px,#fcefdd 399.2px,#f9dba7 401.5px,#f7d08a 403.2px,#f6ca7d 405px,#f5ba66 412.8px,#f5b059 424.2px,#f5ab52 444.8px,#f5a94f 481.5px,#f5ad54 654.8px)"></i>
<i style="left:596px;width:1px;background:linear-gradient(#f59a3d 0px,#f08a3a 135.5px,#e56a32 206.2px,#da643b 213.2px,#b45650 224.2px,#954561 228.2px,#6c3884 230.5px,#643683 231.5px,#683786 232.2px,#813f76 233.5px,#8d4267 234.2px,#97475f 235px,#b45650 238.8px,#c35b47 242.2px,#dc653a 250.8px,#e26835 254.8px,#e87132 270.5px,#ea7735 305px,#e56a32 330.2px,#db653a 333.5px,#be5949 337.8px,#b25551 338.8px,#9e4a5a 339.8px,#934562 340.2px,#813f76 340.8px,#793c7b 341.2px,#7e3e77 341.5px,#914464 342px,#9e4a5a 342.5px,#b5564f 343.5px,#c95e43 345px,#db653a 346.8px,#e46a32 348.2px,#e97232 351.2px,#f08a3a 360.5px,#f59a3d 372.2px,#f5ad55 382.8px,#f5b863 387px,#f6c97b 391.5px,#f7d08a 393px,#fbe4c3 395.5px,#fcefdf 396.5px,#ffffff 397.2px,#fffefc 399px,#fcefde 399.8px,#f9dba9 402px,#f7d18c 403.8px,#f6ca7c 405.8px,#f5ba66 413.5px,#f5b15a 424.8px,#f5ab52 445px,#f5a94f 481.8px,#f5ad55 654.8px)"></i>
<i style="left:597px;width:1px;background:linear-gradient(#f59a3d 0px,#f08a3a 134px,#e56a32 205px,#da643b 212px,#b45650 223px,#954561 227px,#683786 229.5px,#643683 230.2px,#6b3784 231.2px,#944561 233.5px,#b5564f 237.8px,#da643b 249px,#e56a32 256.2px,#ea7433 279px,#eb7835 298.5px,#ea7433 315.8px,#e56a32 330px,#db653a 333.5px,#bd584a 337.8px,#b15452 338.8px,#9c495b 339.8px,#793c7b 341px,#813f76 341.5px,#944562 342px,#a04b59 342.5px,#b6574e 343.5px,#c95e43 345px,#dc653a 346.8px,#e56a32 348.2px,#e97232 351.2px,#f08a3a 360.5px,#f59a3d 372.2px,#f5ad55 383.2px,#f5b864 387.5px,#f6ca7c 392px,#f7d18b 393.5px,#fbe5c4 396px,#fcf0df 397px,#ffffff 397.8px,#fffefe 399.5px,#fcf0df 400.2px,#f9dcaa 402.5px,#f7d08a 404.5px,#f6cb7d 406.2px,#f5ba67 414px,#f5b15a 425.2px,#f5ab53 445.2px,#f5a94f 482.2px,#f5ad55 654.8px)"></i>
<i style="left:598px;width:1px;background:linear-gradient(#f59a3d 0px,#f08a3a 132.5px,#e56a32 203.5px,#da643b 210.5px,#b45650 221.8px,#954561 225.8px,#683786 228.2px,#643683 229px,#6b3784 230px,#914464 232px,#99475e 232.8px,#b45650 236.2px,#c45c46 240.2px,#dc653a 248.5px,#e36933 253.8px,#e97132 269.5px,#ea7735 304.2px,#e97333 317.8px,#e56a32 330px,#dc653a 333.2px,#bc584a 337.8px,#b45650 338.5px,#9b485c 339.8px,#8d4267 340.2px,#7c3d79 340.8px,#793b7b 341px,#7b3d79 341.2px,#9c495c 342.2px,#b35650 343.2px,#ca5e43 345px,#dc653a 346.8px,#e56a32 348.2px,#e97232 351.2px,#f08a3a 360.5px,#f59a3d 372.5px,#f5ad55 383.5px,#f5b965 388px,#f6c97b 392.2px,#f7d089 393.8px,#fae2be 396.2px,#fcf0e0 397.5px,#ffffff 398.2px,#ffffff 400px,#fceeda 401px,#f9dba7 403.2px,#f7d18b 405px,#f6ca7d 407px,#f5ba67 414.8px,#f5b15a 426px,#f5ac53 446px,#f5a950 483px,#f5ad55 654.8px)"></i>
<i style="left:599px;width:1px;background:linear-gradient(#f5993d 0px,#f08a3a 131.2px,#e56a32 202.2px,#da643b 209.2px,#b45650 220.5px,#954561 224.5px,#683786 227px,#643683 227.8px,#6b3784 228.8px,#904464 230.8px,#99475e 231.5px,#b45650 235px,#c45c46 239px,#dc653a 247.2px,#e46933 252.8px,#e97232 268.8px,#eb7835 304px,#e97333 317.8px,#e56a32 330px,#db653a 333.2px,#be5949 337.5px,#b25551 338.5px,#9e4a5a 339.5px,#934562 340px,#813f75 340.5px,#793b7b 341px,#7d3d78 341.2px,#904365 341.8px,#9d4a5b 342.2px,#b55650 343.2px,#c85e44 344.8px,#dd6539 346.8px,#e46933 348px,#e97232 351.2px,#f08a3a 360.5px,#f59a3d 372.5px,#f5ad55 383.8px,#f5b965 388.2px,#f6ca7c 392.8px,#f7d08a 394.2px,#fae3bf 396.8px,#fcf0e0 398px,#ffffff 398.8px,#ffffff 400.5px,#fceedb 401.5px,#f9dba9 403.8px,#f7d08a 405.8px,#f6ca7c 407.8px,#f5ba67 415.5px,#f5b15b 426.5px,#f5ac53 446.2px,#f5aa50 483.2px,#f5ad55 654.8px)"></i>
<i style="left:600px;width:1px;background:linear-gradient(#f5993d 0px,#f08a3a 129.8px,#e56a32 201px,#da643b 208px,#b45650 219.2px,#954561 223.2px,#6c3883 225.5px,#643683 226.5px,#6b3784 227.5px,#944561 229.8px,#b5564f 234px,#da643b 245.2px,#e56a32 252.5px,#ea7534 276px,#eb7835 296.8px,#ea7534 315px,#e56a32 329.8px,#db653a 333.2px,#bd584a 337.5px,#b15452 338.5px,#9d495b 339.5px,#904365 340px,#7f3e77 340.5px,#793c7b 340.8px,#793c7a 341px,#803e76 341.2px,#934462 341.8px,#9f4b5a 342.2px,#b6564f 343.2px,#c95e43 344.8px,#db653a 346.5px,#e46a33 348px,#e97232 351.2px,#f08a3a 360.5px,#f59a3d 372.8px,#f5ad55 384px,#f5b965 388.8px,#f6ca7c 393.2px,#f7d08b 394.8px,#fae3c0 397.2px,#fcf0e1 398.5px,#ffffff 399.2px,#ffffff 401px,#fcefdd 402px,#f9daa6 404.5px,#f7d18c 406.2px,#f6cb7d 408.2px,#f5bb68 416px,#f5b25b 427.2px,#f5ac53 446.8px,#f5aa50 484px,#f5ad55 654.8px)"></i>
<i style="left:601px;width:1px;background:linear-gradient(#f5993d 0px,#f08a3a 128.2px,#e56a32 199.5px,#da643b 206.5px,#b5564f 217.8px,#944561 222px,#6b3784 224.2px,#643683 225.2px,#683786 226px,#803e76 227.2px,#914464 228.2px,#a34d58 230.2px,#b5564f 232.8px,#c75d44 237.5px,#dc653a 244.8px,#e56a32 251.2px,#e97232 267.2px,#eb7835 303.2px,#e97433 317.2px,#e56a32 329.8px,#dc653a 333px,#bc584a 337.5px,#b45650 338.2px,#9b485c 339.5px,#8d4267 340px,#7c3d79 340.5px,#783b7b 340.8px,#823f74 341.2px,#8b4269 341.5px,#9b485c 342px,#b7574e 343.2px,#c95e43 344.8px,#dc653a 346.5px,#e46a33 348px,#e97232 351.2px,#f08a3a 360.5px,#f59a3d 373px,#f5ad55 384.2px,#f5b965 389px,#f6ca7b 393.5px,#f7d18c 395.2px,#faddaf 397px,#fbebd3 398.5px,#fcf0e1 399px,#ffffff 399.8px,#ffffff 401.5px,#fffdfa 401.8px,#fcefde 402.5px,#f9dba8 405px,#f7d08a 407px,#f6cb7e 408.8px,#f5bb68 416.8px,#f5b25b 427.8px,#f5ac54 447.2px,#f5aa50 484.5px,#f5ad55 654.8px)"></i>
<i style="left:602px;width:1px;background:linear-gradient(#f5993d 0px,#f08a3a 126.8px,#e56a32 198.2px,#da643b 205.2px,#b5564f 216.5px,#944562 220.8px,#6a3784 223px,#643683 224px,#683786 224.8px,#954561 227.2px,#b45650 231.2px,#d9643b 242.5px,#e56a32 250px,#ea7534 274.2px,#eb7936 295.5px,#ea7534 314.2px,#e56a32 329.5px,#db653a 333px,#be5949 337.2px,#b25551 338.2px,#9e4a5a 339.2px,#944562 339.8px,#813f75 340.2px,#783b7b 340.8px,#7d3d78 341px,#8f4366 341.5px,#9d495b 342px,#b45650 343px,#c75d44 344.5px,#dc653a 346.5px,#e56a32 348px,#e97232 351px,#f08a3a 360.8px,#f59a3d 373px,#f5ad55 384.5px,#f5b965 389.2px,#f6ca7c 394px,#f7d089 395.5px,#fae1bb 398px,#fcf0e1 399.5px,#ffffff 400.2px,#ffffff 400.5px,#fffefc 402.2px,#fcf0e0 403px,#f9dcaa 405.5px,#f7d18c 407.5px,#f6cb7f 409.2px,#f5bb68 417.5px,#f5b25c 428.2px,#f5ac54 447.5px,#f5aa50 485px,#f5ad55 654.8px)"></i>
<i style="left:603px;width:1px;background:linear-gradient(#f5993d 0px,#f08a3a 125.2px,#e56a32 196.8px,#da643b 203.8px,#b55650 215.2px,#934562 219.5px,#693785 221.8px,#643683 222.8px,#683786 223.5px,#954661 226px,#b45650 230px,#d9643b 241.2px,#e56a32 248.8px,#ea7534 273.2px,#eb7936 295px,#ea7534 314.2px,#e56a32 329.5px,#db653a 333px,#bd584a 337.2px,#b15452 338.2px,#9c495b 339.2px,#904365 339.8px,#7f3e77 340.2px,#793c7b 340.5px,#793c7b 340.8px,#7f3e77 341px,#924463 341.5px,#9e4a5a 342px,#b5564f 343px,#c85e44 344.5px,#dc653a 346.5px,#e56a32 348px,#e97232 351px,#f08a3a 360.8px,#f59a3d 373.2px,#f5ad55 384.8px,#f5b965 389.8px,#f6c97b 394.2px,#f7d08a 396px,#fae1bb 398.5px,#fcf0e1 400px,#fffffe 400.8px,#ffffff 401px,#ffffff 402.8px,#fceedc 403.8px,#f9dcac 406px,#f7d08b 408.2px,#f6cb7f 410px,#f5bb68 418.5px,#f5b35c 429px,#f5ad54 448.2px,#f5aa51 485.8px,#f5ad55 654.8px)"></i>
<i style="left:604px;width:1px;background:linear-gradient(#f5993c 0px,#f08a3a 123.8px,#e56a32 195.5px,#d9643b 202.8px,#b45650 214px,#954561 218px,#683786 220.5px,#643683 221.2px,#693785 222.2px,#934562 224.5px,#b45650 228.8px,#d9643b 240px,#e56a32 247.5px,#ea7534 272.2px,#eb7936 294.5px,#ea7534 314px,#e56a32 329.5px,#dc653a 332.8px,#bc584b 337.2px,#b35650 338px,#9b485c 339.2px,#8d4267 339.8px,#7c3d79 340.2px,#783b7b 340.5px,#823f74 341px,#954561 341.5px,#a04b59 342px,#b6574e 343px,#c95e43 344.5px,#db653a 346.2px,#e46933 347.8px,#e97232 351px,#f08a3a 360.8px,#f59a3d 373.2px,#f5ad55 385px,#f5b965 390px,#f6ca7b 394.8px,#f7d08b 396.5px,#fae1bc 399px,#fcf0e0 400.5px,#fffefd 401.2px,#ffffff 401.5px,#ffffff 403.2px,#fcefde 404.2px,#faddae 406.5px,#f7d08a 409px,#f6cc80 410.5px,#f5bc69 418.8px,#f5b35d 429.5px,#f5ad55 448.5px,#f5aa51 486px,#f5ad55 654.8px)"></i>
<i style="left:605px;width:1px;background:linear-gradient(#f5993c 0px,#f08a3a 122.2px,#e56a32 194px,#da643b 201px,#b5564f 212.5px,#944562 216.8px,#6b3784 219px,#633682 220px,#6b3784 221px,#944562 223.2px,#b55650 227.5px,#da643b 239px,#e56a32 246.2px,#ea7634 271.2px,#eb7936 293.8px,#ea7634 313.5px,#e56a32 329.2px,#db653a 332.8px,#be584a 337px,#b25551 338px,#9e4a5a 339px,#934562 339.5px,#813f75 340px,#783b7b 340.5px,#7c3d79 340.8px,#8e4366 341.2px,#9c495b 341.8px,#b35650 342.8px,#c75d44 344.2px,#db653a 346.2px,#e46a33 347.8px,#e97232 351px,#f08a3a 360.8px,#f59a3d 373.5px,#f5ad55 385.2px,#f5b966 390.5px,#f6ca7c 395.2px,#f7d18c 397px,#fae2bc 399.5px,#fcf0e0 401px,#fffefc 401.8px,#ffffff 402px,#ffffff 403.8px,#fffdfa 404px,#fcf0e0 404.8px,#f9dcac 407.2px,#f7d18c 409.5px,#f6cc81 411px,#f5bc6a 419.2px,#f5b35d 430.2px,#f5ad55 449px,#f5aa51 486.8px,#f5ad55 654.8px)"></i>
<i style="left:606px;width:1px;background:linear-gradient(#f5983c 0px,#f08a3a 120.8px,#e56a32 192.8px,#d9643b 200px,#b45650 211.2px,#934463 215.5px,#693785 217.8px,#643683 218.8px,#683786 219.5px,#954561 222px,#b5564f 226.2px,#da643b 237.8px,#e56a32 245px,#ea7634 270.2px,#eb7936 293.2px,#ea7634 313.5px,#e56a32 329.2px,#dc653a 332.5px,#bd584a 337px,#b45650 337.8px,#9c495b 339px,#904365 339.5px,#7e3e77 340px,#783b7b 340.2px,#793b7b 340.5px,#7f3e77 340.8px,#924463 341.2px,#9e4a5a 341.8px,#b5564f 342.8px,#ca5e42 344.5px,#dc653a 346.2px,#e56a32 347.8px,#e97232 351px,#f08a3a 360.8px,#f59a3d 373.5px,#f5ad55 385.8px,#f5ba66 391px,#f6c97b 395.5px,#f7d089 397.2px,#fae2bc 400px,#fcf0df 401.5px,#fffdfb 402.2px,#ffffff 402.5px,#fffefd 404.5px,#fceedc 405.5px,#faddae 407.8px,#f7d08b 410.2px,#f6cc81 411.8px,#f5bd6a 420px,#f5b45d 430.8px,#f5ad55 451px,#f5ab51 487.2px,#f5ad55 654.8px)"></i>
<i style="left:607px;width:1px;background:linear-gradient(#f5983c 0px,#f08a3a 119px,#e56a32 191.2px,#da643b 198.2px,#b5564f 209.8px,#944561 214px,#6c3883 216.2px,#633682 217.2px,#6a3785 218.2px,#934562 220.5px,#b45650 224.8px,#d8633c 235.5px,#e36934 242.2px,#eb7936 286.8px,#eb7835 307px,#e87032 323.2px,#e46a33 329.5px,#dc653a 332.5px,#cc5f41 335px,#b35551 337.8px,#954561 339.2px,#843f72 339.8px,#783b7c 340.2px,#823f75 340.8px,#944561 341.2px,#9a485d 341.5px,#b6564f 342.8px,#da643b 346px,#e56a32 347.8px,#f08a3a 360.8px,#f59a3d 373.8px,#f5ad55 385.8px,#f5bc69 392px,#f6ca7b 396px,#f7d08a 397.8px,#fae4c2 400.8px,#fcf0df 402px,#ffffff 403px,#ffffff 405px,#fcefde 406px,#fadeb1 408.2px,#f7d18d 410.8px,#f6cd82 412.2px,#f6c87a 414.2px,#f5bd6b 420.5px,#f5b45e 431.5px,#f5ad55 453px,#f5ab52 488px,#f5ad55 654.8px)"></i>
<i style="left:608px;width:1px;background:linear-gradient(#f5983c 0px,#f08a3a 117.5px,#e56a32 189.8px,#da643b 197px,#b45650 208.5px,#934463 212.8px,#693785 215px,#633682 216px,#683786 216.8px,#944561 219.2px,#b5564f 223.5px,#d9643b 234.5px,#e46933 241.2px,#eb7a36 286px,#eb7835 306.8px,#e87032 323px,#e56a32 329.2px,#dc653a 332.2px,#cd5f41 334.8px,#b15551 337.8px,#98475e 339px,#924463 339.2px,#813e76 339.8px,#783b7c 340.2px,#7c3d79 340.5px,#964660 341.2px,#b7574e 342.8px,#db653a 346px,#e56a32 347.8px,#f08a3a 360.8px,#f59a3d 373.8px,#f5ad55 386px,#f5bb68 392.2px,#f6ca7c 396.5px,#f7cf88 398px,#f8d69b 399.2px,#fae2bc 401px,#fcefde 402.5px,#ffffff 403.5px,#ffffff 405.5px,#fceedb 406.8px,#faddaf 409px,#f7d18c 411.5px,#f6cd82 413px,#f6c87a 415px,#f5bd6b 421.2px,#f5b45e 432.5px,#f5ad55 455.2px,#f5ab52 489px,#f5ad56 654.8px)"></i>
<i style="left:609px;width:1px;background:linear-gradient(#f5983c 0px,#f08a3a 116px,#e56a32 188.2px,#da643b 195.5px,#b55650 207px,#944562 211.2px,#6b3884 213.5px,#633682 214.5px,#6a3785 215.5px,#934562 217.8px,#b45650 222px,#d9643b 233.5px,#e56a32 241px,#ea7634 267.2px,#eb7a36 291.5px,#ea7634 312.8px,#e56a32 329px,#dc653a 332.2px,#bc584a 336.8px,#b45650 337.5px,#9c495c 338.8px,#783b7b 340px,#7f3e77 340.5px,#98475e 341.2px,#b8574d 342.8px,#dc653a 346px,#e56a32 347.8px,#f08a3a 360.8px,#f59a3d 374px,#f5b25b 388.8px,#f6ca7c 397px,#f7d08b 398.8px,#f9dba8 400.5px,#fcefdd 403px,#ffffff 404px,#fffefe 406.2px,#fcefdd 407.2px,#faddad 409.8px,#f7d18c 412.2px,#f6cd82 413.8px,#f5bd6b 422.2px,#f5b45e 433.8px,#f5ad55 457.5px,#f5ab52 490.5px,#f5ae56 654.8px)"></i>
<i style="left:610px;width:1px;background:linear-gradient(#f5983c 0px,#f08a3a 114.2px,#e56a32 186.8px,#db643b 193.8px,#b5564f 205.5px,#954561 209.8px,#683786 212.2px,#643683 213.2px,#683786 214px,#954561 216.5px,#b5564f 220.8px,#d9643b 232px,#e46933 239px,#ea7534 263.5px,#eb7a36 285px,#eb7835 306.2px,#e87032 322.8px,#e46a33 329.2px,#dc653a 332px,#cc5f42 334.8px,#b25551 337.5px,#944561 339px,#833f73 339.5px,#773b7c 340px,#823f74 340.5px,#944561 341px,#9a485d 341.2px,#b9574c 342.8px,#dc653a 346px,#e56a32 347.8px,#f08a3a 360.8px,#f59a3d 374px,#f5ad55 386.8px,#f5bb68 393px,#f6c97b 397.2px,#f7d089 399px,#fae2bc 402px,#fcefdd 403.5px,#fffefe 404.5px,#ffffff 404.8px,#ffffff 406.8px,#fcf0e0 407.8px,#faddb0 410.2px,#f7d18b 413px,#f6cd82 414.5px,#f5bd6b 423.2px,#f5b45e 435px,#f5ad55 458.8px,#f5ab52 491.8px,#f5ae56 654.8px)"></i>
<i style="left:611px;width:1px;background:linear-gradient(#f5983c 0px,#f08a3a 112.8px,#e56a32 185.2px,#db643b 192.2px,#b5564f 204px,#934463 208.5px,#6a3785 210.8px,#633682 211.8px,#6b3784 212.8px,#944562 215px,#b45650 219.2px,#d9643b 230.8px,#e56a32 238px,#ea7634 262.5px,#eb7a36 284.2px,#eb7936 305.8px,#e87032 322.5px,#e56a32 328.8px,#d5623d 333.2px,#b55650 337.2px,#98475f 338.8px,#803e77 339.5px,#773b7c 340px,#7c3d78 340.2px,#974660 341px,#b7574e 342.5px,#db643b 345.8px,#e56a32 347.5px,#f08a3a 360.8px,#f59a3d 374.2px,#f5ad55 387px,#f5bc69 393.5px,#f6ca7c 397.8px,#f7d089 399.5px,#fae1bc 402.5px,#fceedc 404px,#fffdfc 405px,#ffffff 405.2px,#fffefc 407.5px,#fcefdd 408.5px,#faddaf 411px,#f7d08b 413.8px,#f6cd82 415.2px,#f6c879 417.5px,#f5bd6b 424.2px,#f5b45e 436.2px,#f5ad55 460.2px,#f5ab52 493.2px,#f5ae56 654.8px)"></i>
<i style="left:612px;width:1px;background:linear-gradient(#f5983c 0px,#f08a3a 111px,#e56a32 183.8px,#da643b 191px,#b45650 202.8px,#944562 207px,#6b3784 209.2px,#633682 210.2px,#6a3785 211.2px,#934462 213.5px,#b5564f 218px,#da643b 229.5px,#e56a32 236.8px,#ea7634 261.5px,#eb7a37 283.8px,#eb7936 305.5px,#e87032 322.5px,#e56a32 328.8px,#dc653a 332px,#cc5f41 334.5px,#b35650 337.2px,#964660 338.8px,#7c3d78 339.5px,#773b7c 339.8px,#7f3e77 340.2px,#924463 340.8px,#99475e 341px,#b8574d 342.5px,#db653a 345.8px,#e56a32 347.5px,#f08a3a 360.8px,#f59a3d 374.5px,#f5ad55 387.2px,#f5bb68 393.8px,#f6ca7c 398.2px,#f7d089 400px,#fae3c0 403.2px,#fcf0e0 404.8px,#ffffff 405.8px,#ffffff 408px,#fcf0e0 409px,#faddad 411.8px,#f7d08b 414.5px,#f6cd82 416px,#f5bd6b 425px,#f5b45e 437.5px,#f5ad56 461.5px,#f5ab53 494.5px,#f5ae56 654.8px)"></i>
<i style="left:613px;width:1px;background:linear-gradient(#f4973c 0px,#f08a3a 109.5px,#e56a32 182.2px,#da643b 189.5px,#b45650 201.2px,#944562 205.5px,#683786 208px,#633682 208.8px,#693785 209.8px,#954561 212.2px,#b55650 216.5px,#d9643b 228px,#e56a32 235.5px,#ea7634 260.5px,#eb7b37 283px,#eb7936 305.2px,#e87032 322.2px,#e56a32 328.8px,#d5623d 333px,#b5564f 337px,#99475e 338.5px,#934562 338.8px,#823f75 339.2px,#773b7c 339.8px,#823f74 340.2px,#8b4269 340.5px,#9b485c 341px,#b9574c 342.5px,#dc653a 345.8px,#e56a32 347.5px,#f08a3a 360.8px,#f59a3d 374.5px,#f5ad55 387.5px,#f5bc69 394.2px,#f6ca7c 398.8px,#f7d08a 400.5px,#fae3c0 403.8px,#fcf0df 405.2px,#ffffff 406.2px,#ffffff 408.5px,#fcefdd 409.8px,#f9dcac 412.5px,#f7d08b 415.2px,#f6cc81 417px,#f5bd6a 426.5px,#f5b45e 438.8px,#f5ae56 462.5px,#f5ac53 495.8px,#f5ae56 654.8px)"></i>
<i style="left:614px;width:1px;background:linear-gradient(#f4973c 0px,#f08a3a 107.8px,#e56a32 180.8px,#da643b 188px,#b45650 199.8px,#944561 204px,#683786 206.5px,#633682 207.2px,#683786 208.2px,#944561 210.8px,#b45650 215px,#da643b 226.8px,#e56a32 234.2px,#ea7634 259.5px,#eb7b37 282.2px,#eb7936 304.8px,#e87032 322px,#e56a32 328.5px,#d4623d 333px,#b45650 337px,#97465f 338.5px,#7e3e77 339.2px,#773b7c 339.8px,#7d3d78 340px,#97475f 340.8px,#b7574e 342.2px,#da643b 345.5px,#e56a32 347.5px,#f08a3a 361px,#f59a3d 374.8px,#f5ad55 387.8px,#f5bb68 394.5px,#f6c97b 399px,#f7d08a 401px,#fae3bf 404.2px,#fcefde 405.8px,#fffefd 406.8px,#ffffff 407px,#ffffff 409.2px,#fcf0e0 410.2px,#faddaf 413px,#f7d18d 415.8px,#f6cd82 417.5px,#f6c879 420px,#f5bd6b 427px,#f5b45e 439.8px,#f5ae56 463.5px,#f5ac53 496.8px,#f5ae56 654.8px)"></i>
<i style="left:615px;width:1px;background:linear-gradient(#f4973c 0px,#f08a3a 106.2px,#e56a32 179.2px,#da643b 186.5px,#b45650 198.2px,#944561 202.5px,#683786 205px,#633682 206px,#683786 206.8px,#944561 209.2px,#b45650 213.5px,#da643b 225.2px,#e56a32 232.8px,#ea7634 258.5px,#eb7b37 281.8px,#eb7936 304.5px,#e87032 322px,#e56a32 328.5px,#d4623d 333px,#c25b47 335.5px,#b25551 337px,#954561 338.5px,#833f73 339px,#773b7c 339.5px,#803e76 340px,#934562 340.5px,#99485e 340.8px,#b8574d 342.2px,#db653a 345.5px,#e56a32 347.2px,#f08a3a 361px,#f59a3d 374.8px,#f5ad55 388px,#f5bc69 395px,#f6ca7c 399.5px,#f7d08a 401.5px,#fae3bf 404.8px,#fcefdc 406.2px,#ffffff 407.5px,#ffffff 409.8px,#fcefde 411px,#faddae 413.8px,#f7d08b 416.8px,#f6cd82 418.2px,#f6c87a 420.5px,#f5be6c 427.5px,#f5b55f 440.2px,#f5ae57 463.5px,#f5ac53 496.8px,#f5ae56 654.8px)"></i>
<i style="left:616px;width:1px;background:linear-gradient(#f4973c 0px,#f08a3a 104.5px,#e56a32 177.8px,#da643b 185px,#b45650 196.8px,#944561 201px,#683786 203.5px,#633682 204.5px,#683786 205.2px,#944562 207.8px,#b45650 212px,#da643b 223.8px,#e56a32 231.2px,#ea7634 257.2px,#ec7b37 280.8px,#eb7936 304px,#e87032 321.8px,#e56a32 328.2px,#d5623d 332.8px,#b55650 336.8px,#98475f 338.2px,#924463 338.5px,#803e76 339px,#773b7c 339.5px,#833f72 340px,#964660 340.5px,#b6564f 342px,#dc653a 345.5px,#e56a32 347.2px,#f08a3a 361px,#f59a3d 375px,#f5ad55 388.5px,#f5bc69 395.5px,#f6ca7c 400px,#f7d08a 402px,#fbe4c3 405.5px,#fcf0e0 407px,#ffffff 408px,#ffffff 410.5px,#fceedc 411.8px,#fadeb1 414.2px,#f7d18d 417.2px,#f6cd82 419px,#f6c87a 421.2px,#f5be6c 428.2px,#f5b55f 441px,#f5af57 463.8px,#f5ac54 497.2px,#f5ae56 654.8px)"></i>
<i style="left:617px;width:1px;background:linear-gradient(#f4973c 0px,#f08a3a 102.8px,#e56a32 176px,#da643b 183.5px,#b45650 195.2px,#944562 199.5px,#683786 202px,#633682 202.8px,#683786 203.8px,#944562 206.2px,#b45650 210.5px,#d9643b 222.2px,#e56a32 229.8px,#ea7634 256px,#ec7b37 280.2px,#eb7a36 303.8px,#e87032 321.8px,#e56a32 328.2px,#d4623d 332.8px,#c35b47 335.2px,#b35650 336.8px,#964660 338.2px,#7c3d78 339px,#773b7c 339.2px,#7e3e77 339.8px,#98475f 340.5px,#b7574e 342px,#dc653a 345.5px,#e56a32 347.2px,#f08a3a 361px,#f59a3d 375px,#f5ad55 388.8px,#f5bb68 395.5px,#f6ca7c 400.5px,#f7cf88 402.2px,#fae2bd 405.8px,#fcf0df 407.5px,#fffefd 408.5px,#ffffff 408.8px,#ffffff 411px,#fffefc 411.2px,#fcf0df 412.2px,#fadeb1 415px,#f7d290 417.8px,#f7cd84 419.5px,#f6c97b 421.8px,#f5bf6d 428.8px,#f5b560 441.8px,#f5af57 464.2px,#f5ac54 497.8px,#f5ae56 654.8px)"></i>
<i style="left:618px;width:1px;background:linear-gradient(#f4973c 0px,#f08a3a 101px,#e56a32 174.5px,#da643b 181.8px,#b5564f 193.5px,#944562 198px,#683786 200.5px,#633682 201.2px,#683786 202.2px,#944561 204.8px,#b45650 209px,#da643b 221px,#e56a32 228.5px,#ea7735 255px,#ec7c37 279.5px,#eb7a36 303.5px,#e87132 321.5px,#e56a32 328px,#d5623d 332.5px,#b5564f 336.5px,#99475e 338px,#934562 338.2px,#813f75 338.8px,#763b7c 339.2px,#823f75 339.8px,#944561 340.2px,#9a485d 340.5px,#b9574d 342px,#db643b 345.2px,#e56a32 347px,#f08a3a 361px,#f59a3d 375.2px,#f5ad55 389px,#f5bb68 396px,#f6ca7c 401px,#f7cf89 402.8px,#f9d8a0 404.5px,#fae4c1 406.5px,#fcefdd 408px,#ffffff 409.2px,#ffffff 411.8px,#fcefdd 413px,#faddb0 415.8px,#f7d290 418.5px,#f7cd84 420.2px,#f6c97b 422.5px,#f6bf6e 429.5px,#f5b560 442.5px,#f5af58 464.8px,#f5ac54 498.2px,#f5ae57 654.8px)"></i>
<i style="left:619px;width:1px;background:linear-gradient(#f4963c 0px,#f08a3a 99.2px,#e56a32 172.8px,#da643b 180px,#b55650 192px,#934462 196.5px,#6b3784 198.8px,#633682 199.8px,#693785 200.8px,#944561 203.2px,#b45650 207.5px,#da643b 219.5px,#e56a32 227px,#ea7735 253.8px,#ec7c37 278.8px,#eb7a36 303.2px,#e87032 321.5px,#e56a32 328px,#d4623d 332.5px,#c35b47 335px,#b45650 336.5px,#974660 338px,#7e3d78 338.8px,#773b7c 339.2px,#7c3d79 339.5px,#964660 340.2px,#b6574e 341.8px,#db653a 345.2px,#e56a32 347px,#f08a3a 361px,#f59a3d 375.2px,#f5ad55 389.2px,#f5bc69 396.5px,#f6c97b 401.2px,#f7cf89 403.2px,#fae1bb 406.8px,#fcf0e1 408.8px,#ffffff 409.8px,#ffffff 410px,#fffefd 412.5px,#fcf0e1 413.5px,#fadeb3 416.2px,#f8d392 419px,#f7ce84 421px,#f6ca7c 423px,#f6bf6e 430.2px,#f5b661 443.2px,#f5b058 465px,#f5ad54 498.8px,#f5ae57 654.8px)"></i>
<i style="left:620px;width:1px;background:linear-gradient(#f4963b 0px,#f08a3a 97.5px,#e56a32 171.2px,#da643b 178.8px,#b45650 190.5px,#954561 194.8px,#6a3785 197.2px,#633682 198.2px,#6a3784 199.2px,#954561 201.8px,#b45650 206px,#da643b 218px,#e56a32 225.5px,#ea7735 252.8px,#ec7c37 278px,#eb7a36 302.8px,#e87132 321.2px,#e56a32 328px,#d5623d 332.2px,#b5564f 336.2px,#944561 338px,#833f74 338.5px,#763b7c 339px,#803e76 339.5px,#924463 340px,#99475e 340.2px,#b8574d 341.8px,#dc653a 345.2px,#e56a32 347px,#f08a3a 361px,#f59a3d 375.5px,#f5ad55 389.5px,#f5bb68 396.8px,#f6ca7b 401.8px,#f7cf89 403.8px,#fae3bf 407.5px,#fcf0df 409.2px,#ffffff 410.5px,#ffffff 413px,#fcf0df 414.2px,#fadeb3 417px,#f8d495 419.5px,#f7ce86 421.5px,#f6ca7c 424px,#f6c06f 430.5px,#f5b661 443.8px,#f5b059 465.2px,#f5ad55 499px,#f5ae57 654.8px)"></i>
<i style="left:621px;width:1px;background:linear-gradient(#f4963b 0px,#f08a3a 95.8px,#e56a32 169.5px,#da643b 176.8px,#b5564f 188.8px,#944562 193.2px,#683786 195.8px,#633682 196.8px,#6c3883 197.8px,#934562 200px,#b55650 204.5px,#da643b 216.5px,#e56a32 224px,#ea7735 251.5px,#ec7c38 277px,#eb7a36 302.2px,#e87132 321px,#e56a32 327.8px,#d6623d 332px,#c35b47 334.8px,#b45650 336.2px,#97475f 337.8px,#7f3e77 338.5px,#763b7c 339px,#833f73 339.5px,#954661 340px,#b9574d 341.8px,#db643b 345px,#e56a32 347px,#f08a3a 361px,#f59a3d 375.8px,#f5ad55 390px,#f5bb69 397.2px,#f6ca7c 402.2px,#f7cf89 404.2px,#f9d89f 406px,#fbe4c2 408.2px,#fcf1e3 410px,#ffffff 411px,#ffffff 413.8px,#fcefde 415px,#fadfb6 417.5px,#f8d495 420.2px,#f7ce86 422.2px,#f6ca7c 424.8px,#f6c170 431.2px,#f5b762 444.5px,#f5b059 465.5px,#f5ad55 499.2px,#f5af57 654.8px)"></i>
<i style="left:622px;width:1px;background:linear-gradient(#f4963b 0px,#f08a3a 94px,#e56a32 168px,#da643b 175.2px,#b45650 187.2px,#934463 191.8px,#6b3784 194px,#633682 195px,#693786 196px,#944561 198.5px,#b5564f 203px,#da643b 215px,#e56a32 222.5px,#ea7735 250.2px,#ec7c38 276.2px,#eb7a37 302px,#e87132 321px,#e56a32 327.8px,#d5623d 332px,#c25b47 334.8px,#b25551 336.2px,#954561 337.8px,#7b3d79 338.5px,#763b7c 338.8px,#7e3e77 339.2px,#98475f 340px,#b7574e 341.5px,#db653a 345px,#e56a32 346.8px,#f08a3a 361px,#f59a3d 375.8px,#f5ad55 390.2px,#f5bb68 397.5px,#f6ca7c 402.8px,#f7cf89 404.8px,#fae2bd 408.5px,#fcf0e0 410.5px,#fffefc 411.5px,#ffffff 411.8px,#fffefd 414.5px,#fcefdd 415.8px,#fadfb6 418.2px,#f8d496 421px,#f7cf87 423px,#f6ca7c 425.8px,#f6c170 432px,#f5b762 445.2px,#f5b15a 466.2px,#f5ad55 500.8px,#f5af57 654.8px)"></i>
<i style="left:623px;width:1px;background:linear-gradient(#f4963b 0px,#f08a3a 92.2px,#e56a32 166.2px,#da643b 173.5px,#b5564f 185.5px,#944561 190px,#693785 192.5px,#633682 193.5px,#6b3784 194.5px,#954561 197px,#b45650 201.2px,#da643b 213.2px,#e56a32 220.8px,#ea7735 249px,#ec7d38 275.5px,#eb7a37 301.5px,#e87132 320.8px,#e56a32 327.5px,#d4623d 332px,#b45650 336px,#98475f 337.5px,#924463 337.8px,#803e76 338.2px,#763b7d 338.8px,#823f75 339.2px,#944561 339.8px,#9a485d 340px,#b8574d 341.5px,#dc653a 345px,#e56a32 346.8px,#f08a3a 361px,#f59a3d 376px,#f5ad55 390.5px,#f5bb68 398px,#f6ca7c 403.2px,#f7cf89 405.2px,#fae3c0 409.2px,#fcefde 411px,#ffffff 412.2px,#ffffff 415px,#fcf0e1 416.2px,#fadfb6 419px,#f8d599 421.5px,#f7cf87 423.8px,#f6ca7c 426.5px,#f6c575 430px,#f5b763 446px,#f5b15a 468.2px,#f5ad55 505.8px,#f5af57 654.8px)"></i>
<i style="left:624px;width:1px;background:linear-gradient(#f4953b 0px,#f08a3a 90.2px,#e56a32 164.5px,#da643b 172px,#b45650 184px,#954661 188.2px,#6b3784 190.8px,#633682 191.8px,#683786 192.8px,#944562 195.2px,#b55650 199.8px,#da643b 211.8px,#e56a32 219.2px,#ea7735 247.8px,#ec7d38 274.5px,#eb7b37 301px,#e87132 320.5px,#e56a32 327.5px,#d5623d 331.8px,#b6564f 335.8px,#9b485d 337.2px,#8d4267 337.8px,#7c3d79 338.2px,#773b7c 338.8px,#7d3d78 339px,#97465f 339.8px,#b6574e 341.2px,#db643b 344.8px,#e56a32 346.8px,#f08a3a 361px,#f59a3d 376px,#f5ad55 390.8px,#f5bb68 398.2px,#f6ca7c 403.8px,#f7cf89 405.8px,#fae3be 409.8px,#fcf0e1 411.8px,#ffffff 413px,#ffffff 415.8px,#fcf0e0 417px,#fae1b9 419.5px,#f8d699 422.2px,#f7cf87 424.5px,#f6ca7c 427.2px,#f6c576 430.8px,#f5b763 446.8px,#f5b15a 468.8px,#f5ad55 506.2px,#f5af57 654.8px)"></i>
<i style="left:625px;width:1px;background:linear-gradient(#f4953b 0px,#f08a3a 88.5px,#e56a32 162.8px,#da643b 170.2px,#b55650 182.2px,#944562 186.8px,#683786 189.2px,#633682 190.2px,#6b3784 191.2px,#954561 193.8px,#b45650 198px,#d9643b 210px,#e56a32 217.8px,#eb7835 247px,#ec7d38 275.2px,#eb7b37 301.2px,#e87132 320.5px,#e56a32 327.2px,#d4623d 331.8px,#b45650 335.8px,#98475e 337.2px,#924463 337.5px,#813f76 338px,#763a7d 338.5px,#813e76 339px,#934562 339.5px,#99485e 339.8px,#b8574e 341.2px,#dc653a 344.8px,#e56a32 346.5px,#f08a3a 361px,#f59a3d 376.2px,#f5ad55 391px,#f5bb68 398.8px,#f6ca7c 404.2px,#f7cf89 406.2px,#f9d8a0 408.2px,#fae4c1 410.5px,#fcefde 412.2px,#ffffff 413.5px,#ffffff 416.5px,#fcf0df 417.8px,#fae2bd 420px,#f9d79c 422.8px,#f7cf88 425.2px,#f6ca7c 428.2px,#f6c576 431.5px,#f5b863 447.5px,#f5b15a 469.2px,#f5ad56 506.8px,#f5af57 654.8px)"></i>
<i style="left:626px;width:1px;background:linear-gradient(#f4953b 0px,#f08a3a 86.8px,#e56a32 161px,#da643b 168.5px,#b5564f 180.5px,#944561 185px,#6a3785 187.5px,#633582 188.5px,#693785 189.5px,#944561 192px,#b5564f 196.5px,#da643b 208.8px,#e56a32 216.2px,#eb7835 245.8px,#ec7d38 274.2px,#eb7b37 301px,#e87132 320.2px,#e56a32 327.2px,#d5623d 331.5px,#c25b47 334.2px,#b35551 335.8px,#964660 337.2px,#7d3d78 338px,#763b7c 338.5px,#7c3d79 338.8px,#964660 339.5px,#b6564f 341px,#da643b 344.5px,#e56a32 346.5px,#f08a3a 361px,#f59a3d 376.2px,#f5ad55 391.5px,#f5bb69 399.2px,#f6ca7c 404.8px,#f7d08a 407px,#fae3c0 411px,#fcf1e1 413px,#ffffff 414.2px,#fffefd 417.2px,#fcefde 418.5px,#fae1ba 421px,#f9d79d 423.5px,#f7cf88 426px,#f6ca7c 429.2px,#f6c676 432.2px,#f5b864 448.2px,#f5b15b 470px,#f5ae56 507.5px,#f5af58 654.8px)"></i>
<i style="left:627px;width:1px;background:linear-gradient(#f4953b 0px,#f08a3a 84.8px,#e56a32 159.2px,#da643b 166.8px,#b45650 179px,#954561 183.2px,#6b3784 185.8px,#633682 186.8px,#683786 187.8px,#934562 190.2px,#b45650 194.8px,#d9643b 206.8px,#e56a32 214.5px,#eb7835 244.5px,#ec7e38 273.5px,#eb7b37 300.8px,#e87132 320.2px,#e56a32 327px,#d4623d 331.5px,#b55650 335.5px,#99475e 337px,#934562 337.2px,#813f75 337.8px,#763a7d 338.2px,#7f3e77 338.8px,#924463 339.2px,#98475e 339.5px,#b7574e 341px,#db653a 344.5px,#e56a32 346.5px,#f08a3a 361px,#f59a3d 376.5px,#f5ad55 391.8px,#f5bb68 399.5px,#f6ca7c 405.2px,#f7d08a 407.5px,#fae3be 411.5px,#fcefdf 413.5px,#fffffe 414.8px,#ffffff 415px,#ffffff 417.8px,#fcefde 419.2px,#fae2bd 421.5px,#f9d8a0 424px,#f7d08a 426.5px,#f6c778 432.5px,#f5b864 449px,#f5b25b 470.5px,#f5ae56 508px,#f5af58 654.8px)"></i>
<i style="left:628px;width:1px;background:linear-gradient(#f4953b 0px,#f08a3a 83px,#e56a32 157.5px,#da643b 165px,#b45650 177.2px,#934463 181.8px,#683786 184.2px,#633682 185.2px,#6c3883 186.2px,#934463 188.5px,#b45650 193px,#da643b 205.2px,#e56a32 213px,#eb7835 243px,#ec7e38 272.8px,#eb7b37 300.2px,#e87132 320px,#e56a32 327px,#d5623d 331.2px,#c25b47 334px,#b35551 335.5px,#964660 337px,#7d3d78 337.8px,#763a7d 338.2px,#833f73 338.8px,#954661 339.2px,#b5564f 340.8px,#dc653a 344.5px,#e56a32 346.2px,#f08a3a 361px,#f59a3d 376.5px,#f5ad55 392px,#f5bb68 400px,#f6ca7c 405.8px,#f7d08a 408px,#fae4c1 412.2px,#fcf0e1 414.2px,#ffffff 415.5px,#ffffff 418.5px,#fcefde 420px,#fae2bd 422.2px,#f9d89e 425px,#f7d089 427.5px,#f6c778 433.5px,#f5b965 449.8px,#f5b25c 471px,#f5ae57 508.5px,#f5af58 654.8px)"></i>
<i style="left:629px;width:1px;background:linear-gradient(#f4953b 0px,#f08a3a 81px,#e56a32 155.8px,#da643b 163.2px,#b45650 175.5px,#934562 180px,#683786 182.5px,#633682 183.5px,#6b3784 184.5px,#954561 187px,#b5564f 191.5px,#da643b 203.8px,#e56a32 211.2px,#eb7835 241.8px,#ec7e38 272px,#ec7b37 300px,#e87132 320px,#e56a32 326.8px,#d4623d 331.2px,#b55650 335.2px,#934562 337px,#823f75 337.5px,#753a7d 338px,#7f3e77 338.5px,#98475f 339.2px,#b7574e 340.8px,#da643b 344.2px,#e56a32 346.2px,#f08a3a 361px,#f59a3d 376.8px,#f5ad55 392.2px,#f5bb68 400.2px,#f6ca7c 406.2px,#f7d08a 408.5px,#fae3bf 412.8px,#fcefde 414.8px,#ffffff 416.2px,#ffffff 419.2px,#fcefde 420.8px,#fae2be 423px,#f9d9a1 425.5px,#f7d08a 428.2px,#f6c778 434.2px,#f5b965 450.5px,#f5b25c 471.5px,#f5ae57 509.2px,#f5af58 654.8px)"></i>
<i style="left:630px;width:1px;background:linear-gradient(#f4943b 0px,#f08a3a 79px,#e56a32 154px,#da643b 161.5px,#b45650 173.8px,#934562 178.2px,#683786 180.8px,#633582 181.8px,#6b3784 182.8px,#954561 185.2px,#b5564f 189.8px,#da643b 202px,#e56a32 209.5px,#eb7835 240.2px,#ec7e38 271px,#ec7b37 299.8px,#e87132 319.8px,#e56a32 326.8px,#d5623d 331px,#c25b47 333.8px,#b35551 335.2px,#964660 336.8px,#7d3d78 337.5px,#753a7d 338px,#833f74 338.5px,#954561 339px,#b8574d 340.8px,#db653a 344.2px,#e56a32 346.2px,#f08a3a 361px,#f59a3d 376.8px,#f5ad55 392.5px,#f5bb68 400.8px,#f6ca7b 406.5px,#f7d08a 409px,#fae2be 413.2px,#fcf0e0 415.5px,#fffffe 416.8px,#ffffff 417px,#ffffff 420px,#fcefde 421.5px,#fae3be 423.8px,#f9d8a0 426.5px,#f7d089 429.2px,#f6c778 435px,#f5b966 451.2px,#f5b35c 472px,#f5af57 509.8px,#f5af58 654.8px)"></i>
<i style="left:631px;width:1px;background:linear-gradient(#f4943b 0px,#f08a3a 77.2px,#e56a32 152px,#da643b 159.5px,#b5564f 171.8px,#934462 176.5px,#683786 179px,#633582 180px,#6b3784 181px,#954561 183.5px,#b55650 188px,#da643b 200.2px,#e56a32 208px,#eb7835 239px,#ec7f38 270.2px,#ec7b37 299.2px,#e97132 319.5px,#e56a32 326.5px,#d6623d 330.8px,#b55650 335px,#944562 336.8px,#823f75 337.2px,#753a7d 337.8px,#7e3d78 338.2px,#97475f 339px,#b6574e 340.5px,#dc653a 344.2px,#e56a32 346px,#f08a3a 361px,#f59a3d 377px,#f5ad55 393px,#f5bb69 401.2px,#f6ca7b 407px,#f7d089 409.5px,#fae3c0 414px,#fcefde 416px,#ffffff 417.5px,#ffffff 420.8px,#fcefde 422.2px,#fae2bc 424.8px,#f9d89e 427.5px,#f7d089 430.2px,#f6c779 436px,#f5ba66 452px,#f5b35d 472.8px,#f5af57 510.2px,#f5af58 654.8px)"></i>
<i style="left:632px;width:1px;background:linear-gradient(#f4943b 0px,#f08a3a 75.2px,#e56a32 150.2px,#da643b 157.8px,#b5564f 170px,#954561 174.5px,#683786 177.2px,#633582 178.2px,#6b3784 179.2px,#954561 181.8px,#b55650 186.2px,#da643b 198.5px,#e56a32 206.2px,#eb7836 237.5px,#ed7f38 269.5px,#ec7c37 299px,#e87132 319.5px,#e56a32 326.2px,#d5623d 330.8px,#c25b47 333.5px,#b35551 335px,#964660 336.5px,#7d3d78 337.2px,#753a7d 337.8px,#823f74 338.2px,#944561 338.8px,#b8574d 340.5px,#db653a 344px,#e56a32 346px,#f08a3a 361px,#f59a3d 377px,#f5ad55 393.2px,#f5bb68 401.5px,#f6ca7b 407.5px,#f7d089 410px,#fae4c2 414.8px,#fcf0df 416.8px,#ffffff 418.2px,#ffffff 421.5px,#fcefde 423px,#fae2bc 425.5px,#f9d89f 428.2px,#f7d08a 431px,#f6c879 436.8px,#f5ba67 452.8px,#f5b35d 473.2px,#f5af58 510.8px,#f5b058 654.8px)"></i>
<i style="left:633px;width:1px;background:linear-gradient(#f4943b 0px,#f08a3a 73.2px,#e56a32 148.5px,#da643b 156px,#b55650 168.2px,#944561 172.8px,#6b3784 175.2px,#633582 176.2px,#683786 177.2px,#954561 180px,#b5564f 184.5px,#da643b 196.8px,#e56a32 204.5px,#eb7936 236px,#ed7f38 268.5px,#ec7c37 298.8px,#e97132 319.2px,#e56a32 326.2px,#d5623d 330.5px,#b45650 334.8px,#934562 336.5px,#823f75 337px,#753a7d 337.5px,#7e3d78 338px,#97475f 338.8px,#b9574c 340.5px,#dc653a 344px,#e56a32 346px,#f08a3a 361px,#f59a3d 377.2px,#f5ad55 393.5px,#f5bb68 402px,#f6ca7b 408px,#f7d089 410.5px,#fae3c0 415.2px,#fcf0e1 417.5px,#fffefd 418.8px,#ffffff 419px,#ffffff 422.2px,#fcefde 423.8px,#fae2bd 426.2px,#f9d89e 429.2px,#f7d089 432px,#f6c879 437.5px,#f5ba67 453.5px,#f5b45e 473.8px,#f5af58 511.2px,#f5b058 654.8px)"></i>
<i style="left:634px;width:1px;background:linear-gradient(#f3943b 0px,#f08a3a 71.2px,#e56a32 146.5px,#da643b 154.2px,#b45650 166.5px,#944562 171px,#6a3785 173.5px,#633582 174.5px,#683786 175.5px,#934562 178px,#b5564f 182.8px,#da643b 195px,#e56a32 202.8px,#eb7936 234.5px,#ed7f38 267.5px,#ec7c37 298.2px,#e97132 319px,#e56a32 326px,#d5623d 330.5px,#c25b47 333.2px,#b35551 334.8px,#964660 336.2px,#7d3d78 337px,#753a7d 337.5px,#823f74 338px,#944561 338.5px,#b8574e 340.2px,#da643b 343.8px,#e56a32 345.8px,#f08a3a 361px,#f59a3d 377.2px,#f5ad55 393.8px,#f5bb69 402.5px,#f6ca7c 408.8px,#f7d08a 411.2px,#fae3be 415.8px,#fcefde 418px,#ffffff 419.5px,#ffffff 419.8px,#ffffff 423px,#fcefdf 424.5px,#fae2be 427px,#f9daa4 429.5px,#f7d08a 432.8px,#f6c87a 438.2px,#f5bb68 454.2px,#f5b45e 474.5px,#f5b058 512px,#f5b059 654.8px)"></i>
<i style="left:635px;width:1px;background:linear-gradient(#f3943b 0px,#f08a3a 69.2px,#e56a32 144.5px,#da643b 152px,#b5564f 164.5px,#934462 169.2px,#683786 171.8px,#633582 172.8px,#6a3785 173.8px,#944562 176.2px,#b45650 180.8px,#da643b 193.2px,#e56a32 201px,#eb7936 233.2px,#ed8038 266.8px,#ec7c37 298px,#e97132 319px,#e56a32 326px,#d5623d 330.2px,#b45650 334.5px,#99475e 336px,#934562 336.2px,#813f75 336.8px,#753a7d 337.2px,#7d3d78 337.8px,#97465f 338.5px,#b9574d 340.2px,#db653a 343.8px,#e56a32 345.8px,#f08a3a 361px,#f59a3d 377.5px,#f5ad55 394.2px,#f5bb68 402.8px,#f6ca7c 409.2px,#f7d08a 411.8px,#f9dcad 415px,#fbebd4 418px,#fcf2e4 419px,#ffffff 420.2px,#ffffff 423.8px,#fcf0df 425.2px,#fae2bc 428px,#f9d8a0 430.8px,#f7d08a 433.8px,#f6c87a 439.2px,#f5bb68 455.5px,#f5b45e 476.5px,#f5b059 513px,#f5b059 654.8px)"></i>
<i style="left:636px;width:1px;background:linear-gradient(#f3933b 0px,#f08a3a 67.2px,#e56a32 142.8px,#da643b 150.5px,#b45650 162.8px,#944561 167.2px,#6b3784 169.8px,#633582 170.8px,#683786 171.8px,#954561 174.5px,#b45650 179px,#da643b 191.5px,#e56a32 199.2px,#eb7936 231.8px,#ed8038 265.8px,#ec7c38 297.5px,#e97132 318.8px,#e56a32 325.8px,#d4623d 330.2px,#b6564f 334.2px,#964660 336px,#7d3d78 336.8px,#753a7d 337.2px,#823f74 337.8px,#944561 338.2px,#b7574e 340px,#da643b 343.5px,#e56a32 345.5px,#f08a3a 361px,#f59a3d 377.8px,#f5ad55 394.5px,#f5bb68 403.2px,#f6ca7c 409.8px,#f7d08a 412.2px,#fae4c1 417.2px,#fcf0e0 419.5px,#ffffff 421px,#ffffff 424.5px,#fcf0e0 426px,#fae2bd 428.8px,#f9d89f 431.8px,#f7d08a 434.8px,#f6c87a 440.5px,#f5bb68 456.8px,#f5b45e 478.8px,#f5b059 514.2px,#f5b059 654.8px)"></i>
<i style="left:637px;width:1px;background:linear-gradient(#f3933b 0px,#f08a3a 65px,#e56a32 140.8px,#da643b 148.2px,#b5564f 160.8px,#934462 165.5px,#683786 168px,#633582 169px,#693785 170px,#934562 172.5px,#b5564f 177.2px,#da643b 189.8px,#e56a32 197.5px,#eb7936 230.2px,#ed8038 264.8px,#ec7c38 297px,#e97132 318.5px,#e56a32 325.8px,#d5623d 330px,#b45650 334.2px,#98475e 335.8px,#924463 336px,#813f76 336.5px,#753a7d 337px,#7e3d78 337.5px,#97475f 338.2px,#b9574d 340px,#db653a 343.5px,#e56a32 345.5px,#f08a3a 361px,#f59a3d 377.8px,#f5ad55 394.8px,#f5bb69 403.8px,#f6ca7c 410.2px,#f7d089 412.8px,#fae3c0 417.8px,#fcf1e1 420.2px,#ffffff 421.8px,#ffffff 425.2px,#fcf0e1 426.8px,#fae1bb 429.8px,#f9d89f 432.8px,#f7d08a 435.8px,#f6c87a 441.5px,#f5bb68 458.2px,#f5b45e 481px,#f5b059 515.5px,#f5b059 654.8px)"></i>
<i style="left:638px;width:1px;background:linear-gradient(#f3933b 0px,#f08a3a 63px,#e56a32 138.8px,#da643b 146.5px,#b45650 159px,#944562 163.5px,#6a3784 166px,#633582 167px,#683786 168px,#954561 170.8px,#b45650 175.2px,#da643b 187.8px,#e56a32 195.8px,#eb7936 228.8px,#ed8038 263.8px,#ec7c38 296.8px,#e97132 318.2px,#e56a32 325.5px,#d6623d 329.8px,#b5564f 334px,#954661 335.8px,#7c3d79 336.5px,#753a7d 337px,#823f74 337.5px,#944561 338px,#b7574e 339.8px,#dc653a 343.5px,#e56a32 345.5px,#f08a3a 361px,#f59a3d 377.8px,#f5ad55 395px,#f5bb68 404px,#f6ca7c 410.8px,#f7d089 413.2px,#fae4c1 418.5px,#fcefde 420.8px,#ffffff 422.5px,#ffffff 426px,#fcefde 427.8px,#fae2bd 430.5px,#f9d79e 433.8px,#f7d089 436.8px,#f6c87a 442.8px,#f5bb68 459.8px,#f5b45e 483.2px,#f5b059 517px,#f5b059 654.8px)"></i>
<i style="left:639px;width:1px;background:linear-gradient(#f3933b 0px,#f08a3a 62px,#e56a32 136.8px,#da643b 144.5px,#b45650 157px,#954561 161.5px,#683786 164.2px,#633582 165.2px,#6a3785 166.2px,#944562 168.8px,#b5564f 173.5px,#da643b 186px,#e56a32 193.8px,#eb7936 227.2px,#ed8039 263px,#ec7e38 292.5px,#e97132 318.2px,#e56a32 325.2px,#d5623d 329.8px,#c25b47 332.5px,#b35650 334px,#98475f 335.5px,#914464 335.8px,#803e76 336.2px,#743a7e 336.8px,#7e3d78 337.2px,#97475f 338px,#b6564f 339.5px,#db653a 343.2px,#e56a32 345.2px,#f08a3a 361px,#f59a3d 378px,#f5ad55 395.5px,#f5bb68 404.5px,#f6ca7c 411.2px,#f7d08a 414px,#fbe4c2 419.2px,#fcf0df 421.5px,#ffffff 423.2px,#ffffff 426.8px,#fcefdf 428.5px,#fae1bb 431.5px,#f9d79d 434.8px,#f7d089 437.8px,#f6c97a 443.5px,#f5bb69 460.5px,#f5b45e 485.5px,#f5b15a 517.2px,#f5b059 654.8px)"></i>
<i style="left:640px;width:1px;background:linear-gradient(#f3933b 0px,#f0893a 61px,#e56a32 134.8px,#da643b 142.5px,#b55650 155px,#934463 159.8px,#683786 162.2px,#633582 163.2px,#683786 164.2px,#934463 166.8px,#b45650 171.5px,#da643b 184px,#e56a32 192px,#eb7936 225.8px,#ed8139 262px,#ec7e38 292px,#e97132 318px,#e56a32 325.2px,#d5623d 329.5px,#b5564f 333.8px,#9a485d 335.2px,#8c4268 335.8px,#7b3c79 336.2px,#753a7d 336.8px,#833f73 337.2px,#954561 337.8px,#b7574e 339.5px,#dc653a 343.2px,#e56a32 345.2px,#f08a3a 361px,#f59a3d 378px,#f5ad55 395.8px,#f5bb68 405px,#f6ca7c 411.8px,#f7d08a 414.5px,#fae3c0 419.8px,#fcf0e0 422.2px,#fffefe 423.8px,#ffffff 424px,#ffffff 427.5px,#fcf0e0 429.2px,#fae2bd 432.2px,#f9d89f 435.5px,#f7d089 438.8px,#f6c97a 444.5px,#f5bc69 461.5px,#f5b45f 486.2px,#f5b15a 518px,#f5b059 654.8px)"></i>
<i style="left:641px;width:1px;background:linear-gradient(#f3923b 0px,#f0893a 60px,#e56a32 132.8px,#da643b 140.5px,#b55650 153px,#934562 157.8px,#693785 160.2px,#633582 161.2px,#683786 162.2px,#954561 165px,#b45650 169.5px,#da643b 182.2px,#e56a32 190.2px,#eb7a36 224.2px,#ed8139 261.2px,#ec7e38 291.8px,#e97132 318px,#e56a32 325px,#d4623d 329.5px,#c25b47 332.2px,#b35551 333.8px,#97465f 335.2px,#7f3e77 336px,#743a7e 336.5px,#7f3e77 337px,#98475f 337.8px,#b6564f 339.2px,#db643b 343px,#e56a32 345px,#f08a3a 361px,#f59a3d 378.2px,#f5ad55 396px,#f5bb69 405.5px,#f6ca7c 412.2px,#f7d089 415px,#fae4c1 420.5px,#fcf0e0 423px,#fffefe 424.5px,#ffffff 424.8px,#fffefe 428.5px,#fcf0e1 430px,#fae1bb 433.2px,#f9d89e 436.5px,#f7d089 439.8px,#f6c97b 445.5px,#f5bc6a 462.2px,#f5b55f 486.8px,#f5b15a 518.5px,#f5b059 654.8px)"></i>
<i style="left:642px;width:1px;background:linear-gradient(#f3923b 0px,#f0893a 59px,#e56a32 130.8px,#da643b 138.5px,#b55650 151px,#934562 155.8px,#6a3785 158.2px,#633582 159.2px,#683786 160.2px,#944561 163px,#b5564f 167.8px,#da643b 180.5px,#e56a32 188.2px,#eb7a36 222.5px,#ed8139 260px,#ec7e38 291px,#e97132 317.5px,#e56a32 325px,#d7633c 329px,#b45650 333.5px,#99485e 335px,#944562 335.2px,#7a3c7a 336px,#753a7d 336.5px,#833f73 337px,#954661 337.5px,#b8574e 339.2px,#dc653a 343px,#e56a32 345px,#f08a3a 360.8px,#f59a3d 378.2px,#f5ad55 396.2px,#f5bb68 405.8px,#f6ca7c 412.8px,#f7d08a 415.8px,#fbe4c2 421.2px,#fcf1e1 423.8px,#fffefe 425.2px,#ffffff 425.5px,#ffffff 429.2px,#fcefdf 431px,#fae2bd 434px,#f9d89e 437.5px,#f7d089 440.8px,#f6c97b 446.2px,#f5bd6a 463px,#f5b560 487px,#f5b15b 519px,#f5b15a 654.8px)"></i>
<i style="left:643px;width:1px;background:linear-gradient(#f3923b 0px,#ef883a 58.2px,#e56a32 128.8px,#da643b 136.5px,#b55650 149px,#934562 153.8px,#6a3785 156.2px,#633582 157.2px,#683786 158.2px,#944561 161px,#b5564f 165.8px,#da643b 178.5px,#e56a32 186.2px,#eb7a36 221px,#ed8139 259px,#ec7e38 290.5px,#e97132 317.5px,#e56a32 324.8px,#d6623d 329px,#b6564f 333.2px,#964660 335px,#7e3d78 335.8px,#743a7e 336.2px,#803e77 336.8px,#924463 337.2px,#98475e 337.5px,#b6564f 339px,#db643b 342.8px,#e56a32 344.8px,#f08a3a 360.8px,#f59a3d 378.5px,#f5ad55 396.8px,#f5bb68 406.2px,#f6ca7c 413.2px,#f7d08a 416.2px,#fae3c0 421.8px,#fcefde 424.2px,#ffffff 426.2px,#ffffff 430px,#fcf0e0 431.8px,#fae2bc 435px,#f9d8a0 438.2px,#f7d08a 441.8px,#f6c97b 447.2px,#f5bd6b 464px,#f5b560 487.8px,#f5b25b 519.5px,#f5b15a 654.8px)"></i>
<i style="left:644px;width:1px;background:linear-gradient(#f3923b 0px,#ef883a 57.2px,#e56a32 126.8px,#da643b 134.5px,#b45650 147px,#934562 151.8px,#693785 154.2px,#633582 155.2px,#683786 156.2px,#944561 159px,#b5564f 163.8px,#da643b 176.5px,#e56a32 184.5px,#eb7a36 219.5px,#ed8239 258.2px,#ec7f38 290.2px,#e97132 317.2px,#e56a32 324.5px,#d5623d 329px,#b45650 333.2px,#98475e 334.8px,#934463 335px,#813f75 335.5px,#743a7e 336px,#7c3d79 336.5px,#8d4267 337px,#9b495c 337.5px,#b8574d 339px,#dc653a 342.8px,#e56a32 344.8px,#f08a3a 360.8px,#f59a3d 378.5px,#f5ad55 397px,#f5bb68 406.8px,#f6ca7c 413.8px,#f7d089 416.8px,#fae4c1 422.5px,#fcefde 425px,#ffffff 427px,#ffffff 430.8px,#fcefde 432.8px,#fae1bb 436px,#f9d8a0 439.2px,#f7d08a 442.8px,#f6ca7c 448.2px,#f5bd6b 464.8px,#f5b661 488px,#f5b25b 520px,#f5b15a 654.8px)"></i>
<i style="left:645px;width:1px;background:linear-gradient(#f3923b 0px,#ef873a 56.2px,#e56a32 124.5px,#da643b 132.2px,#b45650 145px,#954561 149.5px,#693786 152.2px,#633582 153.2px,#683786 154.2px,#944561 157px,#b5564f 161.8px,#da643b 174.5px,#e56a32 182.5px,#eb7a36 217.8px,#ee8239 257.2px,#ed7f38 289.8px,#e97132 317.2px,#e56a32 324.5px,#d5623d 328.8px,#b5564f 333px,#954661 334.8px,#7c3d79 335.5px,#743a7e 336px,#813f76 336.5px,#934562 337px,#99475e 337.2px,#b6574e 338.8px,#db643b 342.5px,#e56a32 344.5px,#f08a3a 360.8px,#f59a3d 378.8px,#f5ad55 397.2px,#f5bb69 407.2px,#f6ca7c 414.5px,#f7d08a 417.5px,#f9dcac 421.2px,#fbecd6 425px,#ffffff 427.8px,#ffffff 431.8px,#fcf0e0 433.5px,#fae2bd 436.8px,#f9d89f 440.2px,#f7d08a 443.8px,#f6ca7c 449.2px,#f5be6c 465.8px,#f5b661 488.8px,#f5b25c 520.8px,#f5b15a 654.8px)"></i>
<i style="left:646px;width:1px;background:linear-gradient(#f3913b 0px,#ef873a 55.2px,#e56a32 122.5px,#da643b 130.2px,#b5564f 142.8px,#944561 147.5px,#683786 150.2px,#633582 151.2px,#693786 152.2px,#954561 155px,#b45650 159.5px,#d9643b 172.2px,#e56a32 180.5px,#eb7a36 216.2px,#ee8239 256.2px,#ed7f38 289.2px,#e97132 317px,#e56a32 324.2px,#d4623d 328.8px,#c25b47 331.5px,#b35551 333px,#97475f 334.5px,#7f3e77 335.2px,#743a7e 335.8px,#7d3d78 336.2px,#964660 337px,#b8574d 338.8px,#dc653a 342.5px,#e56a32 344.5px,#f08a3a 360.8px,#f59a3d 378.8px,#f5ad55 397.5px,#f5bb68 407.5px,#f6ca7c 415px,#f7d08a 418px,#f9dcab 421.8px,#fbecd6 425.8px,#ffffff 428.5px,#ffffff 432.5px,#fcefde 434.5px,#fae2bc 437.8px,#f9d89f 441.2px,#f7d08a 444.8px,#f6ca7c 450.2px,#f5be6c 466.5px,#f5b762 489.2px,#f5b25c 521px,#f5b15a 654.8px)"></i>
<i style="left:647px;width:1px;background:linear-gradient(#f2913b 0px,#ef8739 54.2px,#e56a32 120.2px,#da643b 128px,#b45650 140.8px,#944562 145.5px,#6a3784 148px,#633582 149.2px,#6a3785 150.2px,#934562 152.8px,#b45650 157.5px,#da643b 170.5px,#e56a32 178.5px,#eb7a36 214.5px,#ee8239 255px,#ed7f38 288.8px,#e97132 316.8px,#e56a32 324px,#d5623d 328.5px,#b45650 332.8px,#99485e 334.2px,#944562 334.5px,#7a3c7a 335.2px,#743a7e 335.8px,#823f74 336.2px,#944561 336.8px,#b7574e 338.5px,#db643b 342.2px,#e56a32 344.5px,#f08a3a 360.8px,#f59a3d 379px,#f5ad55 398px,#f5bb68 408px,#f6ca7c 415.5px,#f7d089 418.5px,#f9dcac 422.5px,#fcecd6 426.5px,#ffffff 429.2px,#fffefd 433.5px,#fcf0e0 435.2px,#fae1bc 438.8px,#f9d89f 442.2px,#f7d08a 446px,#f6ca7c 451.5px,#f5be6d 467.5px,#f5b762 490px,#f5b35c 521.8px,#f5b15a 654.8px)"></i>
<i style="left:648px;width:1px;background:linear-gradient(#f2913b 0px,#ef8639 53.2px,#e56a32 118px,#da643b 125.8px,#b5564f 138.5px,#954561 143.2px,#683786 146px,#623581 147px,#683786 148px,#944561 150.8px,#b55650 155.5px,#da643b 168.5px,#e56a32 176.5px,#eb7a36 212.8px,#ee8339 254px,#ed7f38 288.2px,#e97132 316.5px,#e56a32 324px,#d5623d 328.2px,#b5564f 332.5px,#964660 334.2px,#7d3d78 335px,#743a7e 335.5px,#7f3e77 336px,#97475f 336.8px,#b5564f 338.2px,#dc653a 342.2px,#e56a32 344.2px,#f08a3a 360.8px,#f59a3d 379px,#f5ad55 398.2px,#f5bb68 408.5px,#f6ca7c 416px,#f7d08a 419.2px,#f9dcad 423.2px,#fcedd9 427.5px,#ffffff 430px,#ffffff 434.2px,#fcefde 436.2px,#fae2bd 439.5px,#f9d8a0 443.2px,#f7d08a 447px,#f6ca7c 452.8px,#f5bf6d 468.2px,#f5b763 490.2px,#f5b35d 522px,#f5b15b 654.8px)"></i>
<i style="left:649px;width:1px;background:linear-gradient(#f2913b 0px,#ef8639 52.5px,#e56a32 116px,#da643b 123.8px,#b45650 136.5px,#944562 141.2px,#6b3784 143.8px,#633582 145px,#6a3785 146px,#934462 148.5px,#b45650 153.2px,#da643b 166.2px,#e56a32 174.5px,#eb7a37 211.2px,#ee8339 253.2px,#ed7f38 288px,#e97132 316.5px,#e56a32 323.8px,#d4623d 328.2px,#c25b47 331px,#b35650 332.5px,#98475f 334px,#924463 334.2px,#813f76 334.8px,#743a7e 335.2px,#7b3c79 335.8px,#8d4267 336.2px,#9b485d 336.8px,#b7574e 338.2px,#db643b 342px,#e56a32 344.2px,#f08a3a 360.8px,#f59a3d 379.2px,#f5ad55 398.5px,#f5bb68 408.8px,#f6ca7c 416.5px,#f7d089 419.8px,#f9dcab 423.8px,#fcedd9 428.2px,#ffffff 430.8px,#ffffff 435px,#fcf0e0 437px,#fae2bd 440.5px,#f9d8a0 444.2px,#f7d08a 448px,#f6ca7c 454px,#f6bf6e 469.2px,#f5b863 491px,#f5b35d 522.8px,#f5b15b 654.8px)"></i>
<i style="left:650px;width:1px;background:linear-gradient(#f2903b 0px,#ef8539 51.5px,#e56a32 113.8px,#da643b 121.5px,#b55650 134.2px,#944561 139px,#683786 141.8px,#623581 142.8px,#683786 143.8px,#944561 146.5px,#b55650 151.2px,#da643b 164.2px,#e56a32 172.2px,#eb7a37 209.2px,#ee8339 252px,#ed8038 287.5px,#e97132 316.2px,#e56a32 323.5px,#d5623d 328px,#b45650 332.2px,#954561 334px,#7b3c79 334.8px,#743a7e 335.2px,#813e76 335.8px,#934462 336.2px,#99475e 336.5px,#b6564f 338px,#dc653a 342px,#e56a32 344px,#f08a3a 360.8px,#f59a3d 379.2px,#f5ad55 398.8px,#f5bb68 409.2px,#f6ca7c 417.2px,#f7d08a 420.5px,#f9dcac 424.5px,#fcecd6 428.8px,#ffffff 431.8px,#ffffff 436px,#fcf0df 438px,#fae2bd 441.5px,#f9d8a0 445.2px,#f7d08a 449.2px,#f6ca7c 455.2px,#f6c06e 470px,#f5b864 491.2px,#f5b45d 523.2px,#f5b25b 654.8px)"></i>
<i style="left:651px;width:1px;background:linear-gradient(#f2903b 0px,#ee8539 50.5px,#e56a32 111.5px,#da643b 119.2px,#b5564f 132px,#954561 136.8px,#693785 139.5px,#623581 140.5px,#6b3784 141.8px,#934562 144.2px,#b45650 149px,#da643b 162px,#e56a32 170.2px,#eb7b37 207.8px,#ee8339 251px,#ed8038 287px,#e97132 316px,#e56a32 323.5px,#d5623d 327.8px,#b5564f 332px,#964660 333.8px,#7e3e77 334.5px,#733a7e 335px,#7d3d78 335.5px,#974660 336.2px,#b8574d 338px,#db653a 341.8px,#e56a32 344px,#f08a3a 360.8px,#f59a3d 379.2px,#f5ad55 399.2px,#f5bb68 409.8px,#f6ca7c 417.8px,#f7d08a 421px,#f9dcac 425.2px,#fcecd6 429.5px,#ffffff 432.5px,#ffffff 436.8px,#fcefde 439px,#fae2bd 442.5px,#f9d8a0 446.2px,#f7d08a 450.2px,#f6ca7c 456.5px,#f6c06f 471px,#f5b864 492px,#f5b45e 523.8px,#f5b25b 654.8px)"></i>
<i style="left:652px;width:1px;background:linear-gradient(#f2903b 0px,#ee8439 49.2px,#e56a32 109.2px,#d9643b 117.2px,#b45650 130px,#934562 134.8px,#6a3784 137.2px,#633582 138.5px,#6a3785 139.5px,#803e76 140.8px,#954561 142.2px,#b5564f 147px,#db643b 160.2px,#e56a32 168.2px,#eb7b37 206px,#ee8439 249.8px,#ed8038 286.5px,#e97232 315.8px,#e56a32 323.2px,#d6623d 327.5px,#c45c46 330.2px,#b35650 332px,#98475e 333.5px,#934463 333.8px,#813f75 334.2px,#743a7e 334.8px,#7a3c7a 335.2px,#944561 336px,#9a485d 336.2px,#b7574e 337.8px,#dc653a 341.8px,#e56a32 343.8px,#f08a3a 360.5px,#f59a3d 379.5px,#f5ad55 399.5px,#f5bb68 410.2px,#f6ca7c 418.2px,#f7d089 421.5px,#f9dcab 425.8px,#fcedd9 430.5px,#ffffff 433.2px,#ffffff 437.8px,#fcf0e0 439.8px,#fae2bc 443.5px,#f9d89f 447.5px,#f7d08a 451.5px,#f6ca7c 457.8px,#f6c06f 471.8px,#f5b965 492.8px,#f5b45e 525px,#f5b25b 654.8px)"></i>
<i style="left:653px;width:1px;background:linear-gradient(#f28f3b 0px,#ee8439 48px,#e56a32 107px,#d9643b 115px,#b45650 127.8px,#934562 132.5px,#6b3784 135px,#623581 136.2px,#693785 137.2px,#954561 140px,#b55650 144.8px,#da643b 157.8px,#e56a32 166px,#eb7b37 204.2px,#ee8439 248.8px,#ed8038 286px,#e97232 315.5px,#e56a32 323px,#d5623d 327.5px,#b45650 331.8px,#954561 333.5px,#7b3d79 334.2px,#733a7e 334.8px,#803e76 335.2px,#924463 335.8px,#98475f 336px,#b5564f 337.5px,#db653a 341.5px,#e56a32 343.5px,#f08a3a 360.5px,#f59a3d 379.5px,#f5ad55 399.8px,#f5bb68 410.8px,#f6ca7c 418.8px,#f7d08a 422.2px,#f9dcab 426.5px,#fcecd6 431px,#fcf0e0 432px,#ffffff 434px,#ffffff 434.2px,#fffefe 438.8px,#fcf0df 440.8px,#fae2bc 444.5px,#f9d8a0 448.5px,#f7d08a 452.5px,#f6ca7c 459px,#f6c170 472.8px,#f5b965 494.5px,#f5b45e 528.8px,#f5b25b 654.8px)"></i>
<i style="left:654px;width:1px;background:linear-gradient(#f28f3b 0px,#ee8439 46.8px,#e56a32 104.8px,#d9643b 112.8px,#b45650 125.5px,#934562 130.2px,#6b3784 132.8px,#623581 134px,#693785 135px,#954561 137.8px,#b45650 142.5px,#da643b 155.5px,#e56a32 163.8px,#eb7b37 202.2px,#ee8439 247.8px,#ed8039 285.5px,#e97132 315.5px,#e56a32 323px,#d5623d 327.2px,#b5564f 331.5px,#964660 333.2px,#7e3e77 334px,#733a7e 334.5px,#7c3d78 335px,#964660 335.8px,#b7574e 337.5px,#da643b 341.2px,#e56a32 343.5px,#f08a3a 360.5px,#f59a3d 379.8px,#f5ad55 400px,#f5bb68 411px,#f6ca7c 419.5px,#f7d089 422.8px,#f9dcac 427.2px,#fcedd8 432px,#ffffff 435px,#ffffff 439.5px,#fcf0df 441.8px,#fae2bd 445.5px,#f9d8a0 449.5px,#f7d08a 453.8px,#f6ca7c 460.2px,#f6c170 473.8px,#f5b965 496.5px,#f5b45e 532.8px,#f5b25c 654.8px)"></i>
<i style="left:655px;width:1px;background:linear-gradient(#f18e3b 0px,#ee8339 45.5px,#e56a32 102.2px,#da643b 110px,#b5564f 123px,#934562 128px,#6a3784 130.5px,#623581 131.8px,#693785 132.8px,#954561 135.5px,#b45650 140.2px,#da643b 153.5px,#e56a32 161.8px,#eb7b37 200.5px,#ee8439 246.5px,#ed8139 285px,#e97232 315.2px,#e56a32 322.8px,#d6623d 327px,#c45c46 329.8px,#b35650 331.5px,#98475f 333px,#924463 333.2px,#813f75 333.8px,#743a7e 334.2px,#7a3c7a 334.8px,#944561 335.5px,#9a485d 335.8px,#b6574e 337.2px,#dc653a 341.2px,#e56a32 343.2px,#f08a3a 360.5px,#f59a3d 379.8px,#f5ad55 400.5px,#f5bb68 411.5px,#f6ca7c 420px,#f7d08a 423.5px,#f9dcac 428px,#fceeda 433px,#ffffff 435.8px,#ffffff 440.5px,#fcefde 442.8px,#fae2bd 446.5px,#f9d89f 450.8px,#f7d08a 455px,#f6ca7c 461.8px,#f6c271 474.5px,#f5b966 497px,#f5b45e 533px,#f5b25c 654.8px)"></i>
<i style="left:656px;width:1px;background:linear-gradient(#f18e3b 0px,#ee8339 44.2px,#e56a32 100px,#da643b 107.8px,#b55650 120.8px,#954561 125.5px,#6a3785 128.2px,#623581 129.2px,#6a3785 130.5px,#954561 133.2px,#b55650 138px,#da643b 151.2px,#e56a32 159.5px,#eb7b37 198.8px,#ee8539 245.5px,#ed8139 284.5px,#e97232 315px,#e56a32 322.5px,#d4623d 327px,#b45650 331.2px,#944561 333px,#7b3c79 333.8px,#733a7e 334.2px,#7f3e77 334.8px,#914464 335.2px,#98475f 335.5px,#b8574d 337.2px,#db643b 341px,#e56a32 343.2px,#f08a3a 360.5px,#f59a3d 379.8px,#f5ad55 400.8px,#f5bb68 412px,#f6ca7c 420.5px,#f7d089 424px,#f9dcab 428.5px,#fcedd8 433.5px,#ffffff 436.8px,#fffefe 441.5px,#fcf0e1 443.5px,#fae2bd 447.5px,#f9d8a0 451.8px,#f7d08b 456px,#f6ca7c 463px,#f6c575 470.8px,#f5bb68 493.2px,#f5b55f 529px,#f5b25c 654.8px)"></i>
<i style="left:657px;width:1px;background:linear-gradient(#f18e3b 0px,#ee8239 43px,#e56a32 97.8px,#da643b 105.5px,#b45650 118.5px,#944561 123.2px,#683786 126px,#623581 127px,#6b3784 128.2px,#934562 130.8px,#b55650 135.8px,#da643b 149px,#e56a32 157.2px,#eb7b37 196.8px,#ee8539 244.2px,#ed8139 284px,#e97232 314.8px,#e56a32 322.2px,#d5623d 326.8px,#b5564f 331px,#964660 332.8px,#7e3d78 333.5px,#73397f 334px,#7c3d78 334.5px,#964660 335.2px,#b7574e 337px,#dc653a 341px,#e56a32 343px,#f08a3a 360.2px,#f59a3d 380px,#f5ad55 401px,#f5bb68 412.5px,#f6ca7c 421.2px,#f7d08a 424.8px,#faddad 429.5px,#fcedd9 434.5px,#ffffff 437.5px,#ffffff 442.2px,#fcf0e0 444.5px,#fae1bb 448.8px,#f9d89f 453px,#f7d08a 457.2px,#f6ca7c 464.2px,#f6c576 471.5px,#f5bb68 494.8px,#f5b560 529.8px,#f5b25c 654.8px)"></i>
<i style="left:658px;width:1px;background:linear-gradient(#f18d3b 0px,#ed8239 42px,#e46933 96px,#d8633c 103.8px,#b45650 116.2px,#934562 121px,#6b3784 123.5px,#623581 124.8px,#683786 125.8px,#944562 128.5px,#b5564f 133.5px,#da643b 146.8px,#e56a32 155px,#ec7b37 195px,#ee8539 243px,#ed8139 283.2px,#e97232 314.5px,#e56a32 322.2px,#d5623d 326.5px,#c15a48 329.5px,#b35551 331px,#97475f 332.5px,#914464 332.8px,#803e76 333.2px,#733a7e 333.8px,#7a3c7a 334.2px,#944561 335px,#9a485d 335.2px,#b9574c 337px,#db653a 340.8px,#e56a32 343px,#f08a3a 360.2px,#f59a3d 380px,#f5ad55 401.2px,#f5bb68 413px,#f6ca7c 421.8px,#f7d08a 425.5px,#faddad 430.2px,#fcedd9 435.2px,#ffffff 438.5px,#ffffff 443.2px,#fcf0e0 445.5px,#fae1bc 449.8px,#f9d8a0 454px,#f7d08a 458.5px,#f6ca7c 465.5px,#f6c576 472.5px,#f5bb68 496.8px,#f5b660 530.5px,#f5b35c 654.8px)"></i>
<i style="left:659px;width:1px;background:linear-gradient(#f18d3a 0px,#ed8139 41px,#e97232 77.2px,#e36933 94px,#d8633c 101.5px,#b45650 113.8px,#944561 118.5px,#693785 121.2px,#623581 122.2px,#6a3785 123.5px,#954561 126.2px,#b45650 131px,#da643b 144.2px,#e56a32 152.8px,#ec7b37 193px,#ef8539 241.8px,#ed8139 282.8px,#e97232 314.2px,#e56a32 322px,#d6623d 326.2px,#c45c46 329px,#b45650 330.8px,#944562 332.5px,#7a3c7a 333.2px,#73397e 333.8px,#803e76 334.2px,#924463 334.8px,#98475e 335px,#b5564f 336.5px,#da643b 340.5px,#e56a32 342.8px,#f08a3a 360.2px,#f59a3d 380px,#f5ad55 401.8px,#f5bb69 413.5px,#f6ca7c 422.2px,#f7d08a 426px,#f9dcac 430.8px,#fcedd8 436px,#ffffff 439.2px,#ffffff 444.2px,#fcf0e0 446.5px,#fae2bc 450.8px,#f9d8a1 455px,#f7d08b 459.5px,#f6ca7c 467px,#f6c676 473.5px,#f5bb68 499px,#f5b661 531.5px,#f5b35c 654.8px)"></i>
<i style="left:660px;width:1px;background:linear-gradient(#f18c3a 0px,#ed8139 40.2px,#e97232 74.8px,#e36934 92.2px,#d8633c 99.2px,#b55650 111.2px,#934562 116.2px,#6b3784 118.8px,#623581 120px,#683786 121px,#944562 123.8px,#b5564f 128.8px,#da643b 142.2px,#e56a32 150.5px,#ed7f38 201.5px,#ef8639 240.8px,#ed8139 282.5px,#e97232 314.2px,#e56a32 321.8px,#d4623d 326.2px,#b45650 330.5px,#954661 332.2px,#7c3d79 333px,#73397f 333.5px,#7d3d78 334px,#964660 334.8px,#b7574e 336.5px,#dc653a 340.5px,#e56a32 342.5px,#f08a3a 360.2px,#f59a3d 380.2px,#f5ad55 402px,#f5bb68 413.8px,#f6ca7c 423px,#f7d08a 426.8px,#f9dcac 431.5px,#fceeda 437px,#ffffff 440.2px,#fffffe 445.2px,#fcf0e0 447.5px,#fae2bd 451.8px,#f9daa4 455.5px,#f7d18c 460.5px,#f6ca7c 468.2px,#f6c677 474.2px,#f5bb68 500px,#f5b661 532px,#f5b35d 654.8px)"></i>
<i style="left:661px;width:1px;background:linear-gradient(#f18c3a 0px,#ec7d38 46.5px,#e97232 72px,#e26835 90.2px,#d6633c 97.2px,#b45650 109px,#944562 113.8px,#683786 116.5px,#623581 117.5px,#6b3784 118.8px,#934463 121.2px,#b45650 126.2px,#da643b 139.5px,#e56a32 148px,#ed7f38 199.8px,#ef8639 239.5px,#ed8239 282px,#e97232 314px,#e56a32 321.5px,#d5623d 326px,#b5564f 330.2px,#974660 332px,#7f3e77 332.8px,#73397f 333.2px,#7b3c7a 333.8px,#954561 334.5px,#b6574e 336.2px,#db653a 340.2px,#e56a32 342.5px,#f08a3a 360px,#f59a3d 380.2px,#f5ad55 402.2px,#f5bb68 414.2px,#f6ca7c 423.5px,#f7d089 427.2px,#f9dcac 432.2px,#fcedd9 437.8px,#ffffff 441px,#fffefe 446.2px,#fcf0e0 448.5px,#fae2bd 452.8px,#f9daa5 456.5px,#f7d18d 461.5px,#f6cb7e 468.8px,#f6c677 475.2px,#f5bc69 501.2px,#f5b661 533px,#f5b35d 654.8px)"></i>
<i style="left:662px;width:1px;background:linear-gradient(#f08b3a 0px,#e97232 69.5px,#e16835 88.5px,#cb5f42 99.2px,#b45650 106.5px,#944561 111.2px,#693785 114px,#623581 115px,#6a3785 116.2px,#944561 119px,#b45650 123.8px,#da643b 137.2px,#e56a32 145.8px,#ed7f38 198px,#ef8639 238.2px,#ed8239 281.2px,#e97232 313.5px,#e56a32 321.2px,#d7633c 325.5px,#c35c46 328.5px,#b35551 330.2px,#98475f 331.8px,#783b7b 332.8px,#733a7e 333.2px,#813f75 333.8px,#934562 334.2px,#b5564f 336px,#da643b 340px,#e56a32 342.2px,#f08a3a 360px,#f59a3d 380.2px,#f5ad55 402.5px,#f5bb68 414.8px,#f6ca7c 424px,#f7d08a 428px,#f9dcac 433px,#fceedb 438.8px,#ffffff 442px,#ffffff 447px,#fcf0e0 449.5px,#fae2be 453.8px,#f9daa6 457.5px,#f7d28e 462.5px,#f6cb7f 469.2px,#f6c778 476.2px,#f5bc69 502.2px,#f5b762 533.8px,#f5b35d 654.8px)"></i>
<i style="left:663px;width:1px;background:linear-gradient(#f08b3a 0px,#e97232 67px,#e56a32 82.5px,#e16836 86.5px,#cb5e42 97px,#b45650 104px,#944561 108.8px,#693785 111.5px,#623581 112.8px,#693785 113.8px,#944561 116.5px,#b5564f 121.5px,#da643b 135px,#e56a32 143.2px,#ed7f38 196px,#ef8639 237px,#ee8239 280.8px,#e97232 313.5px,#e56a32 321.2px,#d5623d 325.5px,#c45c46 328.2px,#b45650 330px,#944562 331.8px,#7a3c7a 332.5px,#73397f 333px,#7f3e77 333.5px,#97475f 334.2px,#b8574e 336px,#dc653a 340px,#e56a32 342.2px,#f08a3a 360px,#f59a3d 380.5px,#f5ad55 403px,#f5bb68 415.2px,#f6ca7c 424.8px,#f7d089 428.5px,#f9dcab 433.5px,#fceeda 439.5px,#ffffff 442.8px,#ffffff 448px,#fcf0e0 450.5px,#fae3bf 454.8px,#f9daa6 458.8px,#f7d28e 463.8px,#f6cc80 470.2px,#f6c778 477.2px,#f5bc6a 503.2px,#f5b762 534.8px,#f5b35d 654.8px)"></i>
<i style="left:664px;width:1px;background:linear-gradient(#f08a3a 0px,#e97232 64.5px,#e56a32 80px,#e06737 84.5px,#ca5e43 94.8px,#b45650 101.5px,#944561 106.2px,#693785 109px,#623581 110.2px,#693785 111.2px,#944561 114px,#b5564f 119px,#da643b 132.5px,#e56a32 141px,#ed7f38 194.2px,#ef8639 235.8px,#ee8239 280.2px,#e97232 313.2px,#e56a32 321px,#d6623d 325.2px,#b45650 329.8px,#954661 331.5px,#7c3d79 332.2px,#72397f 332.8px,#7d3d78 333.2px,#964660 334px,#b7574e 335.8px,#db653a 339.8px,#e56a32 342px,#f08a3a 359.8px,#f59a3d 380.5px,#f5ad55 403.2px,#f5bb68 415.8px,#f6ca7c 425.2px,#f7d08a 429.2px,#f9dcac 434.5px,#fceedb 440.5px,#ffffff 443.8px,#ffffff 449px,#fcf0e1 451.5px,#fae2be 456px,#f9daa7 459.8px,#f7d290 464.8px,#f6cd82 470.5px,#f6c779 478.2px,#f5bd6a 504.2px,#f5b763 535.5px,#f5b45d 654.8px)"></i>
<i style="left:665px;width:1px;background:linear-gradient(#f08a3a 0px,#e97232 62px,#e56a32 77.5px,#df6738 82.8px,#c95e43 92.5px,#b45650 99px,#944561 103.8px,#693785 106.5px,#623581 107.5px,#693785 108.8px,#944561 111.5px,#b5564f 116.5px,#da643b 130px,#e56a32 138.5px,#ed7f38 192.2px,#ef8739 234.5px,#ee8239 279.8px,#e97232 313px,#e56a32 320.8px,#d5623d 325.2px,#b5564f 329.5px,#964660 331.2px,#7e3e77 332px,#72397f 332.5px,#7a3c7a 333px,#954561 333.8px,#b6564f 335.5px,#da643b 339.5px,#e56a32 341.8px,#f08a3a 359.8px,#f59a3d 380.5px,#f5ad55 403.5px,#f5bb68 416.2px,#f6ca7c 426px,#f7d08a 430px,#f9dcac 435.2px,#fceeda 441.2px,#ffffff 444.8px,#ffffff 450px,#fcf0df 452.8px,#fae3bf 457px,#f9daa6 461px,#f8d391 465.8px,#f7cd84 470.8px,#f6c879 479px,#f5bd6b 505.2px,#f5b863 536.2px,#f5b45e 654.8px)"></i>
<i style="left:666px;width:1px;background:linear-gradient(#f0893a 0px,#e97232 59.5px,#e56a32 75px,#de6638 80.8px,#c85e44 90.2px,#b45650 96.5px,#944562 101.2px,#683786 104px,#623581 105px,#6a3785 106.2px,#944561 109px,#b5564f 114px,#da643b 127.5px,#e56a32 136px,#ed8038 190.5px,#ef873a 233.2px,#ee8339 279px,#e97232 312.8px,#e56a32 320.5px,#d5623d 325px,#c35b47 327.8px,#b25551 329.5px,#97475f 331px,#914464 331.2px,#803e76 331.8px,#73397f 332.2px,#793b7b 332.8px,#934562 333.5px,#99475e 333.8px,#b8574d 335.5px,#dc653a 339.5px,#e56a32 341.8px,#f08a3a 359.8px,#f59a3d 380.8px,#f5ad55 403.8px,#f5bb68 416.5px,#f6ca7c 426.5px,#f7d089 430.5px,#f9dcab 435.8px,#fceedc 442.2px,#ffffff 445.5px,#ffffff 451px,#fcf0df 453.8px,#fae3c0 458px,#f9dba7 462px,#f8d392 466.8px,#f7ce86 471.2px,#f6c87a 480px,#f5bd6b 506.2px,#f5b864 537px,#f5b45e 654.8px)"></i>
<i style="left:667px;width:1px;background:linear-gradient(#ef883a 0px,#e97232 56.8px,#e56a32 72.2px,#dd6639 78.5px,#c75d44 88px,#b35650 94px,#934462 98.8px,#683786 101.5px,#623581 102.5px,#683786 103.5px,#954561 106.5px,#b45650 111.2px,#d9643b 124.8px,#e56a32 133.5px,#ed8038 188.5px,#ef873a 232px,#ee8339 278.5px,#e97232 312.5px,#e56a32 320.2px,#d5623d 324.8px,#c35c46 327.5px,#b35551 329.2px,#98475e 330.8px,#934562 331px,#793c7a 331.8px,#72397f 332.2px,#7f3e77 332.8px,#97475f 333.5px,#b8574e 335.2px,#db653a 339.2px,#e56a32 341.5px,#f08a3a 359.5px,#f59a3d 380.8px,#f5ad55 404px,#f5bb68 417px,#f6ca7c 427px,#f7d08a 431.2px,#f9dcac 436.8px,#fcefdd 443.2px,#ffffff 446.5px,#ffffff 452px,#fcf0e0 454.8px,#fae3c1 459px,#f9dba9 463px,#f8d393 467.8px,#f7cf87 471.8px,#f6c97a 481px,#f5be6c 507.2px,#f5b864 537.8px,#f5b45e 654.8px)"></i>
<i style="left:668px;width:1px;background:linear-gradient(#ef873a 0px,#e97232 54px,#e56a32 69.5px,#dd653a 76.5px,#c55c46 86.2px,#b45650 91.2px,#944561 96px,#693785 98.8px,#623581 100px,#693786 101px,#944562 103.8px,#b45650 108.8px,#da643b 122.5px,#e56a32 131px,#ed8038 186.5px,#ef873a 230.8px,#ee8339 278px,#e97232 312.2px,#e56a32 320.2px,#d5623d 324.5px,#c45c46 327.2px,#b45650 329px,#944561 330.8px,#7b3c79 331.5px,#72397f 332px,#7d3d78 332.5px,#964660 333.2px,#b7574e 335px,#db643b 339px,#e56a32 341.2px,#f08a3a 359.5px,#f59a3d 380.8px,#f5ad55 404.5px,#f5bb68 417.5px,#f6ca7c 427.8px,#f7d08a 432px,#f9dcac 437.5px,#fcefdd 444.2px,#ffffff 447.5px,#fffefe 453.2px,#fcf0e1 455.8px,#fae3c0 460.2px,#f9dba8 464.2px,#f8d493 469px,#f7cf88 472.5px,#f6c97b 482px,#f5be6c 508.2px,#f5b964 538.8px,#f5b45e 654.8px)"></i>
<i style="left:669px;width:1px;background:linear-gradient(#ef8639 0px,#e56a32 66.8px,#dc653a 74px,#c45c46 84px,#b35551 88.8px,#934462 93.5px,#683786 96.2px,#623581 97.2px,#6b3784 98.5px,#954561 101.2px,#b5564f 106.2px,#da643b 120px,#e56a32 128.5px,#ed8038 184.5px,#ef883a 229.2px,#ee8339 277.2px,#e97232 312px,#e56a32 320px,#d6623d 324.2px,#b45650 328.8px,#954661 330.5px,#7c3d78 331.2px,#72397f 331.8px,#7c3d79 332.2px,#954661 333px,#b6564f 334.8px,#da643b 338.8px,#e56a32 341px,#f08a3a 359.5px,#f59a3d 380.8px,#f5ad55 404.8px,#f5bb68 418px,#f6ca7c 428.2px,#f7d08a 432.8px,#fcefdc 445px,#ffffff 448.5px,#fffffe 454.2px,#fcf0df 457px,#fae4c1 461.2px,#f9dbaa 465.2px,#f8d495 470px,#f7d08a 473.2px,#f6c97b 483px,#f5bf6d 509.2px,#f5b965 539.5px,#f5b45e 654.8px)"></i>
<i style="left:670px;width:1px;background:linear-gradient(#ef8539 0px,#e56a32 64.2px,#dc653a 71.5px,#c45c46 81.2px,#b35650 86px,#944562 90.8px,#693786 93.5px,#623581 94.5px,#693785 95.8px,#944562 98.5px,#b45650 103.5px,#da643b 117.2px,#e56a32 125.8px,#ed8039 182.5px,#ef883a 228.2px,#ee8339 277px,#e97232 312px,#e56a32 319.8px,#d4623d 324.2px,#b55650 328.5px,#964660 330.2px,#7e3d78 331px,#72397f 331.5px,#7a3c7a 332px,#944561 332.8px,#99485d 333px,#b9574d 334.8px,#dc653a 338.8px,#e56a32 341px,#f08a3a 359.2px,#f59a3d 381px,#f5ad55 405px,#f5bb68 418.5px,#f6ca7c 429px,#f7d089 433.2px,#f9dcac 439px,#fceedb 445.8px,#ffffff 449.5px,#ffffff 455.2px,#fcf0e0 458px,#fbe4c2 462.2px,#f9dcab 466.2px,#f8d596 471px,#f7d08a 474.5px,#f6ca7c 484px,#f5bf6d 510.5px,#f5b965 540.5px,#f5b55f 654.8px)"></i>
<i style="left:671px;width:1px;background:linear-gradient(#ee8439 0px,#e56a32 61.5px,#dc653a 68.8px,#c45c46 78.5px,#b45650 83.2px,#944561 88px,#6a3785 90.8px,#623581 92px,#683786 93px,#934562 95.8px,#b45650 100.8px,#da643b 114.5px,#e56a32 123.2px,#ed8039 180.5px,#ef883a 226.8px,#ee8339 276.5px,#e97232 311.8px,#e56a32 319.5px,#d4623d 324px,#b5564f 328.2px,#97465f 330px,#7f3e77 330.8px,#72397f 331.2px,#793b7b 331.8px,#934562 332.5px,#99475e 332.8px,#b8574d 334.5px,#db653a 338.5px,#e56a32 340.8px,#f08a3a 359.2px,#f59a3d 381px,#f5ad55 405.2px,#f5bb68 419px,#f6ca7c 429.5px,#f7d08a 434px,#fceedc 446.8px,#ffffff 450.5px,#ffffff 456.2px,#fcf0df 459.2px,#fae4c2 463.5px,#f8d596 472.2px,#f7d08a 476px,#f6ca7c 485.5px,#f6bf6e 512px,#f5b966 541.8px,#f5b55f 654.8px)"></i>
<i style="left:672px;width:1px;background:linear-gradient(#ee8339 0px,#e56a32 58.8px,#dc653a 66px,#c45c46 75.8px,#b45650 80.5px,#944561 85.2px,#6a3784 88px,#623581 89.2px,#683786 90.2px,#954561 93.2px,#b5564f 98.2px,#da643b 112px,#e56a32 120.5px,#ed8139 178.5px,#f0883a 225.5px,#ee8439 276px,#e97232 311.5px,#e56a32 319.2px,#d6633c 323.5px,#b5564f 328px,#98475f 329.8px,#783b7b 330.8px,#72397f 331.2px,#803e76 331.8px,#914464 332.2px,#98475f 332.5px,#b7574e 334.2px,#db643b 338.2px,#e56a32 340.5px,#f08a3a 359.2px,#f59a3d 381px,#f5ad55 405.5px,#f5bb68 419.5px,#f6ca7c 430.2px,#f7d08a 434.8px,#fcefdd 447.8px,#ffffff 451.5px,#ffffff 457.2px,#fcf0e0 460.2px,#fbe4c3 464.5px,#f9dcab 468.8px,#f8d597 473.5px,#f7d08a 477.5px,#f6ca7c 487px,#f6bf6e 513.5px,#f5ba66 543.2px,#f5b55f 654.8px)"></i>
<i style="left:673px;width:1px;background:linear-gradient(#ee8239 0px,#e56a32 55.8px,#dc653a 63.2px,#c45c46 73px,#b45650 77.8px,#944561 82.5px,#6a3784 85.2px,#623581 86.5px,#683786 87.5px,#954561 90.5px,#b5564f 95.5px,#da643b 109.2px,#e56a32 118px,#ed8139 176.5px,#f0893a 224.2px,#ee8439 275.2px,#e97232 311.2px,#e56a32 319px,#d5623d 323.5px,#c35b47 326.2px,#b35551 328px,#98475e 329.5px,#934562 329.8px,#793c7a 330.5px,#72397f 331px,#7e3e77 331.5px,#97465f 332.2px,#b7574e 334px,#da643b 338px,#e56a32 340.5px,#f08a3a 359.2px,#f59a3d 381px,#f5ad55 406px,#f5bb68 420px,#f6ca7c 430.8px,#f7d08a 435.5px,#fcf0df 449px,#ffffff 452.2px,#fffffe 458.5px,#fcf0df 461.5px,#fbe4c3 465.8px,#f9dcab 470px,#f8d596 475px,#f7d08a 479px,#f6ca7c 488.8px,#f6bf6e 515.2px,#f5ba66 544.8px,#f5b560 654.8px)"></i>
<i style="left:674px;width:1px;background:linear-gradient(#ed8139 0px,#e56a32 53px,#dc653a 60.5px,#c45c46 70.2px,#b35650 75px,#944561 79.8px,#6a3785 82.5px,#623581 83.8px,#683786 84.8px,#934463 87.5px,#b5564f 92.8px,#da643b 106.5px,#e56a32 115.2px,#ed8139 174.5px,#f0893a 222.8px,#ee8439 274.8px,#e97232 311px,#e56a32 318.8px,#d5623d 323.2px,#c35c46 326px,#b35650 327.8px,#944562 329.5px,#7a3c7a 330.2px,#72397f 330.8px,#7d3d78 331.2px,#964660 332px,#b6574e 333.8px,#dc653a 338px,#e56a32 340.2px,#f08a3a 359px,#f59a3d 381.2px,#f5ad55 406.2px,#f5bb68 420.2px,#f6ca7c 431.5px,#f7d089 436px,#f9dcab 442px,#fcf0df 450px,#ffffff 453.2px,#ffffff 459.5px,#fcf0e0 462.5px,#fbe4c3 467px,#f9dcac 471.2px,#f8d596 476.5px,#f7d08a 480.5px,#f6ca7c 490.5px,#f6c06e 517px,#f5ba67 546.2px,#f5b560 654.8px)"></i>
<i style="left:675px;width:1px;background:linear-gradient(#ed8039 0px,#e56a32 50.2px,#dc653a 57.5px,#c45c46 67.5px,#b35650 72.2px,#944562 77px,#693785 79.8px,#623581 81px,#683786 82px,#934562 84.8px,#b5564f 90px,#da643b 103.8px,#e56a32 112.5px,#ed8139 172.2px,#f0893a 221.2px,#ee8439 274px,#e97232 310.8px,#e56a32 318.5px,#d5623d 323px,#b35650 327.5px,#944561 329.2px,#7b3c79 330px,#72397f 330.5px,#7c3d79 331px,#954661 331.8px,#b6564f 333.5px,#dc653a 337.8px,#e56a32 340px,#f08a3a 359px,#f59a3d 381.2px,#f5ad55 406.5px,#f5bb68 420.8px,#f6ca7c 432px,#f7d08a 436.8px,#fcefde 450.8px,#ffffff 454.5px,#ffffff 460.5px,#fcf0df 463.8px,#fbe4c3 468.2px,#f9dcab 472.8px,#f8d597 477.8px,#f7d08a 482px,#f6ca7c 492px,#f6c06f 518.5px,#f5ba67 547.5px,#f5b560 654.8px)"></i>
</div>
<svg width="1025" height="1841" viewBox="0 0 1025 1841">
<text x="384.40" y="38.90" font-size="53.3" fill="#262223" stroke="#262223" text-anchor="start" >Reflectivity</text>
<text x="850.00" y="37.60" font-size="53.8" fill="#262223" stroke="#262223" text-anchor="start" >(dB)</text>
<text transform="translate(38.5,620.2) rotate(-90)" font-size="53.3" fill="#262223" stroke="#262223">Frequency (GHz)</text>
<line x1="146.00" y1="84.00" x2="164.50" y2="84.00" stroke="#211e1f" stroke-width="2" />
<text x="62.70" y="102.60" font-size="49.3" fill="#262223" stroke="#262223" text-anchor="start" >9.3</text>
<line x1="146.00" y1="302.70" x2="164.50" y2="302.70" stroke="#211e1f" stroke-width="2" />
<text x="62.70" y="321.30" font-size="49.3" fill="#262223" stroke="#262223" text-anchor="start" >9.2</text>
<line x1="146.00" y1="521.90" x2="164.50" y2="521.90" stroke="#211e1f" stroke-width="2" />
<text x="62.70" y="540.50" font-size="49.3" fill="#262223" stroke="#262223" text-anchor="start" >9.1</text>
<line x1="146.00" y1="739.00" x2="164.50" y2="739.00" stroke="#211e1f" stroke-width="2" />
<text x="62.70" y="759.20" font-size="49.3" fill="#262223" stroke="#262223" text-anchor="start" >9.0</text>
<line x1="164.40" y1="738.50" x2="164.40" y2="757.00" stroke="#211e1f" stroke-width="1.8" />
<line x1="232.16" y1="738.50" x2="232.16" y2="748.00" stroke="#211e1f" stroke-width="1.6" />
<line x1="271.80" y1="738.50" x2="271.80" y2="748.00" stroke="#211e1f" stroke-width="1.6" />
<line x1="299.92" y1="738.50" x2="299.92" y2="748.00" stroke="#211e1f" stroke-width="1.6" />
<line x1="321.74" y1="738.50" x2="321.74" y2="748.00" stroke="#211e1f" stroke-width="1.6" />
<line x1="339.56" y1="738.50" x2="339.56" y2="748.00" stroke="#211e1f" stroke-width="1.6" />
<line x1="354.63" y1="738.50" x2="354.63" y2="748.00" stroke="#211e1f" stroke-width="1.6" />
<line x1="367.69" y1="738.50" x2="367.69" y2="748.00" stroke="#211e1f" stroke-width="1.6" />
<line x1="379.20" y1="738.50" x2="379.20" y2="748.00" stroke="#211e1f" stroke-width="1.6" />
<text x="134.40" y="814.3" font-size="49.3" fill="#262223" stroke="#262223">10<tspan font-size="28.7" dy="-16.2" dx="-2.2">-5</tspan></text>
<line x1="389.50" y1="738.50" x2="389.50" y2="757.00" stroke="#211e1f" stroke-width="1.8" />
<line x1="457.26" y1="738.50" x2="457.26" y2="748.00" stroke="#211e1f" stroke-width="1.6" />
<line x1="496.90" y1="738.50" x2="496.90" y2="748.00" stroke="#211e1f" stroke-width="1.6" />
<line x1="525.02" y1="738.50" x2="525.02" y2="748.00" stroke="#211e1f" stroke-width="1.6" />
<line x1="546.84" y1="738.50" x2="546.84" y2="748.00" stroke="#211e1f" stroke-width="1.6" />
<line x1="564.66" y1="738.50" x2="564.66" y2="748.00" stroke="#211e1f" stroke-width="1.6" />
<line x1="579.73" y1="738.50" x2="579.73" y2="748.00" stroke="#211e1f" stroke-width="1.6" />
<line x1="592.79" y1="738.50" x2="592.79" y2="748.00" stroke="#211e1f" stroke-width="1.6" />
<line x1="604.30" y1="738.50" x2="604.30" y2="748.00" stroke="#211e1f" stroke-width="1.6" />
<text x="356.70" y="814.3" font-size="49.3" fill="#262223" stroke="#262223">10<tspan font-size="28.7" dy="-16.2" dx="-2.2">-4</tspan></text>
<line x1="614.60" y1="738.50" x2="614.60" y2="757.00" stroke="#211e1f" stroke-width="1.8" />
<line x1="682.36" y1="738.50" x2="682.36" y2="748.00" stroke="#211e1f" stroke-width="1.6" />
<line x1="722.00" y1="738.50" x2="722.00" y2="748.00" stroke="#211e1f" stroke-width="1.6" />
<line x1="750.12" y1="738.50" x2="750.12" y2="748.00" stroke="#211e1f" stroke-width="1.6" />
<line x1="771.94" y1="738.50" x2="771.94" y2="748.00" stroke="#211e1f" stroke-width="1.6" />
<line x1="789.76" y1="738.50" x2="789.76" y2="748.00" stroke="#211e1f" stroke-width="1.6" />
<line x1="804.83" y1="738.50" x2="804.83" y2="748.00" stroke="#211e1f" stroke-width="1.6" />
<line x1="817.89" y1="738.50" x2="817.89" y2="748.00" stroke="#211e1f" stroke-width="1.6" />
<line x1="829.40" y1="738.50" x2="829.40" y2="748.00" stroke="#211e1f" stroke-width="1.6" />
<text x="576.30" y="814.3" font-size="49.3" fill="#262223" stroke="#262223">10<tspan font-size="28.7" dy="-16.2" dx="-2.2">-3</tspan></text>
<line x1="839.70" y1="738.50" x2="839.70" y2="757.00" stroke="#211e1f" stroke-width="1.8" />
<text x="796.50" y="814.3" font-size="49.3" fill="#262223" stroke="#262223">10<tspan font-size="28.7" dy="-16.2" dx="-2.2">-2</tspan></text>
<rect x="164" y="82.9" width="676" height="2.1" fill="#d6d9db"/>
<line x1="391.50" y1="82.70" x2="391.50" y2="739" stroke="#285e36" stroke-width="9" stroke-dasharray="52.7 6.75" stroke-dashoffset="26.40"/>
<line x1="615.10" y1="83.50" x2="615.10" y2="739" stroke="#1f4e7e" stroke-width="9" stroke-dasharray="52.7 6.75" stroke-dashoffset="26.70"/>
<line x1="837.60" y1="84.90" x2="837.60" y2="739" stroke="#7a1f26" stroke-width="9" stroke-dasharray="52.7 6.75" stroke-dashoffset="26.90"/>
<text x="183.60" y="139.00" font-size="54" fill="#262223" stroke="#262223" text-anchor="start" >(a)</text>
<defs><linearGradient id="cbg" x1="0" y1="0" x2="0" y2="1"><stop offset="0.0021" stop-color="#ffffff"/><stop offset="0.0103" stop-color="#fef8f0"/><stop offset="0.0206" stop-color="#fcf0e0"/><stop offset="0.0378" stop-color="#fbe8cc"/><stop offset="0.0522" stop-color="#fae0b8"/><stop offset="0.0674" stop-color="#f9d9a2"/><stop offset="0.0831" stop-color="#f7d08a"/><stop offset="0.0983" stop-color="#f6ca7c"/><stop offset="0.1134" stop-color="#f6c373"/><stop offset="0.1285" stop-color="#f5bb68"/><stop offset="0.1436" stop-color="#f5b45e"/><stop offset="0.1601" stop-color="#f5ad55"/><stop offset="0.1807" stop-color="#f5a74c"/><stop offset="0.1972" stop-color="#f5a044"/><stop offset="0.2123" stop-color="#f59a3d"/><stop offset="0.2288" stop-color="#f4953b"/><stop offset="0.2494" stop-color="#f2903b"/><stop offset="0.2665" stop-color="#f08a3a"/><stop offset="0.2926" stop-color="#ec7d38"/><stop offset="0.3201" stop-color="#e97232"/><stop offset="0.3455" stop-color="#e56a32"/><stop offset="0.3620" stop-color="#dc653a"/><stop offset="0.3764" stop-color="#d0603f"/><stop offset="0.3916" stop-color="#c65d45"/><stop offset="0.4060" stop-color="#bd584a"/><stop offset="0.4204" stop-color="#b45650"/><stop offset="0.4355" stop-color="#a85056"/><stop offset="0.4499" stop-color="#9e4a5a"/><stop offset="0.4644" stop-color="#964660"/><stop offset="0.4795" stop-color="#8e4266"/><stop offset="0.4939" stop-color="#884070"/><stop offset="0.5083" stop-color="#803c74"/><stop offset="0.5234" stop-color="#783878"/><stop offset="0.5379" stop-color="#70367c"/><stop offset="0.5523" stop-color="#6c357a"/><stop offset="0.5674" stop-color="#683476"/><stop offset="0.5818" stop-color="#643272"/><stop offset="0.5962" stop-color="#603070"/><stop offset="0.6182" stop-color="#5c2e6a"/><stop offset="0.6478" stop-color="#562c66"/><stop offset="0.6890" stop-color="#502a60"/><stop offset="0.7370" stop-color="#452450"/><stop offset="0.7693" stop-color="#3e2048"/><stop offset="0.7989" stop-color="#351a40"/><stop offset="0.8298" stop-color="#2e1436"/><stop offset="0.8593" stop-color="#260f2c"/><stop offset="0.8882" stop-color="#1e0a22"/><stop offset="0.9197" stop-color="#150818"/><stop offset="0.9500" stop-color="#0e060f"/><stop offset="0.9795" stop-color="#080408"/><stop offset="1.0000" stop-color="#040203"/></linearGradient></defs>
<rect x="878.00" y="78.20" width="41.80" height="666.80" fill="url(#cbg)" stroke="#211e1f" stroke-width="2.2"/>
<line x1="913.00" y1="308.40" x2="919.00" y2="308.40" stroke="#211e1f" stroke-width="1.8" />
<line x1="913.00" y1="537.40" x2="919.00" y2="537.40" stroke="#211e1f" stroke-width="1.8" />
<line x1="913.00" y1="721.10" x2="919.00" y2="721.10" stroke="#211e1f" stroke-width="1.8" />
<text x="929.10" y="98.40" font-size="49.3" fill="#262223" stroke="#262223" text-anchor="start" >0</text>
<text x="928.40" y="321.60" font-size="49.3" fill="#262223" stroke="#262223" text-anchor="start" >-50</text>
<text x="928.40" y="550.20" font-size="49.3" fill="#262223" stroke="#262223" text-anchor="start" >-100</text>
<text x="928.40" y="752.00" font-size="49.3" fill="#262223" stroke="#262223" text-anchor="start" >-150</text>
<text x="474.3" y="868.6" font-size="51" fill="#000" stroke="#000"><tspan font-style="italic">ε</tspan><tspan font-size="28" dy="16.5" dx="-1">1</tspan><tspan dy="-16.5" dx="6">=</tspan><tspan font-style="italic" dx="-1">μ</tspan><tspan font-size="28" dy="16.5" dx="1">1</tspan></text>
<line x1="105.20" y1="891.00" x2="168.00" y2="891.00" stroke="#000" stroke-width="4.2" />
<circle cx="138" cy="943.2" r="11" fill="none" stroke="#000" stroke-width="5"/>
<text x="190.00" y="903.00" font-size="48.8" fill="#262223" stroke="#262223" text-anchor="start" >Analy.</text>
<text x="191.60" y="961.00" font-size="49.0" fill="#262223" stroke="#262223" text-anchor="start" >Num.</text>
<line x1="405.70" y1="881.90" x2="443.65" y2="932.24" stroke="#285e36" stroke-width="4.2" />
<path d="M458.7 952.2L425.5 937.2L443.7 932.2L453.4 916.1Z" fill="#285e36"/>
<line x1="633.40" y1="882.30" x2="671.71" y2="932.35" stroke="#1f4e7e" stroke-width="4.2" />
<path d="M686.9 952.2L653.6 937.4L671.7 932.3L681.3 916.2Z" fill="#1f4e7e"/>
<line x1="840.50" y1="882.30" x2="878.48" y2="932.29" stroke="#7a1f26" stroke-width="4.2" />
<path d="M893.6 952.2L860.3 937.3L878.5 932.3L888.2 916.1Z" fill="#7a1f26"/>
<text x="236.70" y="1018.40" font-size="53.3" fill="#262223" stroke="#262223" text-anchor="middle" >(b)</text>
<text x="499.70" y="1018.40" font-size="53.3" fill="#262223" stroke="#262223" text-anchor="middle" >(c)</text>
<text x="695.30" y="1018.40" font-size="53.3" fill="#262223" stroke="#262223" text-anchor="middle" >(d)</text>
<text x="887.70" y="1018.40" font-size="53.3" fill="#262223" stroke="#262223" text-anchor="middle" >(e)</text>
<text transform="translate(42.2,1578) rotate(-90)" font-size="53.3" fill="#262223" stroke="#262223">Frequency (GHz)</text>
<text x="370.80" y="1829.30" font-size="54" fill="#262223" stroke="#262223" text-anchor="start" >Reflectivity (dB)</text>
<clipPath id="cp1"><rect x="152.80" y="1041.20" width="183.00" height="654.10"/></clipPath>
<path d="M292 1020L289.1 1092.3L286 1154.3L282.6 1207L280.8 1230L278.9 1251.1L276.9 1270.1L274.9 1287.1L272.7 1302.5L270.4 1316.2L267.9 1328.4L265.3 1339.2L262.5 1348.4L259.4 1356.5L256.8 1362.2L253.9 1367.2L250.8 1371.6L247.5 1375.3L243.8 1378.4L239.9 1380.8L235.3 1382.9L230.2 1384.6L225.3 1385.6L219.2 1386.5L212.5 1387.1L204.6 1387.5L183.2 1387.9L137.2 1388L182 1388.1L203.4 1388.5L211.4 1388.8L218 1389.4L223.5 1390.1L228.8 1391.1L233.8 1392.5L238.4 1394.4L242.4 1396.7L246 1399.4L249.4 1402.8L252.5 1406.6L255.4 1411.1L258.1 1416.3L261.1 1423.7L263.9 1432L266.5 1441.6L268.9 1452.4L271.2 1464.6L273.4 1478.3L275.5 1493.7L277.5 1510.5L279.3 1529.4L281.1 1549.9L284.5 1596.7L287.6 1652.1L290.5 1716.4" fill="none" stroke="#050303" stroke-width="8.8" stroke-linejoin="round" clip-path="url(#cp1)"/>
<rect x="152.80" y="1041.20" width="183.00" height="654.10" fill="none" stroke="#211e1f" stroke-width="2.75" />
<line x1="182.90" y1="1041.20" x2="182.90" y2="1048.60" stroke="#211e1f" stroke-width="2.4" />
<line x1="182.90" y1="1695.30" x2="182.90" y2="1687.90" stroke="#211e1f" stroke-width="2.4" />
<line x1="259.10" y1="1041.20" x2="259.10" y2="1048.60" stroke="#211e1f" stroke-width="2.4" />
<line x1="259.10" y1="1695.30" x2="259.10" y2="1687.90" stroke="#211e1f" stroke-width="2.4" />
<line x1="152.80" y1="1259.40" x2="160.20" y2="1259.40" stroke="#211e1f" stroke-width="2.4" />
<line x1="335.80" y1="1259.40" x2="328.40" y2="1259.40" stroke="#211e1f" stroke-width="2.4" />
<line x1="152.80" y1="1477.00" x2="160.20" y2="1477.00" stroke="#211e1f" stroke-width="2.4" />
<line x1="335.80" y1="1477.00" x2="328.40" y2="1477.00" stroke="#211e1f" stroke-width="2.4" />
<text x="66.60" y="1059.60" font-size="49.699999999999996" fill="#262223" stroke="#262223" text-anchor="start" >9.3</text>
<text x="66.60" y="1277.20" font-size="49.699999999999996" fill="#262223" stroke="#262223" text-anchor="start" >9.2</text>
<text x="66.60" y="1494.80" font-size="49.699999999999996" fill="#262223" stroke="#262223" text-anchor="start" >9.1</text>
<text x="66.60" y="1712.40" font-size="49.699999999999996" fill="#262223" stroke="#262223" text-anchor="start" >9.0</text>
<text x="110.30" y="1754.30" font-size="49.3" fill="#262223" stroke="#262223" text-anchor="start" >-100</text>
<text x="221.00" y="1754.30" font-size="49.3" fill="#262223" stroke="#262223" text-anchor="start" >-50</text>
<text x="312.30" y="1754.30" font-size="49.3" fill="#262223" stroke="#262223" text-anchor="start" >0</text>
<text x="171.30" y="1659.30" font-size="40" fill="#262223" stroke="#262223" text-anchor="start" style="stroke-width:.3px">0</text>
<clipPath id="cp2"><rect x="408.00" y="1044.30" width="181.60" height="651.90"/></clipPath>
<g fill="none" stroke="#4db870" stroke-width="1.9" clip-path="url(#cp2)"><ellipse cx="544.9" cy="1056.3" rx="8.5" ry="10.9"/><ellipse cx="543.9" cy="1080.3" rx="8.5" ry="10.9"/><ellipse cx="542.8" cy="1104.3" rx="8.5" ry="10.9"/><ellipse cx="541.6" cy="1128.3" rx="8.5" ry="10.9"/><ellipse cx="540.4" cy="1152.3" rx="8.5" ry="10.9"/><ellipse cx="538.9" cy="1176.3" rx="8.5" ry="10.9"/><ellipse cx="537.3" cy="1200.3" rx="8.5" ry="10.9"/><ellipse cx="535.5" cy="1224.3" rx="8.5" ry="10.9"/><ellipse cx="533.4" cy="1248.3" rx="8.5" ry="10.9"/><ellipse cx="530.9" cy="1272.3" rx="8.5" ry="10.9"/><ellipse cx="527.7" cy="1296.3" rx="8.5" ry="10.9"/><ellipse cx="523.6" cy="1320.3" rx="8.5" ry="10.9"/><ellipse cx="517.5" cy="1344.3" rx="8.5" ry="10.9"/><ellipse cx="511.8" cy="1411.0" rx="8.5" ry="10.9"/><ellipse cx="520.2" cy="1434.9" rx="8.5" ry="10.9"/><ellipse cx="525.3" cy="1458.8" rx="8.5" ry="10.9"/><ellipse cx="529.0" cy="1482.7" rx="8.5" ry="10.9"/><ellipse cx="531.9" cy="1506.6" rx="8.5" ry="10.9"/><ellipse cx="534.2" cy="1530.5" rx="8.5" ry="10.9"/><ellipse cx="536.2" cy="1554.4" rx="8.5" ry="10.9"/><ellipse cx="537.9" cy="1578.3" rx="8.5" ry="10.9"/><ellipse cx="539.5" cy="1602.2" rx="8.5" ry="10.9"/><ellipse cx="540.8" cy="1626.1" rx="8.5" ry="10.9"/><ellipse cx="542.1" cy="1650.0" rx="8.5" ry="10.9"/><ellipse cx="543.2" cy="1673.9" rx="8.5" ry="10.9"/></g>
<g fill="none" stroke="#4db870" stroke-width="1.9" clip-path="url(#cp2)"><ellipse cx="455.6" cy="1385.9" rx="8.5" ry="10.9"/><ellipse cx="448.1" cy="1386.2" rx="8.5" ry="10.9"/><ellipse cx="440.6" cy="1386.3" rx="8.5" ry="10.9"/><ellipse cx="433.1" cy="1386.4" rx="8.5" ry="10.9"/><ellipse cx="425.6" cy="1386.5" rx="8.5" ry="10.9"/><ellipse cx="418.1" cy="1386.5" rx="8.5" ry="10.9"/><ellipse cx="410.6" cy="1386.5" rx="8.5" ry="10.9"/><ellipse cx="403.1" cy="1386.5" rx="8.5" ry="10.9"/><ellipse cx="395.6" cy="1386.5" rx="8.5" ry="10.9"/><ellipse cx="403.1" cy="1386.5" rx="8.5" ry="10.9"/><ellipse cx="410.6" cy="1386.5" rx="8.5" ry="10.9"/><ellipse cx="418.1" cy="1386.6" rx="8.5" ry="10.9"/><ellipse cx="425.6" cy="1386.6" rx="8.5" ry="10.9"/><ellipse cx="433.1" cy="1386.6" rx="8.5" ry="10.9"/><ellipse cx="440.6" cy="1386.7" rx="8.5" ry="10.9"/><ellipse cx="448.1" cy="1386.9" rx="8.5" ry="10.9"/><ellipse cx="455.6" cy="1387.4" rx="8.5" ry="10.9"/><ellipse cx="449.2" cy="1388.3" rx="8.5" ry="10.9"/><ellipse cx="441.7" cy="1388.4" rx="8.5" ry="10.9"/><ellipse cx="434.2" cy="1388.5" rx="8.5" ry="10.9"/><ellipse cx="426.7" cy="1388.5" rx="8.5" ry="10.9"/><ellipse cx="419.2" cy="1388.5" rx="8.5" ry="10.9"/><ellipse cx="411.7" cy="1388.5" rx="8.5" ry="10.9"/><ellipse cx="404.2" cy="1388.5" rx="8.5" ry="10.9"/><ellipse cx="396.7" cy="1388.5" rx="8.5" ry="10.9"/><ellipse cx="402.0" cy="1388.5" rx="8.5" ry="10.9"/><ellipse cx="409.5" cy="1388.5" rx="8.5" ry="10.9"/><ellipse cx="417.0" cy="1388.6" rx="8.5" ry="10.9"/><ellipse cx="424.5" cy="1388.6" rx="8.5" ry="10.9"/><ellipse cx="432.0" cy="1388.6" rx="8.5" ry="10.9"/><ellipse cx="439.5" cy="1388.6" rx="8.5" ry="10.9"/><ellipse cx="447.0" cy="1388.7" rx="8.5" ry="10.9"/><ellipse cx="454.5" cy="1388.7" rx="8.5" ry="10.9"/></g>
<g fill="#4db870" stroke="#4db870" stroke-width="1" clip-path="url(#cp2)"><ellipse cx="511.1" cy="1360.2" rx="8.5" ry="10.9"/><ellipse cx="509.9" cy="1362.4" rx="8.5" ry="10.9"/><ellipse cx="508.6" cy="1364.5" rx="8.5" ry="10.9"/><ellipse cx="507.2" cy="1366.6" rx="8.5" ry="10.9"/><ellipse cx="505.7" cy="1368.6" rx="8.5" ry="10.9"/><ellipse cx="504.1" cy="1370.6" rx="8.5" ry="10.9"/><ellipse cx="502.4" cy="1372.4" rx="8.5" ry="10.9"/><ellipse cx="500.6" cy="1374.1" rx="8.5" ry="10.9"/><ellipse cx="498.7" cy="1375.7" rx="8.5" ry="10.9"/><ellipse cx="496.6" cy="1377.1" rx="8.5" ry="10.9"/><ellipse cx="494.5" cy="1378.4" rx="8.5" ry="10.9"/><ellipse cx="492.3" cy="1379.6" rx="8.5" ry="10.9"/><ellipse cx="490.0" cy="1380.6" rx="8.5" ry="10.9"/><ellipse cx="487.6" cy="1381.4" rx="8.5" ry="10.9"/><ellipse cx="485.3" cy="1382.2" rx="8.5" ry="10.9"/><ellipse cx="482.8" cy="1382.8" rx="8.5" ry="10.9"/><ellipse cx="480.4" cy="1383.4" rx="8.5" ry="10.9"/><ellipse cx="477.9" cy="1383.9" rx="8.5" ry="10.9"/><ellipse cx="475.5" cy="1384.3" rx="8.5" ry="10.9"/><ellipse cx="473.0" cy="1384.6" rx="8.5" ry="10.9"/><ellipse cx="470.5" cy="1384.9" rx="8.5" ry="10.9"/><ellipse cx="468.0" cy="1385.1" rx="8.5" ry="10.9"/><ellipse cx="465.5" cy="1385.4" rx="8.5" ry="10.9"/><ellipse cx="463.1" cy="1385.5" rx="8.5" ry="10.9"/><ellipse cx="460.6" cy="1385.7" rx="8.5" ry="10.9"/><ellipse cx="458.1" cy="1385.8" rx="8.5" ry="10.9"/><ellipse cx="456.7" cy="1387.9" rx="8.5" ry="10.9"/><ellipse cx="457.0" cy="1388.8" rx="8.5" ry="10.9"/><ellipse cx="459.5" cy="1388.8" rx="8.5" ry="10.9"/><ellipse cx="462.0" cy="1388.9" rx="8.5" ry="10.9"/><ellipse cx="464.5" cy="1388.9" rx="8.5" ry="10.9"/><ellipse cx="467.0" cy="1389.0" rx="8.5" ry="10.9"/><ellipse cx="469.5" cy="1389.0" rx="8.5" ry="10.9"/><ellipse cx="472.0" cy="1389.1" rx="8.5" ry="10.9"/><ellipse cx="474.5" cy="1389.1" rx="8.5" ry="10.9"/><ellipse cx="477.0" cy="1389.2" rx="8.5" ry="10.9"/><ellipse cx="479.5" cy="1389.3" rx="8.5" ry="10.9"/><ellipse cx="482.0" cy="1389.3" rx="8.5" ry="10.9"/><ellipse cx="484.5" cy="1389.4" rx="8.5" ry="10.9"/><ellipse cx="487.0" cy="1389.5" rx="8.5" ry="10.9"/><ellipse cx="489.5" cy="1389.5" rx="8.5" ry="10.9"/><ellipse cx="492.0" cy="1389.6" rx="8.5" ry="10.9"/><ellipse cx="494.5" cy="1389.6" rx="8.5" ry="10.9"/><ellipse cx="497.0" cy="1389.7" rx="8.5" ry="10.9"/><ellipse cx="499.5" cy="1389.7" rx="8.5" ry="10.9"/><ellipse cx="502.0" cy="1389.8" rx="8.5" ry="10.9"/><ellipse cx="504.5" cy="1389.8" rx="8.5" ry="10.9"/><ellipse cx="507.0" cy="1389.9" rx="8.5" ry="10.9"/><ellipse cx="509.5" cy="1389.9" rx="8.5" ry="10.9"/><ellipse cx="512.0" cy="1389.9" rx="8.5" ry="10.9"/><ellipse cx="514.5" cy="1390.0" rx="8.5" ry="10.9"/><ellipse cx="517.0" cy="1390.0" rx="8.5" ry="10.9"/><ellipse cx="519.5" cy="1390.0" rx="8.5" ry="10.9"/><ellipse cx="522.0" cy="1390.0" rx="8.5" ry="10.9"/><ellipse cx="524.5" cy="1390.1" rx="8.5" ry="10.9"/><ellipse cx="527.0" cy="1390.1" rx="8.5" ry="10.9"/><ellipse cx="529.5" cy="1390.1" rx="8.5" ry="10.9"/><ellipse cx="532.0" cy="1390.1" rx="8.5" ry="10.9"/><ellipse cx="534.5" cy="1390.1" rx="8.5" ry="10.9"/><ellipse cx="537.0" cy="1390.1" rx="8.5" ry="10.9"/><ellipse cx="539.5" cy="1390.1" rx="8.5" ry="10.9"/><ellipse cx="542.0" cy="1390.1" rx="8.5" ry="10.9"/><ellipse cx="544.5" cy="1390.1" rx="8.5" ry="10.9"/><ellipse cx="547.0" cy="1390.1" rx="8.5" ry="10.9"/><ellipse cx="549.5" cy="1390.1" rx="8.5" ry="10.9"/><ellipse cx="552.0" cy="1390.1" rx="8.5" ry="10.9"/><ellipse cx="554.5" cy="1390.1" rx="8.5" ry="10.9"/><ellipse cx="557.0" cy="1390.1" rx="8.5" ry="10.9"/><ellipse cx="559.5" cy="1390.1" rx="8.5" ry="10.9"/><ellipse cx="562.0" cy="1390.1" rx="8.5" ry="10.9"/><ellipse cx="564.5" cy="1390.1" rx="8.5" ry="10.9"/><ellipse cx="567.0" cy="1390.1" rx="8.5" ry="10.9"/><ellipse cx="569.5" cy="1390.1" rx="8.5" ry="10.9"/><ellipse cx="572.0" cy="1390.1" rx="8.5" ry="10.9"/><ellipse cx="574.5" cy="1390.1" rx="8.5" ry="10.9"/><ellipse cx="577.0" cy="1390.1" rx="8.5" ry="10.9"/><ellipse cx="579.5" cy="1390.1" rx="8.5" ry="10.9"/><ellipse cx="582.0" cy="1390.1" rx="8.5" ry="10.9"/><ellipse cx="584.5" cy="1390.1" rx="8.5" ry="10.9"/><ellipse cx="587.0" cy="1390.1" rx="8.5" ry="10.9"/><ellipse cx="588.9" cy="1390.1" rx="8.5" ry="10.9"/><ellipse cx="586.4" cy="1390.1" rx="8.5" ry="10.9"/><ellipse cx="583.9" cy="1390.1" rx="8.5" ry="10.9"/><ellipse cx="581.4" cy="1390.1" rx="8.5" ry="10.9"/><ellipse cx="578.9" cy="1390.1" rx="8.5" ry="10.9"/><ellipse cx="576.4" cy="1390.1" rx="8.5" ry="10.9"/><ellipse cx="573.9" cy="1390.1" rx="8.5" ry="10.9"/><ellipse cx="571.4" cy="1390.1" rx="8.5" ry="10.9"/><ellipse cx="568.9" cy="1390.1" rx="8.5" ry="10.9"/><ellipse cx="566.4" cy="1390.1" rx="8.5" ry="10.9"/><ellipse cx="563.9" cy="1390.1" rx="8.5" ry="10.9"/><ellipse cx="561.4" cy="1390.1" rx="8.5" ry="10.9"/><ellipse cx="558.9" cy="1390.1" rx="8.5" ry="10.9"/><ellipse cx="556.4" cy="1390.1" rx="8.5" ry="10.9"/><ellipse cx="553.9" cy="1390.1" rx="8.5" ry="10.9"/><ellipse cx="551.4" cy="1390.1" rx="8.5" ry="10.9"/><ellipse cx="548.9" cy="1390.1" rx="8.5" ry="10.9"/><ellipse cx="546.4" cy="1390.1" rx="8.5" ry="10.9"/><ellipse cx="543.9" cy="1390.1" rx="8.5" ry="10.9"/><ellipse cx="541.4" cy="1390.2" rx="8.5" ry="10.9"/><ellipse cx="538.9" cy="1390.2" rx="8.5" ry="10.9"/><ellipse cx="536.4" cy="1390.2" rx="8.5" ry="10.9"/><ellipse cx="533.9" cy="1390.2" rx="8.5" ry="10.9"/><ellipse cx="531.4" cy="1390.2" rx="8.5" ry="10.9"/><ellipse cx="528.9" cy="1390.2" rx="8.5" ry="10.9"/><ellipse cx="526.4" cy="1390.2" rx="8.5" ry="10.9"/><ellipse cx="523.9" cy="1390.2" rx="8.5" ry="10.9"/><ellipse cx="521.4" cy="1390.2" rx="8.5" ry="10.9"/><ellipse cx="518.9" cy="1390.3" rx="8.5" ry="10.9"/><ellipse cx="516.4" cy="1390.3" rx="8.5" ry="10.9"/><ellipse cx="513.9" cy="1390.4" rx="8.5" ry="10.9"/><ellipse cx="511.4" cy="1390.4" rx="8.5" ry="10.9"/><ellipse cx="508.9" cy="1390.5" rx="8.5" ry="10.9"/><ellipse cx="506.4" cy="1390.6" rx="8.5" ry="10.9"/><ellipse cx="504.0" cy="1390.8" rx="8.5" ry="10.9"/><ellipse cx="501.5" cy="1391.1" rx="8.5" ry="10.9"/><ellipse cx="499.2" cy="1392.1" rx="8.5" ry="10.9"/><ellipse cx="500.1" cy="1394.3" rx="8.5" ry="10.9"/><ellipse cx="501.7" cy="1396.2" rx="8.5" ry="10.9"/><ellipse cx="503.4" cy="1398.1" rx="8.5" ry="10.9"/><ellipse cx="505.0" cy="1400.0" rx="8.5" ry="10.9"/></g>
<path d="M549.4 1021.8L546.5 1093.6L543.4 1155.2L540 1207.5L538.2 1230.3L536.3 1251L534.3 1269.6L532.3 1286.5L530.1 1301.7L527.7 1315.2L525.3 1327.3L522.7 1337.7L519.8 1346.9L516.8 1354.8L514.1 1360.5L511.1 1365.6L507.9 1369.9L504.5 1373.5L500.7 1376.5L496.5 1379L491.9 1381.1L486.4 1382.7L480.9 1383.9L474.7 1384.8L467.2 1385.5L458.6 1385.9L436.4 1386.4L392.6 1386.5L444.5 1386.7L456.1 1387.1L459.3 1387.4L460.5 1387.7L459.6 1388L457 1388.2L446.8 1388.4L392.6 1388.5L455.6 1388.7L522.1 1390L592.4 1390.1L536.6 1390.2L515.5 1390.4L509 1390.6L505.2 1391L503.1 1391.6L502.5 1391.9L502.3 1392.4L502.4 1393L502.8 1393.8L508.7 1400.7L512.8 1406.8L516.5 1414.1L519.8 1422.8L523.1 1433.6L526.1 1446.4L528.9 1461L531.5 1477.7L534 1497.4L536.4 1519.8L538.6 1544.9L540.7 1572.9L542.7 1604.1L544.7 1638.6L546.5 1676.5L548.2 1718.2" fill="none" stroke="#285e36" stroke-width="8.8" stroke-linejoin="round" clip-path="url(#cp2)"/>
<rect x="408.00" y="1044.30" width="180.60" height="651.90" fill="none" stroke="#211e1f" stroke-width="2.75" />
<line x1="437.80" y1="1044.30" x2="437.80" y2="1051.70" stroke="#211e1f" stroke-width="2.4" />
<line x1="437.80" y1="1696.20" x2="437.80" y2="1688.80" stroke="#211e1f" stroke-width="2.4" />
<line x1="513.20" y1="1044.30" x2="513.20" y2="1051.70" stroke="#211e1f" stroke-width="2.4" />
<line x1="513.20" y1="1696.20" x2="513.20" y2="1688.80" stroke="#211e1f" stroke-width="2.4" />
<line x1="408.00" y1="1261.20" x2="415.40" y2="1261.20" stroke="#211e1f" stroke-width="2.4" />
<line x1="588.60" y1="1261.20" x2="581.20" y2="1261.20" stroke="#211e1f" stroke-width="2.4" />
<line x1="408.00" y1="1478.80" x2="415.40" y2="1478.80" stroke="#211e1f" stroke-width="2.4" />
<line x1="588.60" y1="1478.80" x2="581.20" y2="1478.80" stroke="#211e1f" stroke-width="2.4" />
<rect x="410.3" y="1369.8" width="178.3" height="44.6" fill="none" stroke="#111" stroke-width="2.4" stroke-dasharray="12.5 6.2"/>
<rect x="369.4" y="1078.8" width="132.2" height="247.3" fill="#fff"/>
<clipPath id="cp3"><rect x="370.40" y="1071.80" width="137.20" height="253.30"/></clipPath>
<g fill="#4db870" stroke="#4db870" stroke-width="1" clip-path="url(#cp3)"><ellipse cx="440.6" cy="1071.2" rx="8.5" ry="10.9"/><ellipse cx="440.4" cy="1073.7" rx="8.5" ry="10.9"/><ellipse cx="440.2" cy="1076.2" rx="8.5" ry="10.9"/><ellipse cx="439.9" cy="1078.7" rx="8.5" ry="10.9"/><ellipse cx="439.6" cy="1081.2" rx="8.5" ry="10.9"/><ellipse cx="439.4" cy="1083.7" rx="8.5" ry="10.9"/><ellipse cx="439.1" cy="1086.1" rx="8.5" ry="10.9"/><ellipse cx="438.8" cy="1088.6" rx="8.5" ry="10.9"/><ellipse cx="438.5" cy="1091.1" rx="8.5" ry="10.9"/><ellipse cx="438.2" cy="1093.6" rx="8.5" ry="10.9"/><ellipse cx="437.9" cy="1096.1" rx="8.5" ry="10.9"/><ellipse cx="437.6" cy="1098.5" rx="8.5" ry="10.9"/><ellipse cx="437.3" cy="1101.0" rx="8.5" ry="10.9"/><ellipse cx="437.0" cy="1103.5" rx="8.5" ry="10.9"/><ellipse cx="436.6" cy="1106.0" rx="8.5" ry="10.9"/><ellipse cx="436.2" cy="1108.5" rx="8.5" ry="10.9"/><ellipse cx="435.9" cy="1110.9" rx="8.5" ry="10.9"/><ellipse cx="435.5" cy="1113.4" rx="8.5" ry="10.9"/><ellipse cx="435.1" cy="1115.9" rx="8.5" ry="10.9"/><ellipse cx="434.6" cy="1118.3" rx="8.5" ry="10.9"/><ellipse cx="434.2" cy="1120.8" rx="8.5" ry="10.9"/><ellipse cx="433.7" cy="1123.2" rx="8.5" ry="10.9"/><ellipse cx="433.2" cy="1125.7" rx="8.5" ry="10.9"/><ellipse cx="432.7" cy="1128.1" rx="8.5" ry="10.9"/><ellipse cx="432.1" cy="1130.6" rx="8.5" ry="10.9"/><ellipse cx="431.6" cy="1133.0" rx="8.5" ry="10.9"/><ellipse cx="430.9" cy="1135.4" rx="8.5" ry="10.9"/><ellipse cx="430.3" cy="1137.8" rx="8.5" ry="10.9"/><ellipse cx="429.6" cy="1140.2" rx="8.5" ry="10.9"/><ellipse cx="428.8" cy="1142.6" rx="8.5" ry="10.9"/><ellipse cx="428.0" cy="1145.0" rx="8.5" ry="10.9"/><ellipse cx="427.2" cy="1147.3" rx="8.5" ry="10.9"/><ellipse cx="426.2" cy="1149.7" rx="8.5" ry="10.9"/><ellipse cx="425.2" cy="1151.9" rx="8.5" ry="10.9"/><ellipse cx="424.1" cy="1154.2" rx="8.5" ry="10.9"/><ellipse cx="422.9" cy="1156.4" rx="8.5" ry="10.9"/><ellipse cx="421.6" cy="1158.5" rx="8.5" ry="10.9"/><ellipse cx="420.1" cy="1160.5" rx="8.5" ry="10.9"/><ellipse cx="418.5" cy="1162.5" rx="8.5" ry="10.9"/><ellipse cx="416.8" cy="1164.2" rx="8.5" ry="10.9"/><ellipse cx="414.9" cy="1165.9" rx="8.5" ry="10.9"/><ellipse cx="412.9" cy="1167.4" rx="8.5" ry="10.9"/><ellipse cx="410.8" cy="1168.6" rx="8.5" ry="10.9"/><ellipse cx="408.5" cy="1169.7" rx="8.5" ry="10.9"/><ellipse cx="406.2" cy="1170.6" rx="8.5" ry="10.9"/><ellipse cx="403.8" cy="1171.4" rx="8.5" ry="10.9"/><ellipse cx="401.4" cy="1172.0" rx="8.5" ry="10.9"/><ellipse cx="398.9" cy="1172.5" rx="8.5" ry="10.9"/><ellipse cx="396.4" cy="1172.8" rx="8.5" ry="10.9"/><ellipse cx="394.0" cy="1173.1" rx="8.5" ry="10.9"/><ellipse cx="391.5" cy="1173.4" rx="8.5" ry="10.9"/><ellipse cx="389.0" cy="1173.5" rx="8.5" ry="10.9"/><ellipse cx="386.5" cy="1173.7" rx="8.5" ry="10.9"/><ellipse cx="384.0" cy="1173.8" rx="8.5" ry="10.9"/><ellipse cx="381.5" cy="1173.9" rx="8.5" ry="10.9"/><ellipse cx="379.0" cy="1173.9" rx="8.5" ry="10.9"/><ellipse cx="376.5" cy="1174.0" rx="8.5" ry="10.9"/><ellipse cx="374.0" cy="1174.0" rx="8.5" ry="10.9"/><ellipse cx="371.5" cy="1174.0" rx="8.5" ry="10.9"/><ellipse cx="369.0" cy="1174.0" rx="8.5" ry="10.9"/><ellipse cx="366.5" cy="1174.1" rx="8.5" ry="10.9"/><ellipse cx="368.4" cy="1174.2" rx="8.5" ry="10.9"/><ellipse cx="370.9" cy="1174.2" rx="8.5" ry="10.9"/><ellipse cx="373.4" cy="1174.2" rx="8.5" ry="10.9"/><ellipse cx="375.9" cy="1174.3" rx="8.5" ry="10.9"/><ellipse cx="378.4" cy="1174.3" rx="8.5" ry="10.9"/><ellipse cx="380.9" cy="1174.4" rx="8.5" ry="10.9"/><ellipse cx="383.4" cy="1174.4" rx="8.5" ry="10.9"/><ellipse cx="385.9" cy="1174.5" rx="8.5" ry="10.9"/><ellipse cx="388.4" cy="1174.7" rx="8.5" ry="10.9"/><ellipse cx="390.9" cy="1174.9" rx="8.5" ry="10.9"/><ellipse cx="393.4" cy="1175.1" rx="8.5" ry="10.9"/><ellipse cx="395.8" cy="1175.4" rx="8.5" ry="10.9"/><ellipse cx="398.3" cy="1175.9" rx="8.5" ry="10.9"/><ellipse cx="400.7" cy="1176.5" rx="8.5" ry="10.9"/><ellipse cx="403.1" cy="1177.4" rx="8.5" ry="10.9"/><ellipse cx="405.2" cy="1178.7" rx="8.5" ry="10.9"/><ellipse cx="406.2" cy="1180.9" rx="8.5" ry="10.9"/><ellipse cx="404.6" cy="1182.6" rx="8.5" ry="10.9"/><ellipse cx="402.2" cy="1183.4" rx="8.5" ry="10.9"/><ellipse cx="399.7" cy="1183.9" rx="8.5" ry="10.9"/><ellipse cx="397.3" cy="1184.2" rx="8.5" ry="10.9"/><ellipse cx="394.8" cy="1184.4" rx="8.5" ry="10.9"/><ellipse cx="392.3" cy="1184.5" rx="8.5" ry="10.9"/><ellipse cx="389.8" cy="1184.6" rx="8.5" ry="10.9"/><ellipse cx="387.3" cy="1184.7" rx="8.5" ry="10.9"/><ellipse cx="384.8" cy="1184.7" rx="8.5" ry="10.9"/><ellipse cx="382.3" cy="1184.8" rx="8.5" ry="10.9"/><ellipse cx="379.8" cy="1184.8" rx="8.5" ry="10.9"/><ellipse cx="377.3" cy="1184.8" rx="8.5" ry="10.9"/><ellipse cx="374.8" cy="1184.9" rx="8.5" ry="10.9"/><ellipse cx="372.3" cy="1184.9" rx="8.5" ry="10.9"/><ellipse cx="369.8" cy="1184.9" rx="8.5" ry="10.9"/><ellipse cx="367.3" cy="1184.9" rx="8.5" ry="10.9"/><ellipse cx="367.6" cy="1184.9" rx="8.5" ry="10.9"/><ellipse cx="370.1" cy="1184.9" rx="8.5" ry="10.9"/><ellipse cx="372.6" cy="1185.0" rx="8.5" ry="10.9"/><ellipse cx="375.1" cy="1185.0" rx="8.5" ry="10.9"/><ellipse cx="377.6" cy="1185.0" rx="8.5" ry="10.9"/><ellipse cx="380.1" cy="1185.0" rx="8.5" ry="10.9"/><ellipse cx="382.6" cy="1185.0" rx="8.5" ry="10.9"/><ellipse cx="385.1" cy="1185.1" rx="8.5" ry="10.9"/><ellipse cx="387.6" cy="1185.1" rx="8.5" ry="10.9"/><ellipse cx="390.1" cy="1185.2" rx="8.5" ry="10.9"/><ellipse cx="392.6" cy="1185.3" rx="8.5" ry="10.9"/><ellipse cx="395.1" cy="1185.4" rx="8.5" ry="10.9"/><ellipse cx="397.6" cy="1185.5" rx="8.5" ry="10.9"/><ellipse cx="400.1" cy="1185.7" rx="8.5" ry="10.9"/><ellipse cx="402.6" cy="1185.8" rx="8.5" ry="10.9"/><ellipse cx="405.1" cy="1186.1" rx="8.5" ry="10.9"/><ellipse cx="407.6" cy="1186.4" rx="8.5" ry="10.9"/><ellipse cx="410.1" cy="1186.7" rx="8.5" ry="10.9"/><ellipse cx="412.5" cy="1187.0" rx="8.5" ry="10.9"/><ellipse cx="415.0" cy="1187.4" rx="8.5" ry="10.9"/><ellipse cx="417.5" cy="1187.9" rx="8.5" ry="10.9"/><ellipse cx="419.9" cy="1188.3" rx="8.5" ry="10.9"/><ellipse cx="422.4" cy="1188.8" rx="8.5" ry="10.9"/><ellipse cx="424.8" cy="1189.3" rx="8.5" ry="10.9"/><ellipse cx="427.3" cy="1189.8" rx="8.5" ry="10.9"/><ellipse cx="429.7" cy="1190.3" rx="8.5" ry="10.9"/><ellipse cx="432.2" cy="1190.7" rx="8.5" ry="10.9"/><ellipse cx="434.7" cy="1191.1" rx="8.5" ry="10.9"/><ellipse cx="437.1" cy="1191.5" rx="8.5" ry="10.9"/><ellipse cx="439.6" cy="1191.8" rx="8.5" ry="10.9"/><ellipse cx="442.1" cy="1192.1" rx="8.5" ry="10.9"/><ellipse cx="444.6" cy="1192.3" rx="8.5" ry="10.9"/><ellipse cx="447.1" cy="1192.5" rx="8.5" ry="10.9"/><ellipse cx="449.6" cy="1192.7" rx="8.5" ry="10.9"/><ellipse cx="452.1" cy="1192.8" rx="8.5" ry="10.9"/><ellipse cx="454.6" cy="1192.9" rx="8.5" ry="10.9"/><ellipse cx="457.1" cy="1193.0" rx="8.5" ry="10.9"/><ellipse cx="459.6" cy="1193.0" rx="8.5" ry="10.9"/><ellipse cx="462.1" cy="1193.1" rx="8.5" ry="10.9"/><ellipse cx="464.6" cy="1193.1" rx="8.5" ry="10.9"/><ellipse cx="467.1" cy="1193.2" rx="8.5" ry="10.9"/><ellipse cx="469.6" cy="1193.2" rx="8.5" ry="10.9"/><ellipse cx="472.1" cy="1193.2" rx="8.5" ry="10.9"/><ellipse cx="474.6" cy="1193.2" rx="8.5" ry="10.9"/><ellipse cx="477.1" cy="1193.2" rx="8.5" ry="10.9"/><ellipse cx="479.6" cy="1193.2" rx="8.5" ry="10.9"/><ellipse cx="482.1" cy="1193.2" rx="8.5" ry="10.9"/><ellipse cx="484.6" cy="1193.2" rx="8.5" ry="10.9"/><ellipse cx="487.1" cy="1193.2" rx="8.5" ry="10.9"/><ellipse cx="489.6" cy="1193.2" rx="8.5" ry="10.9"/><ellipse cx="492.1" cy="1193.2" rx="8.5" ry="10.9"/><ellipse cx="494.6" cy="1193.2" rx="8.5" ry="10.9"/><ellipse cx="497.1" cy="1193.3" rx="8.5" ry="10.9"/><ellipse cx="495.0" cy="1193.3" rx="8.5" ry="10.9"/><ellipse cx="492.5" cy="1193.3" rx="8.5" ry="10.9"/><ellipse cx="490.0" cy="1193.3" rx="8.5" ry="10.9"/><ellipse cx="487.5" cy="1193.3" rx="8.5" ry="10.9"/><ellipse cx="485.0" cy="1193.3" rx="8.5" ry="10.9"/><ellipse cx="482.5" cy="1193.3" rx="8.5" ry="10.9"/><ellipse cx="480.0" cy="1193.3" rx="8.5" ry="10.9"/><ellipse cx="477.5" cy="1193.3" rx="8.5" ry="10.9"/><ellipse cx="475.0" cy="1193.3" rx="8.5" ry="10.9"/><ellipse cx="472.5" cy="1193.3" rx="8.5" ry="10.9"/><ellipse cx="470.0" cy="1193.3" rx="8.5" ry="10.9"/><ellipse cx="467.5" cy="1193.3" rx="8.5" ry="10.9"/><ellipse cx="465.0" cy="1193.4" rx="8.5" ry="10.9"/><ellipse cx="462.5" cy="1193.4" rx="8.5" ry="10.9"/><ellipse cx="460.0" cy="1193.5" rx="8.5" ry="10.9"/><ellipse cx="457.5" cy="1193.5" rx="8.5" ry="10.9"/><ellipse cx="455.0" cy="1193.6" rx="8.5" ry="10.9"/><ellipse cx="452.5" cy="1193.7" rx="8.5" ry="10.9"/><ellipse cx="450.0" cy="1193.9" rx="8.5" ry="10.9"/><ellipse cx="447.5" cy="1194.2" rx="8.5" ry="10.9"/><ellipse cx="445.1" cy="1194.5" rx="8.5" ry="10.9"/><ellipse cx="442.6" cy="1195.0" rx="8.5" ry="10.9"/><ellipse cx="440.2" cy="1195.8" rx="8.5" ry="10.9"/><ellipse cx="438.1" cy="1197.1" rx="8.5" ry="10.9"/><ellipse cx="436.5" cy="1199.0" rx="8.5" ry="10.9"/><ellipse cx="435.6" cy="1201.3" rx="8.5" ry="10.9"/><ellipse cx="435.3" cy="1203.8" rx="8.5" ry="10.9"/><ellipse cx="435.2" cy="1206.3" rx="8.5" ry="10.9"/><ellipse cx="435.3" cy="1208.8" rx="8.5" ry="10.9"/><ellipse cx="435.5" cy="1211.3" rx="8.5" ry="10.9"/></g>
<g fill="none" stroke="#4db870" stroke-width="1.9" clip-path="url(#cp3)"><ellipse cx="433.3" cy="1208.6" rx="8.5" ry="10.9"/><ellipse cx="442.5" cy="1311.6" rx="8.5" ry="10.9"/></g>
<clipPath id="cp4"><rect x="370.40" y="1079.80" width="139.20" height="245.30"/></clipPath>
<path d="M445 1073.7L443.1 1091.1L441 1106.4L438.8 1119.5L436.4 1130.8L433.8 1140.3L430.9 1148.3L427.7 1154.8L426 1157.6L424.1 1160.1L420.4 1164L418.3 1165.6L416.1 1167L411.3 1169.2L405.6 1170.8L399.4 1171.8L391.2 1172.4L380.6 1172.8L364.1 1172.9L388.9 1173.2L395.8 1173.7L401.3 1174.3L406.1 1175.5L409.4 1177L410.6 1178L411.2 1179L411.4 1179.9L411 1180.8L409.7 1181.9L407.4 1182.7L404.3 1183.3L400 1183.7L388.2 1184.2L364.1 1184.3L392.7 1184.5L401.2 1184.8L408 1185.3L419.3 1186.8L441.4 1191.2L447.4 1192L453.8 1192.6L469.3 1193.1L500.3 1193.2L466.8 1193.4L458.8 1193.7L452.8 1194.2L448.2 1195.1L444.9 1196.3L443.7 1197.1L442.7 1198.1L441.9 1199.2L441.3 1200.5L440.8 1202.5L440.6 1204.8L440.7 1211.4L444.4 1247L446.4 1269.5L448.6 1298.3L450.5 1331.2" fill="none" stroke="#285e36" stroke-width="8.8" stroke-linejoin="round" clip-path="url(#cp4)"/>
<rect x="370.40" y="1079.80" width="130.20" height="245.30" fill="none" stroke="#211e1f" stroke-width="2.75" />
<text x="508.50" y="1107.30" font-size="40" fill="#262223" stroke="#262223" text-anchor="start" style="stroke-width:.3px">9.15</text>
<text x="506.00" y="1329.50" font-size="40" fill="#262223" stroke="#262223" text-anchor="start" style="stroke-width:.3px">9.13</text>
<text x="346.40" y="1360.00" font-size="40" fill="#262223" stroke="#262223" text-anchor="start" style="stroke-width:.3px">-100</text>
<text x="483.30" y="1360.00" font-size="40" fill="#262223" stroke="#262223" text-anchor="start" style="stroke-width:.3px">0</text>
<line x1="464.30" y1="1368.00" x2="459.73" y2="1344.15" stroke="#000" stroke-width="2.6" />
<path d="M457.1 1330.4L470.3 1347.2L459.7 1344.2L451.0 1350.9Z" fill="#000"/>
<circle cx="587.2" cy="1390" r="10.4" fill="none" stroke="#000" stroke-width="4.6"/>
<text x="537.80" y="1452.00" font-size="40" fill="#262223" stroke="#262223" text-anchor="start" style="stroke-width:.3px">P3</text>
<text x="417.6" y="1659.0" font-size="43.5" fill="#285e36" stroke="#285e36">10<tspan font-size="25.4" dy="-14.6" dx="-0.3">-4</tspan></text>
<text x="464.90" y="1754.70" font-size="49.3" fill="#262223" stroke="#262223" text-anchor="start" >-50</text>
<text x="570.80" y="1754.70" font-size="49.3" fill="#262223" stroke="#262223" text-anchor="start" >0</text>
<clipPath id="cp5"><rect x="599.80" y="1032.30" width="182.50" height="678.30"/></clipPath>
<g fill="none" stroke="#5aade0" stroke-width="2.2" clip-path="url(#cp5)"><ellipse cx="733.8" cy="1043.0" rx="8.5" ry="10.9"/><ellipse cx="733.4" cy="1053.3" rx="8.5" ry="10.9"/><ellipse cx="732.9" cy="1063.6" rx="8.5" ry="10.9"/><ellipse cx="732.5" cy="1073.9" rx="8.5" ry="10.9"/><ellipse cx="732.0" cy="1084.2" rx="8.5" ry="10.9"/><ellipse cx="731.5" cy="1094.5" rx="8.5" ry="10.9"/><ellipse cx="731.0" cy="1104.7" rx="8.5" ry="10.9"/><ellipse cx="730.5" cy="1115.0" rx="8.5" ry="10.9"/><ellipse cx="729.9" cy="1125.3" rx="8.5" ry="10.9"/><ellipse cx="729.3" cy="1135.6" rx="8.5" ry="10.9"/><ellipse cx="728.7" cy="1145.9" rx="8.5" ry="10.9"/><ellipse cx="728.1" cy="1156.2" rx="8.5" ry="10.9"/><ellipse cx="727.4" cy="1166.5" rx="8.5" ry="10.9"/><ellipse cx="726.7" cy="1176.8" rx="8.5" ry="10.9"/><ellipse cx="726.0" cy="1187.1" rx="8.5" ry="10.9"/><ellipse cx="725.2" cy="1197.4" rx="8.5" ry="10.9"/><ellipse cx="724.4" cy="1207.7" rx="8.5" ry="10.9"/><ellipse cx="723.5" cy="1218.0" rx="8.5" ry="10.9"/><ellipse cx="722.6" cy="1228.3" rx="8.5" ry="10.9"/><ellipse cx="721.6" cy="1238.5" rx="8.5" ry="10.9"/><ellipse cx="720.5" cy="1248.8" rx="8.5" ry="10.9"/></g>
<g fill="none" stroke="#5aade0" stroke-width="1.9" clip-path="url(#cp5)"><ellipse cx="664.1" cy="1358.8" rx="8.5" ry="10.9"/><ellipse cx="651.6" cy="1359.6" rx="8.5" ry="10.9"/><ellipse cx="639.1" cy="1360.0" rx="8.5" ry="10.9"/><ellipse cx="639.7" cy="1360.3" rx="8.5" ry="10.9"/><ellipse cx="652.2" cy="1360.7" rx="8.5" ry="10.9"/><ellipse cx="664.7" cy="1361.6" rx="8.5" ry="10.9"/><ellipse cx="655.7" cy="1386.5" rx="8.5" ry="10.9"/><ellipse cx="643.2" cy="1386.8" rx="8.5" ry="10.9"/><ellipse cx="630.7" cy="1386.9" rx="8.5" ry="10.9"/><ellipse cx="619.4" cy="1386.9" rx="8.5" ry="10.9"/><ellipse cx="631.9" cy="1387.0" rx="8.5" ry="10.9"/><ellipse cx="644.4" cy="1387.1" rx="8.5" ry="10.9"/><ellipse cx="656.9" cy="1387.4" rx="8.5" ry="10.9"/></g>
<g fill="#5aade0" stroke="#5aade0" stroke-width="1" clip-path="url(#cp5)"><ellipse cx="718.9" cy="1262.3" rx="8.5" ry="10.9"/><ellipse cx="718.6" cy="1264.8" rx="8.5" ry="10.9"/><ellipse cx="718.3" cy="1267.2" rx="8.5" ry="10.9"/><ellipse cx="717.9" cy="1269.7" rx="8.5" ry="10.9"/><ellipse cx="717.6" cy="1272.2" rx="8.5" ry="10.9"/><ellipse cx="717.3" cy="1274.7" rx="8.5" ry="10.9"/><ellipse cx="716.9" cy="1277.2" rx="8.5" ry="10.9"/><ellipse cx="716.6" cy="1279.6" rx="8.5" ry="10.9"/><ellipse cx="716.2" cy="1282.1" rx="8.5" ry="10.9"/><ellipse cx="715.8" cy="1284.6" rx="8.5" ry="10.9"/><ellipse cx="715.4" cy="1287.0" rx="8.5" ry="10.9"/><ellipse cx="715.0" cy="1289.5" rx="8.5" ry="10.9"/><ellipse cx="714.6" cy="1292.0" rx="8.5" ry="10.9"/><ellipse cx="714.1" cy="1294.4" rx="8.5" ry="10.9"/><ellipse cx="713.7" cy="1296.9" rx="8.5" ry="10.9"/><ellipse cx="713.2" cy="1299.3" rx="8.5" ry="10.9"/><ellipse cx="712.7" cy="1301.8" rx="8.5" ry="10.9"/><ellipse cx="712.2" cy="1304.2" rx="8.5" ry="10.9"/><ellipse cx="711.7" cy="1306.7" rx="8.5" ry="10.9"/><ellipse cx="711.1" cy="1309.1" rx="8.5" ry="10.9"/><ellipse cx="710.5" cy="1311.6" rx="8.5" ry="10.9"/><ellipse cx="709.9" cy="1314.0" rx="8.5" ry="10.9"/><ellipse cx="709.3" cy="1316.4" rx="8.5" ry="10.9"/><ellipse cx="708.6" cy="1318.8" rx="8.5" ry="10.9"/><ellipse cx="707.9" cy="1321.2" rx="8.5" ry="10.9"/><ellipse cx="707.1" cy="1323.6" rx="8.5" ry="10.9"/><ellipse cx="706.3" cy="1325.9" rx="8.5" ry="10.9"/><ellipse cx="705.4" cy="1328.3" rx="8.5" ry="10.9"/><ellipse cx="704.5" cy="1330.6" rx="8.5" ry="10.9"/><ellipse cx="703.5" cy="1332.9" rx="8.5" ry="10.9"/><ellipse cx="702.4" cy="1335.1" rx="8.5" ry="10.9"/><ellipse cx="701.3" cy="1337.4" rx="8.5" ry="10.9"/><ellipse cx="700.0" cy="1339.5" rx="8.5" ry="10.9"/><ellipse cx="698.6" cy="1341.6" rx="8.5" ry="10.9"/><ellipse cx="697.1" cy="1343.6" rx="8.5" ry="10.9"/><ellipse cx="695.5" cy="1345.5" rx="8.5" ry="10.9"/><ellipse cx="693.8" cy="1347.3" rx="8.5" ry="10.9"/><ellipse cx="691.9" cy="1349.0" rx="8.5" ry="10.9"/><ellipse cx="690.0" cy="1350.5" rx="8.5" ry="10.9"/><ellipse cx="687.9" cy="1351.9" rx="8.5" ry="10.9"/><ellipse cx="685.7" cy="1353.2" rx="8.5" ry="10.9"/><ellipse cx="683.5" cy="1354.2" rx="8.5" ry="10.9"/><ellipse cx="681.1" cy="1355.2" rx="8.5" ry="10.9"/><ellipse cx="678.8" cy="1356.0" rx="8.5" ry="10.9"/><ellipse cx="676.4" cy="1356.7" rx="8.5" ry="10.9"/><ellipse cx="673.9" cy="1357.2" rx="8.5" ry="10.9"/><ellipse cx="671.5" cy="1357.7" rx="8.5" ry="10.9"/><ellipse cx="669.0" cy="1358.1" rx="8.5" ry="10.9"/><ellipse cx="666.5" cy="1358.5" rx="8.5" ry="10.9"/><ellipse cx="667.1" cy="1361.9" rx="8.5" ry="10.9"/><ellipse cx="669.6" cy="1362.3" rx="8.5" ry="10.9"/><ellipse cx="672.1" cy="1362.7" rx="8.5" ry="10.9"/><ellipse cx="674.5" cy="1363.3" rx="8.5" ry="10.9"/><ellipse cx="676.9" cy="1363.9" rx="8.5" ry="10.9"/><ellipse cx="679.3" cy="1364.7" rx="8.5" ry="10.9"/><ellipse cx="681.6" cy="1365.7" rx="8.5" ry="10.9"/><ellipse cx="681.1" cy="1366.2" rx="8.5" ry="10.9"/><ellipse cx="678.6" cy="1366.2" rx="8.5" ry="10.9"/><ellipse cx="676.1" cy="1366.2" rx="8.5" ry="10.9"/><ellipse cx="675.7" cy="1366.7" rx="8.5" ry="10.9"/><ellipse cx="677.7" cy="1368.1" rx="8.5" ry="10.9"/><ellipse cx="679.7" cy="1369.7" rx="8.5" ry="10.9"/><ellipse cx="681.3" cy="1371.6" rx="8.5" ry="10.9"/><ellipse cx="682.6" cy="1373.7" rx="8.5" ry="10.9"/><ellipse cx="683.3" cy="1376.1" rx="8.5" ry="10.9"/><ellipse cx="683.2" cy="1378.6" rx="8.5" ry="10.9"/><ellipse cx="682.1" cy="1380.8" rx="8.5" ry="10.9"/><ellipse cx="680.2" cy="1382.4" rx="8.5" ry="10.9"/><ellipse cx="677.9" cy="1383.5" rx="8.5" ry="10.9"/><ellipse cx="675.6" cy="1384.3" rx="8.5" ry="10.9"/><ellipse cx="673.1" cy="1384.9" rx="8.5" ry="10.9"/><ellipse cx="670.7" cy="1385.3" rx="8.5" ry="10.9"/><ellipse cx="668.2" cy="1385.6" rx="8.5" ry="10.9"/><ellipse cx="666.9" cy="1387.9" rx="8.5" ry="10.9"/><ellipse cx="669.4" cy="1388.0" rx="8.5" ry="10.9"/><ellipse cx="671.9" cy="1388.2" rx="8.5" ry="10.9"/><ellipse cx="674.4" cy="1388.5" rx="8.5" ry="10.9"/><ellipse cx="676.8" cy="1388.7" rx="8.5" ry="10.9"/><ellipse cx="679.3" cy="1389.0" rx="8.5" ry="10.9"/><ellipse cx="681.8" cy="1389.4" rx="8.5" ry="10.9"/><ellipse cx="684.3" cy="1389.7" rx="8.5" ry="10.9"/><ellipse cx="686.7" cy="1390.1" rx="8.5" ry="10.9"/><ellipse cx="689.2" cy="1390.1" rx="8.5" ry="10.9"/><ellipse cx="691.7" cy="1390.2" rx="8.5" ry="10.9"/><ellipse cx="694.2" cy="1390.2" rx="8.5" ry="10.9"/><ellipse cx="696.7" cy="1390.4" rx="8.5" ry="10.9"/><ellipse cx="699.2" cy="1390.9" rx="8.5" ry="10.9"/><ellipse cx="701.6" cy="1391.4" rx="8.5" ry="10.9"/><ellipse cx="704.1" cy="1391.9" rx="8.5" ry="10.9"/><ellipse cx="706.5" cy="1392.5" rx="8.5" ry="10.9"/><ellipse cx="708.9" cy="1393.0" rx="8.5" ry="10.9"/><ellipse cx="711.4" cy="1393.6" rx="8.5" ry="10.9"/><ellipse cx="713.8" cy="1394.2" rx="8.5" ry="10.9"/><ellipse cx="716.2" cy="1394.8" rx="8.5" ry="10.9"/><ellipse cx="718.7" cy="1395.3" rx="8.5" ry="10.9"/><ellipse cx="721.1" cy="1395.9" rx="8.5" ry="10.9"/><ellipse cx="723.6" cy="1396.4" rx="8.5" ry="10.9"/><ellipse cx="726.0" cy="1396.9" rx="8.5" ry="10.9"/><ellipse cx="728.5" cy="1397.3" rx="8.5" ry="10.9"/><ellipse cx="730.9" cy="1397.7" rx="8.5" ry="10.9"/><ellipse cx="733.4" cy="1398.1" rx="8.5" ry="10.9"/><ellipse cx="735.9" cy="1398.4" rx="8.5" ry="10.9"/><ellipse cx="738.4" cy="1398.7" rx="8.5" ry="10.9"/><ellipse cx="740.9" cy="1399.0" rx="8.5" ry="10.9"/><ellipse cx="743.4" cy="1399.2" rx="8.5" ry="10.9"/><ellipse cx="745.8" cy="1399.4" rx="8.5" ry="10.9"/><ellipse cx="748.3" cy="1399.6" rx="8.5" ry="10.9"/><ellipse cx="750.8" cy="1399.8" rx="8.5" ry="10.9"/><ellipse cx="753.3" cy="1399.9" rx="8.5" ry="10.9"/><ellipse cx="755.8" cy="1400.0" rx="8.5" ry="10.9"/><ellipse cx="758.3" cy="1400.1" rx="8.5" ry="10.9"/><ellipse cx="760.8" cy="1400.1" rx="8.5" ry="10.9"/><ellipse cx="763.3" cy="1400.2" rx="8.5" ry="10.9"/><ellipse cx="765.8" cy="1400.3" rx="8.5" ry="10.9"/><ellipse cx="768.3" cy="1400.3" rx="8.5" ry="10.9"/><ellipse cx="770.8" cy="1400.4" rx="8.5" ry="10.9"/><ellipse cx="773.3" cy="1400.4" rx="8.5" ry="10.9"/><ellipse cx="775.8" cy="1400.4" rx="8.5" ry="10.9"/><ellipse cx="778.3" cy="1400.5" rx="8.5" ry="10.9"/><ellipse cx="777.4" cy="1400.6" rx="8.5" ry="10.9"/><ellipse cx="774.9" cy="1400.6" rx="8.5" ry="10.9"/><ellipse cx="772.4" cy="1400.6" rx="8.5" ry="10.9"/><ellipse cx="769.9" cy="1400.7" rx="8.5" ry="10.9"/><ellipse cx="767.4" cy="1400.7" rx="8.5" ry="10.9"/><ellipse cx="764.9" cy="1400.8" rx="8.5" ry="10.9"/><ellipse cx="762.4" cy="1400.8" rx="8.5" ry="10.9"/><ellipse cx="759.9" cy="1400.9" rx="8.5" ry="10.9"/><ellipse cx="757.4" cy="1401.0" rx="8.5" ry="10.9"/><ellipse cx="754.9" cy="1401.1" rx="8.5" ry="10.9"/><ellipse cx="752.4" cy="1401.3" rx="8.5" ry="10.9"/><ellipse cx="750.0" cy="1401.4" rx="8.5" ry="10.9"/><ellipse cx="747.5" cy="1401.7" rx="8.5" ry="10.9"/><ellipse cx="745.0" cy="1401.9" rx="8.5" ry="10.9"/><ellipse cx="742.5" cy="1402.3" rx="8.5" ry="10.9"/><ellipse cx="740.0" cy="1402.7" rx="8.5" ry="10.9"/><ellipse cx="737.6" cy="1403.0" rx="8.5" ry="10.9"/><ellipse cx="735.1" cy="1403.1" rx="8.5" ry="10.9"/><ellipse cx="732.6" cy="1403.2" rx="8.5" ry="10.9"/><ellipse cx="730.2" cy="1404.0" rx="8.5" ry="10.9"/><ellipse cx="727.9" cy="1405.0" rx="8.5" ry="10.9"/><ellipse cx="725.8" cy="1406.3" rx="8.5" ry="10.9"/><ellipse cx="724.0" cy="1408.0" rx="8.5" ry="10.9"/></g>
<g fill="none" stroke="#5aade0" stroke-width="1.9" clip-path="url(#cp5)"><ellipse cx="723.9" cy="1408.1" rx="8.5" ry="10.9"/><ellipse cx="721.1" cy="1414.1" rx="8.5" ry="10.9"/><ellipse cx="720.3" cy="1420.1" rx="8.5" ry="10.9"/><ellipse cx="720.2" cy="1426.1" rx="8.5" ry="10.9"/><ellipse cx="720.5" cy="1432.1" rx="8.5" ry="10.9"/><ellipse cx="720.9" cy="1438.1" rx="8.5" ry="10.9"/><ellipse cx="721.4" cy="1444.2" rx="8.5" ry="10.9"/><ellipse cx="721.9" cy="1450.2" rx="8.5" ry="10.9"/><ellipse cx="722.4" cy="1456.2" rx="8.5" ry="10.9"/><ellipse cx="723.0" cy="1462.2" rx="8.5" ry="10.9"/><ellipse cx="723.5" cy="1468.2" rx="8.5" ry="10.9"/><ellipse cx="724.0" cy="1474.2" rx="8.5" ry="10.9"/><ellipse cx="724.6" cy="1480.2" rx="8.5" ry="10.9"/><ellipse cx="725.1" cy="1486.2" rx="8.5" ry="10.9"/><ellipse cx="725.6" cy="1492.2" rx="8.5" ry="10.9"/><ellipse cx="726.0" cy="1498.2" rx="8.5" ry="10.9"/><ellipse cx="726.5" cy="1504.2" rx="8.5" ry="10.9"/><ellipse cx="727.0" cy="1510.2" rx="8.5" ry="10.9"/><ellipse cx="727.4" cy="1516.2" rx="8.5" ry="10.9"/><ellipse cx="727.8" cy="1522.2" rx="8.5" ry="10.9"/><ellipse cx="728.2" cy="1528.2" rx="8.5" ry="10.9"/><ellipse cx="728.6" cy="1534.2" rx="8.5" ry="10.9"/><ellipse cx="729.0" cy="1540.2" rx="8.5" ry="10.9"/><ellipse cx="729.4" cy="1546.2" rx="8.5" ry="10.9"/><ellipse cx="729.8" cy="1552.3" rx="8.5" ry="10.9"/><ellipse cx="730.2" cy="1558.3" rx="8.5" ry="10.9"/><ellipse cx="730.5" cy="1564.3" rx="8.5" ry="10.9"/><ellipse cx="730.9" cy="1570.3" rx="8.5" ry="10.9"/><ellipse cx="731.2" cy="1576.3" rx="8.5" ry="10.9"/><ellipse cx="731.5" cy="1582.3" rx="8.5" ry="10.9"/><ellipse cx="731.8" cy="1588.3" rx="8.5" ry="10.9"/><ellipse cx="732.2" cy="1594.3" rx="8.5" ry="10.9"/><ellipse cx="732.5" cy="1600.3" rx="8.5" ry="10.9"/><ellipse cx="732.8" cy="1606.3" rx="8.5" ry="10.9"/><ellipse cx="733.1" cy="1612.3" rx="8.5" ry="10.9"/><ellipse cx="733.3" cy="1618.3" rx="8.5" ry="10.9"/><ellipse cx="733.6" cy="1624.3" rx="8.5" ry="10.9"/><ellipse cx="733.9" cy="1630.3" rx="8.5" ry="10.9"/><ellipse cx="734.2" cy="1636.3" rx="8.5" ry="10.9"/><ellipse cx="734.4" cy="1642.3" rx="8.5" ry="10.9"/><ellipse cx="734.7" cy="1648.3" rx="8.5" ry="10.9"/><ellipse cx="734.9" cy="1654.4" rx="8.5" ry="10.9"/><ellipse cx="735.2" cy="1660.4" rx="8.5" ry="10.9"/><ellipse cx="735.4" cy="1666.4" rx="8.5" ry="10.9"/><ellipse cx="735.7" cy="1672.4" rx="8.5" ry="10.9"/><ellipse cx="735.9" cy="1678.4" rx="8.5" ry="10.9"/><ellipse cx="736.1" cy="1684.4" rx="8.5" ry="10.9"/><ellipse cx="736.4" cy="1690.4" rx="8.5" ry="10.9"/><ellipse cx="736.6" cy="1696.4" rx="8.5" ry="10.9"/></g>
<clipPath id="cp6"><rect x="599.80" y="1044.30" width="181.50" height="652.30"/></clipPath>
<path d="M739.4 1021.8L736.6 1087.7L733.6 1144.9L730.3 1194.2L726.8 1236.2L724.9 1254.5L723 1270.8L721 1285.5L718.9 1298.3L716.7 1309.5L714.4 1319.1L712 1327.3L709.3 1334.4L706.8 1339.7L704.1 1344.3L701.1 1348.3L697.6 1351.8L693.9 1354.7L689.8 1357L685.1 1358.9L679.9 1360.5L674.8 1361.4L668.8 1362.2L662.1 1362.8L653.6 1363.2L631.8 1363.5L585 1363.6L625 1363.7L644.9 1364L658.8 1364.8L663.9 1365.4L668.7 1366.3L673.9 1367.6L678.5 1369.6L681.9 1371.8L683.3 1373.1L684.5 1374.5L685.3 1376L685.8 1377.4L686 1378.8L685.8 1380.1L685.2 1381.3L684.3 1382.4L683 1383.3L681.4 1384.2L678 1385.2L673.1 1386.1L667 1386.7L659.1 1387.2L636.9 1387.5L585 1387.6L652.1 1387.7L667.6 1388L679.4 1388.5L689.2 1389.4L698.7 1390.7L706.9 1392.3L727.1 1396.7L739.8 1398.6L747.9 1399.4L756.3 1399.9L781.6 1400.5L762.8 1400.7L750.8 1401.2L741.9 1402L735.5 1403.2L732.9 1404L730.7 1405.1L728.8 1406.3L727.4 1407.7L726.2 1409.4L725.2 1411.4L724.5 1413.6L724.1 1416.3L723.7 1422.8L724.2 1432.2L728.5 1479.1L730.6 1503.3L732.9 1534.3L735 1567.9L738.5 1636.8L741.8 1718.2" fill="none" stroke="#1f4e7e" stroke-width="8.4" stroke-linejoin="round" clip-path="url(#cp6)"/>
<rect x="599.80" y="1044.30" width="181.50" height="652.30" fill="none" stroke="#211e1f" stroke-width="2.75" />
<line x1="630.30" y1="1044.30" x2="630.30" y2="1051.70" stroke="#211e1f" stroke-width="2.4" />
<line x1="630.30" y1="1696.60" x2="630.30" y2="1689.20" stroke="#211e1f" stroke-width="2.4" />
<line x1="705.80" y1="1044.30" x2="705.80" y2="1051.70" stroke="#211e1f" stroke-width="2.4" />
<line x1="705.80" y1="1696.60" x2="705.80" y2="1689.20" stroke="#211e1f" stroke-width="2.4" />
<line x1="599.80" y1="1261.20" x2="607.20" y2="1261.20" stroke="#211e1f" stroke-width="2.4" />
<line x1="781.30" y1="1261.20" x2="773.90" y2="1261.20" stroke="#211e1f" stroke-width="2.4" />
<line x1="599.80" y1="1478.80" x2="607.20" y2="1478.80" stroke="#211e1f" stroke-width="2.4" />
<line x1="781.30" y1="1478.80" x2="773.90" y2="1478.80" stroke="#211e1f" stroke-width="2.4" />
<circle cx="778.5" cy="1400.5" r="10.4" fill="none" stroke="#000" stroke-width="4.6"/>
<text x="729.40" y="1372.20" font-size="40" fill="#262223" stroke="#262223" text-anchor="start" style="stroke-width:.3px">P2</text>
<text x="608.3" y="1658.8" font-size="43.5" fill="#1f4e7e" stroke="#1f4e7e">10<tspan font-size="25.4" dy="-14.6" dx="0.4">-3</tspan></text>
<text x="658.60" y="1754.70" font-size="49.3" fill="#262223" stroke="#262223" text-anchor="start" >-50</text>
<text x="763.10" y="1751.60" font-size="49.3" fill="#262223" stroke="#262223" text-anchor="start" >0</text>
<clipPath id="cp7"><rect x="788.80" y="1030.30" width="194.20" height="682.30"/></clipPath>
<g fill="none" stroke="#f05a6a" stroke-width="2.1" clip-path="url(#cp7)"><ellipse cx="893.4" cy="1043.0" rx="8.5" ry="10.9"/><ellipse cx="891.9" cy="1048.5" rx="8.5" ry="10.9"/><ellipse cx="890.1" cy="1054.1" rx="8.5" ry="10.9"/><ellipse cx="887.3" cy="1059.7" rx="8.5" ry="10.9"/><ellipse cx="883.6" cy="1065.2" rx="8.5" ry="10.9"/><ellipse cx="880.8" cy="1069.9" rx="8.5" ry="10.9"/><ellipse cx="877.1" cy="1074.5" rx="8.5" ry="10.9"/><ellipse cx="873.4" cy="1078.2" rx="8.5" ry="10.9"/><ellipse cx="864.1" cy="1083.8" rx="8.5" ry="10.9"/><ellipse cx="844.7" cy="1089.3" rx="8.5" ry="10.9"/><ellipse cx="866.0" cy="1092.1" rx="8.5" ry="10.9"/><ellipse cx="871.6" cy="1097.7" rx="8.5" ry="10.9"/><ellipse cx="877.1" cy="1100.4" rx="8.5" ry="10.9"/></g>
<g fill="none" stroke="#f05a6a" stroke-width="2.0" clip-path="url(#cp7)"><ellipse cx="885.1" cy="1112.1" rx="8.5" ry="10.9"/><ellipse cx="887.0" cy="1115.6" rx="8.5" ry="10.9"/><ellipse cx="888.8" cy="1119.2" rx="8.5" ry="10.9"/><ellipse cx="890.3" cy="1122.9" rx="8.5" ry="10.9"/><ellipse cx="891.7" cy="1126.7" rx="8.5" ry="10.9"/><ellipse cx="892.9" cy="1130.5" rx="8.5" ry="10.9"/><ellipse cx="894.1" cy="1134.3" rx="8.5" ry="10.9"/><ellipse cx="895.1" cy="1138.2" rx="8.5" ry="10.9"/><ellipse cx="896.1" cy="1142.1" rx="8.5" ry="10.9"/><ellipse cx="896.9" cy="1146.0" rx="8.5" ry="10.9"/><ellipse cx="897.7" cy="1149.9" rx="8.5" ry="10.9"/><ellipse cx="898.5" cy="1153.8" rx="8.5" ry="10.9"/><ellipse cx="899.2" cy="1157.8" rx="8.5" ry="10.9"/><ellipse cx="899.8" cy="1161.7" rx="8.5" ry="10.9"/><ellipse cx="900.5" cy="1165.7" rx="8.5" ry="10.9"/><ellipse cx="901.0" cy="1169.6" rx="8.5" ry="10.9"/><ellipse cx="901.6" cy="1173.6" rx="8.5" ry="10.9"/><ellipse cx="902.1" cy="1177.5" rx="8.5" ry="10.9"/><ellipse cx="902.5" cy="1181.5" rx="8.5" ry="10.9"/><ellipse cx="903.0" cy="1185.5" rx="8.5" ry="10.9"/><ellipse cx="903.4" cy="1189.5" rx="8.5" ry="10.9"/><ellipse cx="903.8" cy="1193.5" rx="8.5" ry="10.9"/><ellipse cx="904.1" cy="1197.4" rx="8.5" ry="10.9"/><ellipse cx="904.5" cy="1201.4" rx="8.5" ry="10.9"/><ellipse cx="904.8" cy="1205.4" rx="8.5" ry="10.9"/><ellipse cx="905.1" cy="1209.4" rx="8.5" ry="10.9"/><ellipse cx="905.4" cy="1213.4" rx="8.5" ry="10.9"/><ellipse cx="905.7" cy="1217.4" rx="8.5" ry="10.9"/><ellipse cx="905.9" cy="1221.4" rx="8.5" ry="10.9"/><ellipse cx="906.1" cy="1225.4" rx="8.5" ry="10.9"/><ellipse cx="906.3" cy="1229.4" rx="8.5" ry="10.9"/><ellipse cx="906.5" cy="1233.4" rx="8.5" ry="10.9"/><ellipse cx="906.7" cy="1237.4" rx="8.5" ry="10.9"/><ellipse cx="906.8" cy="1241.4" rx="8.5" ry="10.9"/><ellipse cx="906.9" cy="1245.3" rx="8.5" ry="10.9"/><ellipse cx="907.0" cy="1249.3" rx="8.5" ry="10.9"/><ellipse cx="907.1" cy="1253.3" rx="8.5" ry="10.9"/><ellipse cx="907.2" cy="1257.3" rx="8.5" ry="10.9"/><ellipse cx="907.3" cy="1261.3" rx="8.5" ry="10.9"/><ellipse cx="907.3" cy="1265.3" rx="8.5" ry="10.9"/><ellipse cx="907.3" cy="1269.3" rx="8.5" ry="10.9"/><ellipse cx="907.3" cy="1273.3" rx="8.5" ry="10.9"/><ellipse cx="907.2" cy="1277.3" rx="8.5" ry="10.9"/><ellipse cx="907.2" cy="1281.3" rx="8.5" ry="10.9"/><ellipse cx="907.1" cy="1285.3" rx="8.5" ry="10.9"/><ellipse cx="906.9" cy="1289.3" rx="8.5" ry="10.9"/><ellipse cx="906.8" cy="1293.3" rx="8.5" ry="10.9"/><ellipse cx="906.6" cy="1297.3" rx="8.5" ry="10.9"/><ellipse cx="906.3" cy="1301.3" rx="8.5" ry="10.9"/><ellipse cx="906.0" cy="1305.3" rx="8.5" ry="10.9"/><ellipse cx="905.7" cy="1309.3" rx="8.5" ry="10.9"/><ellipse cx="905.3" cy="1313.3" rx="8.5" ry="10.9"/><ellipse cx="904.8" cy="1317.3" rx="8.5" ry="10.9"/><ellipse cx="904.3" cy="1321.2" rx="8.5" ry="10.9"/><ellipse cx="903.7" cy="1325.2" rx="8.5" ry="10.9"/><ellipse cx="903.0" cy="1329.1" rx="8.5" ry="10.9"/><ellipse cx="902.1" cy="1333.0" rx="8.5" ry="10.9"/><ellipse cx="901.1" cy="1336.9" rx="8.5" ry="10.9"/><ellipse cx="899.9" cy="1340.7" rx="8.5" ry="10.9"/><ellipse cx="898.6" cy="1344.5" rx="8.5" ry="10.9"/><ellipse cx="896.9" cy="1348.1" rx="8.5" ry="10.9"/><ellipse cx="894.9" cy="1351.6" rx="8.5" ry="10.9"/><ellipse cx="892.6" cy="1354.8" rx="8.5" ry="10.9"/><ellipse cx="889.9" cy="1357.7" rx="8.5" ry="10.9"/><ellipse cx="886.8" cy="1360.2" rx="8.5" ry="10.9"/><ellipse cx="883.3" cy="1362.3" rx="8.5" ry="10.9"/><ellipse cx="879.6" cy="1363.9" rx="8.5" ry="10.9"/><ellipse cx="875.8" cy="1365.0" rx="8.5" ry="10.9"/><ellipse cx="871.9" cy="1365.9" rx="8.5" ry="10.9"/><ellipse cx="868.0" cy="1366.6" rx="8.5" ry="10.9"/><ellipse cx="864.0" cy="1367.1" rx="8.5" ry="10.9"/><ellipse cx="860.0" cy="1367.5" rx="8.5" ry="10.9"/><ellipse cx="856.0" cy="1367.8" rx="8.5" ry="10.9"/><ellipse cx="852.0" cy="1368.0" rx="8.5" ry="10.9"/></g>
<g fill="none" stroke="#f05a6a" stroke-width="2.0" clip-path="url(#cp7)"><ellipse cx="850.2" cy="1368.3" rx="8.5" ry="10.9"/><ellipse cx="852.4" cy="1368.6" rx="8.5" ry="10.9"/><ellipse cx="854.6" cy="1368.7" rx="8.5" ry="10.9"/><ellipse cx="856.8" cy="1368.9" rx="8.5" ry="10.9"/><ellipse cx="859.0" cy="1369.0" rx="8.5" ry="10.9"/><ellipse cx="861.2" cy="1369.2" rx="8.5" ry="10.9"/><ellipse cx="863.4" cy="1369.4" rx="8.5" ry="10.9"/><ellipse cx="865.6" cy="1369.6" rx="8.5" ry="10.9"/><ellipse cx="867.7" cy="1369.9" rx="8.5" ry="10.9"/><ellipse cx="869.9" cy="1370.2" rx="8.5" ry="10.9"/><ellipse cx="872.1" cy="1370.6" rx="8.5" ry="10.9"/><ellipse cx="874.2" cy="1371.0" rx="8.5" ry="10.9"/><ellipse cx="876.4" cy="1371.5" rx="8.5" ry="10.9"/><ellipse cx="878.5" cy="1372.1" rx="8.5" ry="10.9"/><ellipse cx="880.6" cy="1372.8" rx="8.5" ry="10.9"/><ellipse cx="882.7" cy="1373.5" rx="8.5" ry="10.9"/><ellipse cx="884.7" cy="1374.4" rx="8.5" ry="10.9"/><ellipse cx="886.7" cy="1375.3" rx="8.5" ry="10.9"/><ellipse cx="888.6" cy="1376.4" rx="8.5" ry="10.9"/><ellipse cx="890.4" cy="1377.6" rx="8.5" ry="10.9"/><ellipse cx="892.2" cy="1378.9" rx="8.5" ry="10.9"/><ellipse cx="893.9" cy="1380.3" rx="8.5" ry="10.9"/><ellipse cx="895.5" cy="1381.8" rx="8.5" ry="10.9"/><ellipse cx="897.1" cy="1383.4" rx="8.5" ry="10.9"/><ellipse cx="898.5" cy="1385.0" rx="8.5" ry="10.9"/><ellipse cx="899.9" cy="1386.7" rx="8.5" ry="10.9"/><ellipse cx="901.3" cy="1388.5" rx="8.5" ry="10.9"/><ellipse cx="902.5" cy="1390.3" rx="8.5" ry="10.9"/><ellipse cx="903.7" cy="1392.1" rx="8.5" ry="10.9"/><ellipse cx="904.9" cy="1394.0" rx="8.5" ry="10.9"/><ellipse cx="906.0" cy="1395.9" rx="8.5" ry="10.9"/><ellipse cx="907.0" cy="1397.8" rx="8.5" ry="10.9"/><ellipse cx="908.0" cy="1399.8" rx="8.5" ry="10.9"/><ellipse cx="909.0" cy="1401.8" rx="8.5" ry="10.9"/><ellipse cx="909.9" cy="1403.8" rx="8.5" ry="10.9"/><ellipse cx="910.8" cy="1405.8" rx="8.5" ry="10.9"/><ellipse cx="911.7" cy="1407.8" rx="8.5" ry="10.9"/><ellipse cx="912.6" cy="1409.8" rx="8.5" ry="10.9"/><ellipse cx="913.4" cy="1411.8" rx="8.5" ry="10.9"/><ellipse cx="914.4" cy="1413.8" rx="8.5" ry="10.9"/><ellipse cx="915.3" cy="1415.8" rx="8.5" ry="10.9"/><ellipse cx="916.2" cy="1417.8" rx="8.5" ry="10.9"/><ellipse cx="917.1" cy="1419.8" rx="8.5" ry="10.9"/><ellipse cx="918.0" cy="1421.8" rx="8.5" ry="10.9"/><ellipse cx="918.9" cy="1423.8" rx="8.5" ry="10.9"/><ellipse cx="919.8" cy="1425.8" rx="8.5" ry="10.9"/><ellipse cx="920.7" cy="1427.9" rx="8.5" ry="10.9"/><ellipse cx="921.6" cy="1429.9" rx="8.5" ry="10.9"/><ellipse cx="922.4" cy="1431.9" rx="8.5" ry="10.9"/><ellipse cx="923.3" cy="1433.9" rx="8.5" ry="10.9"/><ellipse cx="924.2" cy="1435.9" rx="8.5" ry="10.9"/><ellipse cx="925.0" cy="1438.0" rx="8.5" ry="10.9"/><ellipse cx="925.9" cy="1440.0" rx="8.5" ry="10.9"/><ellipse cx="926.8" cy="1442.0" rx="8.5" ry="10.9"/><ellipse cx="927.7" cy="1444.0" rx="8.5" ry="10.9"/><ellipse cx="928.6" cy="1446.0" rx="8.5" ry="10.9"/><ellipse cx="929.4" cy="1448.0" rx="8.5" ry="10.9"/><ellipse cx="930.3" cy="1450.1" rx="8.5" ry="10.9"/><ellipse cx="931.2" cy="1452.1" rx="8.5" ry="10.9"/><ellipse cx="932.2" cy="1454.1" rx="8.5" ry="10.9"/><ellipse cx="933.1" cy="1456.0" rx="8.5" ry="10.9"/><ellipse cx="934.1" cy="1458.0" rx="8.5" ry="10.9"/><ellipse cx="935.0" cy="1460.0" rx="8.5" ry="10.9"/><ellipse cx="936.0" cy="1462.0" rx="8.5" ry="10.9"/><ellipse cx="937.0" cy="1463.9" rx="8.5" ry="10.9"/><ellipse cx="938.0" cy="1465.9" rx="8.5" ry="10.9"/><ellipse cx="939.1" cy="1467.8" rx="8.5" ry="10.9"/><ellipse cx="940.2" cy="1469.7" rx="8.5" ry="10.9"/><ellipse cx="941.3" cy="1471.6" rx="8.5" ry="10.9"/><ellipse cx="942.4" cy="1473.5" rx="8.5" ry="10.9"/><ellipse cx="943.6" cy="1475.3" rx="8.5" ry="10.9"/><ellipse cx="944.9" cy="1477.2" rx="8.5" ry="10.9"/><ellipse cx="946.1" cy="1479.0" rx="8.5" ry="10.9"/><ellipse cx="947.4" cy="1480.7" rx="8.5" ry="10.9"/><ellipse cx="948.8" cy="1482.5" rx="8.5" ry="10.9"/><ellipse cx="950.2" cy="1484.1" rx="8.5" ry="10.9"/><ellipse cx="951.7" cy="1485.8" rx="8.5" ry="10.9"/><ellipse cx="953.2" cy="1487.4" rx="8.5" ry="10.9"/><ellipse cx="954.8" cy="1488.9" rx="8.5" ry="10.9"/><ellipse cx="956.4" cy="1490.4" rx="8.5" ry="10.9"/><ellipse cx="958.0" cy="1491.9" rx="8.5" ry="10.9"/><ellipse cx="959.7" cy="1493.3" rx="8.5" ry="10.9"/><ellipse cx="961.4" cy="1494.7" rx="8.5" ry="10.9"/><ellipse cx="963.0" cy="1496.2" rx="8.5" ry="10.9"/><ellipse cx="964.4" cy="1497.9" rx="8.5" ry="10.9"/><ellipse cx="965.1" cy="1499.9" rx="8.5" ry="10.9"/><ellipse cx="964.4" cy="1502.0" rx="8.5" ry="10.9"/><ellipse cx="963.1" cy="1503.8" rx="8.5" ry="10.9"/><ellipse cx="961.6" cy="1505.4" rx="8.5" ry="10.9"/><ellipse cx="960.1" cy="1507.0" rx="8.5" ry="10.9"/><ellipse cx="958.7" cy="1508.7" rx="8.5" ry="10.9"/><ellipse cx="957.3" cy="1510.4" rx="8.5" ry="10.9"/><ellipse cx="956.0" cy="1512.1" rx="8.5" ry="10.9"/><ellipse cx="954.8" cy="1514.0" rx="8.5" ry="10.9"/><ellipse cx="953.6" cy="1515.9" rx="8.5" ry="10.9"/><ellipse cx="952.6" cy="1517.8" rx="8.5" ry="10.9"/><ellipse cx="951.6" cy="1519.8" rx="8.5" ry="10.9"/><ellipse cx="950.7" cy="1521.8" rx="8.5" ry="10.9"/><ellipse cx="949.9" cy="1523.8" rx="8.5" ry="10.9"/><ellipse cx="949.1" cy="1525.9" rx="8.5" ry="10.9"/><ellipse cx="948.4" cy="1528.0" rx="8.5" ry="10.9"/><ellipse cx="947.8" cy="1530.1" rx="8.5" ry="10.9"/><ellipse cx="947.2" cy="1532.2" rx="8.5" ry="10.9"/><ellipse cx="946.6" cy="1534.3" rx="8.5" ry="10.9"/><ellipse cx="946.1" cy="1536.4" rx="8.5" ry="10.9"/><ellipse cx="945.6" cy="1538.6" rx="8.5" ry="10.9"/><ellipse cx="945.2" cy="1540.7" rx="8.5" ry="10.9"/><ellipse cx="944.8" cy="1542.9" rx="8.5" ry="10.9"/><ellipse cx="944.4" cy="1545.1" rx="8.5" ry="10.9"/><ellipse cx="944.0" cy="1547.2" rx="8.5" ry="10.9"/><ellipse cx="943.6" cy="1549.4" rx="8.5" ry="10.9"/><ellipse cx="943.3" cy="1551.6" rx="8.5" ry="10.9"/><ellipse cx="943.0" cy="1553.8" rx="8.5" ry="10.9"/><ellipse cx="942.7" cy="1555.9" rx="8.5" ry="10.9"/><ellipse cx="942.4" cy="1558.1" rx="8.5" ry="10.9"/><ellipse cx="942.2" cy="1560.3" rx="8.5" ry="10.9"/><ellipse cx="941.9" cy="1562.5" rx="8.5" ry="10.9"/><ellipse cx="941.7" cy="1564.7" rx="8.5" ry="10.9"/><ellipse cx="941.5" cy="1566.9" rx="8.5" ry="10.9"/><ellipse cx="941.3" cy="1569.1" rx="8.5" ry="10.9"/><ellipse cx="941.1" cy="1571.3" rx="8.5" ry="10.9"/><ellipse cx="940.9" cy="1573.4" rx="8.5" ry="10.9"/><ellipse cx="940.7" cy="1575.6" rx="8.5" ry="10.9"/><ellipse cx="940.5" cy="1577.8" rx="8.5" ry="10.9"/><ellipse cx="940.4" cy="1580.0" rx="8.5" ry="10.9"/><ellipse cx="940.2" cy="1582.2" rx="8.5" ry="10.9"/><ellipse cx="940.1" cy="1584.4" rx="8.5" ry="10.9"/><ellipse cx="939.9" cy="1586.6" rx="8.5" ry="10.9"/><ellipse cx="939.8" cy="1588.8" rx="8.5" ry="10.9"/><ellipse cx="939.7" cy="1591.0" rx="8.5" ry="10.9"/><ellipse cx="939.6" cy="1593.2" rx="8.5" ry="10.9"/><ellipse cx="939.4" cy="1595.4" rx="8.5" ry="10.9"/><ellipse cx="939.3" cy="1597.6" rx="8.5" ry="10.9"/><ellipse cx="939.2" cy="1599.8" rx="8.5" ry="10.9"/><ellipse cx="939.1" cy="1602.0" rx="8.5" ry="10.9"/><ellipse cx="939.0" cy="1604.2" rx="8.5" ry="10.9"/><ellipse cx="938.9" cy="1606.4" rx="8.5" ry="10.9"/><ellipse cx="938.8" cy="1608.6" rx="8.5" ry="10.9"/><ellipse cx="938.8" cy="1610.8" rx="8.5" ry="10.9"/><ellipse cx="938.7" cy="1613.0" rx="8.5" ry="10.9"/><ellipse cx="938.6" cy="1615.2" rx="8.5" ry="10.9"/><ellipse cx="938.5" cy="1617.4" rx="8.5" ry="10.9"/><ellipse cx="938.5" cy="1619.6" rx="8.5" ry="10.9"/><ellipse cx="938.4" cy="1621.8" rx="8.5" ry="10.9"/><ellipse cx="938.3" cy="1624.0" rx="8.5" ry="10.9"/><ellipse cx="938.3" cy="1626.2" rx="8.5" ry="10.9"/><ellipse cx="938.2" cy="1628.4" rx="8.5" ry="10.9"/><ellipse cx="938.1" cy="1630.6" rx="8.5" ry="10.9"/><ellipse cx="938.1" cy="1632.8" rx="8.5" ry="10.9"/><ellipse cx="938.0" cy="1635.0" rx="8.5" ry="10.9"/><ellipse cx="938.0" cy="1637.2" rx="8.5" ry="10.9"/><ellipse cx="937.9" cy="1639.4" rx="8.5" ry="10.9"/><ellipse cx="937.9" cy="1641.6" rx="8.5" ry="10.9"/><ellipse cx="937.9" cy="1643.8" rx="8.5" ry="10.9"/><ellipse cx="937.8" cy="1646.0" rx="8.5" ry="10.9"/><ellipse cx="937.8" cy="1648.2" rx="8.5" ry="10.9"/><ellipse cx="937.7" cy="1650.4" rx="8.5" ry="10.9"/><ellipse cx="937.7" cy="1652.6" rx="8.5" ry="10.9"/><ellipse cx="937.7" cy="1654.8" rx="8.5" ry="10.9"/><ellipse cx="937.6" cy="1657.0" rx="8.5" ry="10.9"/><ellipse cx="937.6" cy="1659.2" rx="8.5" ry="10.9"/><ellipse cx="937.6" cy="1661.4" rx="8.5" ry="10.9"/><ellipse cx="937.6" cy="1663.6" rx="8.5" ry="10.9"/><ellipse cx="937.5" cy="1665.8" rx="8.5" ry="10.9"/><ellipse cx="937.5" cy="1668.0" rx="8.5" ry="10.9"/><ellipse cx="937.5" cy="1670.2" rx="8.5" ry="10.9"/><ellipse cx="937.5" cy="1672.4" rx="8.5" ry="10.9"/><ellipse cx="937.4" cy="1674.6" rx="8.5" ry="10.9"/><ellipse cx="937.4" cy="1676.8" rx="8.5" ry="10.9"/><ellipse cx="937.4" cy="1679.0" rx="8.5" ry="10.9"/><ellipse cx="937.4" cy="1681.2" rx="8.5" ry="10.9"/><ellipse cx="937.4" cy="1683.4" rx="8.5" ry="10.9"/><ellipse cx="937.3" cy="1685.6" rx="8.5" ry="10.9"/><ellipse cx="937.3" cy="1687.8" rx="8.5" ry="10.9"/><ellipse cx="937.3" cy="1690.0" rx="8.5" ry="10.9"/><ellipse cx="937.3" cy="1692.2" rx="8.5" ry="10.9"/><ellipse cx="937.3" cy="1694.4" rx="8.5" ry="10.9"/><ellipse cx="937.3" cy="1696.6" rx="8.5" ry="10.9"/></g>
<clipPath id="cp8"><rect x="789.80" y="1044.30" width="185.20" height="652.30"/></clipPath>
<path d="M905.3 1042.5L902.6 1056.8L899.8 1069.2L896.8 1080L893.6 1089.2L890.1 1096.9L886.3 1103.4L884.3 1106.2L882.2 1108.8L879.9 1111.1L877.5 1113.1L873 1116.1L867.7 1118.4L861.8 1120.2L854.6 1121.5L846.5 1122.3L836.2 1122.8L801.5 1123.2L832.7 1123.5L842.1 1123.9L849.8 1124.4L856.6 1125.2L862.3 1126.3L867.3 1127.8L871.5 1129.6L875.8 1132.3L879.6 1135.4L883.1 1139.3L886.3 1144L889.2 1149.5L891.9 1155.9L894.3 1163.2L896.5 1171.4L898.6 1180.7L900.4 1191.2L902.1 1202.7L903.5 1215L904.7 1228.2L905.7 1242.2L906.4 1256.3L906.8 1270.2L906.9 1283.1L906.7 1295.2L906.3 1306.4L905.5 1316.5L904.5 1325.5L903.2 1333.6L901.6 1340.6L899.7 1346.8L898.1 1350.9L896.2 1354.7L894.1 1358L891.8 1360.7L889.2 1363.2L886.5 1365.2L883.2 1367L879.6 1368.4L875.9 1369.6L871.8 1370.4L866.6 1371.2L861.2 1371.7L847.4 1372.4L824.5 1372.7L844 1372.9L856.3 1373.4L865.9 1374.1L873.5 1375.2L880.4 1376.8L886.5 1379.1L891.8 1382L897 1386L901.1 1390.1L905.2 1395L909.1 1400.7L913.2 1407.6L916.7 1414.1L920.3 1421.7L932.2 1447.9L936.6 1457.2L941.1 1465.9L945.4 1473.3L949.5 1479.3L953.8 1484.6L958.4 1489.3L966.3 1496.2L967.5 1497.6L968.2 1498.8L968.3 1500.4L967.7 1502L966.3 1503.8L961.5 1509.3L958.8 1512.9L956.1 1517.6L953.7 1522.9L951.5 1529L949.7 1536L948 1544L946.6 1553L945.3 1564L944.2 1576.6L943.3 1590.9L942.6 1607.1L941.6 1646.4L941.2 1697.5" fill="none" stroke="#7a1f26" stroke-width="8.8" stroke-linejoin="round" stroke-linecap="round" clip-path="url(#cp8)"/>
<rect x="790.80" y="1044.30" width="178.20" height="652.30" fill="none" stroke="#211e1f" stroke-width="2.75" />
<line x1="820.50" y1="1044.30" x2="820.50" y2="1051.70" stroke="#211e1f" stroke-width="2.4" />
<line x1="820.50" y1="1696.60" x2="820.50" y2="1689.20" stroke="#211e1f" stroke-width="2.4" />
<line x1="894.75" y1="1044.30" x2="894.75" y2="1051.70" stroke="#211e1f" stroke-width="2.4" />
<line x1="894.75" y1="1696.60" x2="894.75" y2="1689.20" stroke="#211e1f" stroke-width="2.4" />
<line x1="790.80" y1="1261.20" x2="798.20" y2="1261.20" stroke="#211e1f" stroke-width="2.4" />
<line x1="969.00" y1="1261.20" x2="961.60" y2="1261.20" stroke="#211e1f" stroke-width="2.4" />
<line x1="790.80" y1="1478.80" x2="798.20" y2="1478.80" stroke="#211e1f" stroke-width="2.4" />
<line x1="969.00" y1="1478.80" x2="961.60" y2="1478.80" stroke="#211e1f" stroke-width="2.4" />
<circle cx="906.8" cy="1261.8" r="10.4" fill="none" stroke="#000" stroke-width="4.6"/>
<circle cx="970.3" cy="1499.5" r="10.4" fill="none" stroke="#000" stroke-width="4.6"/>
<text x="836.00" y="1277.00" font-size="40" fill="#262223" stroke="#262223" text-anchor="start" style="stroke-width:.3px">R1</text>
<text x="888.00" y="1517.40" font-size="40" fill="#262223" stroke="#262223" text-anchor="start" style="stroke-width:.3px">P1</text>
<text x="797.0" y="1658.8" font-size="43.5" fill="#7a1f26" stroke="#7a1f26">10<tspan font-size="25.4" dy="-14.6" dx="2.6">-2</tspan></text>
<text x="846.20" y="1754.70" font-size="49.3" fill="#262223" stroke="#262223" text-anchor="start" >-50</text>
<text x="955.90" y="1754.70" font-size="49.3" fill="#262223" stroke="#262223" text-anchor="start" >0</text>
</svg>
</div>
</body></html>
